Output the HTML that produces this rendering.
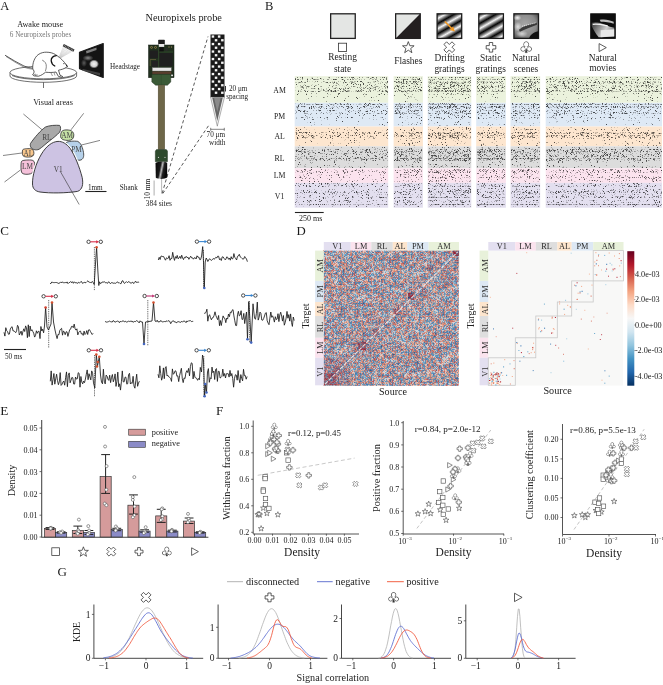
<!DOCTYPE html>
<html><head><meta charset="utf-8"><title>Figure</title>
<style>html,body{margin:0;padding:0;background:#fff;} svg{display:block;} text{font-family:'Liberation Serif', serif;}</style>
</head><body>
<svg width="663" height="685" viewBox="0 0 663 685">
<rect width="663" height="685" fill="#fff"/>
<text x="0.3" y="10" font-size="12.5" text-anchor="start" fill="#1a1a1a">A</text>
<text x="265" y="10" font-size="12.5" text-anchor="start" fill="#1a1a1a">B</text>
<text x="0.2" y="234.8" font-size="13" text-anchor="start" fill="#1a1a1a">C</text>
<text x="296.6" y="234.8" font-size="12.8" text-anchor="start" fill="#1a1a1a">D</text>
<text x="0.3" y="414.9" font-size="13.2" text-anchor="start" fill="#1a1a1a">E</text>
<text x="216" y="414.9" font-size="13.2" text-anchor="start" fill="#1a1a1a">F</text>
<text x="57.6" y="575.9" font-size="13" text-anchor="start" fill="#1a1a1a">G</text>
<text x="40.2" y="26.5" font-size="8.2" text-anchor="middle" fill="#222">Awake mouse</text>
<text x="40.5" y="36.5" font-size="7.2" text-anchor="middle" fill="#777">6 Neuropixels probes</text>
<g stroke="#333" stroke-width="0.7" fill="white"><path d="M10,72.5 L10,76 A33.3,6.3 0 0 0 76.6,76 L76.6,72.5"/><ellipse cx="43.3" cy="72.5" rx="33.3" ry="6.3"/><path d="M12,75.5 A33.3,6.3 0 0 0 74.6,75.5" fill="none"/><line x1="43.5" y1="82.3" x2="43.5" y2="88"/></g>
<path d="M5,55.2 Q15,61.5 24,66 Q29,68 33,68.3" fill="none" stroke="#333" stroke-width="0.8"/>
<path d="M6,56.4 Q15,62.5 24,67.2 Q28,68.8 32.8,69.2" fill="none" stroke="#333" stroke-width="0.5"/>
<path d="M32.7,68.2 C32.5,63 34.5,57.5 38.1,54.7 C41,52.6 44,52.2 46.2,52.2 C50,52.2 53,53 55.5,54.6 C59,56.8 62,59.5 64.5,62.5 C65.8,64 66.8,65.3 67.3,66.5 C66,67.8 64,68.7 62.5,69.2 C61,69.7 59.5,69.9 58.5,70.2 L60,75.2 L62.8,76.6 L61.8,77.3 L58.3,76.3 L56,72 C53,72.6 49,72.6 45.5,72.2 C43.5,73.8 41.5,75.4 38.5,76.2 L33.8,75.9 L32.6,74.6 C33.6,73.6 34.4,72.4 34,71 C33.3,70.1 32.9,69.1 32.7,68.2 Z" fill="white" stroke="#333" stroke-width="0.8" stroke-linejoin="round"/>
<path d="M42.2,60.1 C45,61.5 46.5,63.5 46.3,66.5 C46.2,68.5 45.8,70 45.3,71" fill="none" stroke="#333" stroke-width="0.6"/>
<path d="M33.5,74.5 L36,74.2 M35,75.6 L37.5,74.6 M51,73 L52.5,76 M54,72.6 L55,75.5" stroke="#333" stroke-width="0.5"/>
<path d="M56.3,55.6 C53,55.8 51,58 51.2,60.8 C51.4,63 52.8,65 54.8,66" fill="none" stroke="#111" stroke-width="1.3" stroke-linecap="round"/>
<circle cx="63.9" cy="63.6" r="0.55" fill="#111"/>
<path d="M66,64.5 L67.4,66.6" stroke="#111" stroke-width="1"/>
<line x1="58.8" y1="57.6" x2="63.6" y2="46.6" stroke="#999" stroke-width="0.3"/>
<line x1="59" y1="57.6" x2="64.9" y2="47.2" stroke="#999" stroke-width="0.3"/>
<line x1="59.3" y1="57.7" x2="66.2" y2="47.8" stroke="#999" stroke-width="0.3"/>
<line x1="59.5" y1="57.8" x2="67.5" y2="48.5" stroke="#999" stroke-width="0.3"/>
<line x1="59.8" y1="57.8" x2="68.8" y2="49.1" stroke="#999" stroke-width="0.3"/>
<line x1="60" y1="57.9" x2="70.1" y2="49.7" stroke="#999" stroke-width="0.3"/>
<line x1="60.3" y1="57.9" x2="71.4" y2="50.3" stroke="#999" stroke-width="0.3"/>
<line x1="60.5" y1="58" x2="72.7" y2="50.9" stroke="#999" stroke-width="0.3"/>
<g transform="rotate(27 68.6 47.9)"><rect x="62.6" y="46.6" width="12" height="2.6" fill="#2a2a2a"/><rect x="63.3" y="47.1" width="0.7" height="1.6" fill="#aaa"/><rect x="64.9" y="47.1" width="0.7" height="1.6" fill="#aaa"/><rect x="66.5" y="47.1" width="0.7" height="1.6" fill="#aaa"/><rect x="68.1" y="47.1" width="0.7" height="1.6" fill="#aaa"/><rect x="69.7" y="47.1" width="0.7" height="1.6" fill="#aaa"/><rect x="71.3" y="47.1" width="0.7" height="1.6" fill="#aaa"/><rect x="72.9" y="47.1" width="0.7" height="1.6" fill="#aaa"/></g>
<path d="M79.5,52.3 L103.2,43.5 L103.2,77.4 L79.5,68.6 Z" fill="#141414" stroke="#1a1a1a" stroke-width="1.2" stroke-linejoin="round"/>
<defs><radialGradient id="scrblob" cx="0.5" cy="0.5" r="0.5"><stop offset="0" stop-color="#f4f4f4"/><stop offset="0.6" stop-color="#d0d0d0"/><stop offset="1" stop-color="#d0d0d0" stop-opacity="0"/></radialGradient><radialGradient id="scrg" cx="0.5" cy="0.5" r="0.5"><stop offset="0" stop-color="#8a8a8a"/><stop offset="1" stop-color="#8a8a8a" stop-opacity="0"/></radialGradient></defs>
<path d="M86,51 L96.5,47.5 L96.5,50 L86.5,53.5 Z" fill="#9a9a9a" opacity="0.8"/>
<ellipse cx="88" cy="58" rx="5.5" ry="3" fill="url(#scrg)"/>
<ellipse cx="84" cy="63" rx="3" ry="4" fill="url(#scrg)" opacity="0.6"/>
<ellipse cx="94" cy="64" rx="5" ry="4.5" fill="url(#scrblob)"/>
<path d="M83,69 L100,73 L100,75.5 L82,70.5 Z" fill="#555" opacity="0.7"/>
<text x="110" y="69" font-size="7.2" text-anchor="start" fill="#222">Headstage</text>
<text x="53" y="105.2" font-size="8.2" text-anchor="middle" fill="#222">Visual areas</text>
<g stroke="#333" stroke-width="0.6"><line x1="23.4" y1="114" x2="42.2" y2="129.9"/><line x1="83.7" y1="113.3" x2="70.9" y2="129.9"/><line x1="100" y1="140.4" x2="81.4" y2="145"/><line x1="3" y1="155.5" x2="21.9" y2="153"/><line x1="4.5" y1="182" x2="20.4" y2="170"/></g>
<path d="M66.2,142.6 C68,141.2 74,140.8 77.8,141.4 C81,143 82.8,148 83.5,152.5 C84.2,156.5 83.3,159.6 80,160.2 C78,160.4 76.5,159.8 75.5,158.5 C73.5,155 71.5,150.5 69,147 C68,145.5 66.5,144 66.2,142.6 Z" fill="#b6d1ea" stroke="#2a2a2a" stroke-width="0.8"/>
<path d="M61,133 C61.5,130.5 64,129.8 67,129.9 C71,130 73.6,131.5 73.8,134.8 C74,138.5 72,140.3 68.5,140.4 C64.5,140.5 60.8,139.5 60.6,136.5 Z" fill="#c6e2a6" stroke="#2a2a2a" stroke-width="0.8"/>
<path d="M30.5,143.5 C34,138 41,130 45.5,127 C49,125.4 56,125 59.6,125.4 C61,126.3 60.8,130.5 59.6,132.2 C57,135 53,138.3 50,140.5 C46,143.5 42,147.5 39,149.3 C36,150.6 32,149.5 30.8,147.2 C30.2,146 30.1,144.5 30.5,143.5 Z" fill="#a9a9a9" stroke="#2a2a2a" stroke-width="0.8"/>
<path d="M22.6,150 C23,148.8 27,148.5 30.5,148.7 C33,149 34,151 33.9,153.5 C33.8,156 32,157.1 28.5,157.1 C25,157.1 22.8,156.6 22.5,154.5 C22.3,152.8 22.3,151 22.6,150 Z" fill="#f9c88e" stroke="#2a2a2a" stroke-width="0.8"/>
<path d="M21.6,161.3 C22.5,160.1 27,159.9 31,160 C34,160.2 34.9,162 34.7,165.5 C34.5,169.5 33.6,172.8 30.5,173.8 C27.5,174.6 24,174.5 22.3,173.3 C21,172.3 20.9,168 21,165 C21.1,163.3 21.2,162 21.6,161.3 Z" fill="#f5c1da" stroke="#2a2a2a" stroke-width="0.8"/>
<path d="M58,141.4 C62,141.2 66.5,143.5 70.3,148.6 C75,156 79.5,167 82.2,177.5 C83.5,184 82.5,189.8 77.5,191.4 C66,193.2 50,193.4 40,192 C35,191.2 32.6,188.5 32.5,184 C32.3,176 35.5,164 41.5,154 C46,146.5 52,141.6 58,141.4 Z" fill="none" stroke="white" stroke-width="3"/>
<path d="M58,141.4 C62,141.2 66.5,143.5 70.3,148.6 C75,156 79.5,167 82.2,177.5 C83.5,184 82.5,189.8 77.5,191.4 C66,193.2 50,193.4 40,192 C35,191.2 32.6,188.5 32.5,184 C32.3,176 35.5,164 41.5,154 C46,146.5 52,141.6 58,141.4 Z" fill="#cdc3e3" stroke="#2a2a2a" stroke-width="0.9"/>
<line x1="60.3" y1="171.4" x2="79.2" y2="204.5" stroke="#333" stroke-width="0.6"/>
<text x="46.8" y="139.6" font-size="7.3" text-anchor="middle" fill="#444">RL</text>
<text x="67.2" y="138.4" font-size="7.3" text-anchor="middle" fill="#444">AM</text>
<text x="76.4" y="152" font-size="7.3" text-anchor="middle" fill="#444">PM</text>
<text x="28.4" y="155.5" font-size="7.3" text-anchor="middle" fill="#444">AL</text>
<text x="27.6" y="169.3" font-size="7.3" text-anchor="middle" fill="#444">LM</text>
<text x="58.1" y="171.6" font-size="7.3" text-anchor="middle" fill="#444">V1</text>
<text x="95.3" y="189.5" font-size="7.2" text-anchor="middle" fill="#222">1mm</text>
<line x1="85.3" y1="191.5" x2="106.5" y2="191.5" stroke="#222" stroke-width="1.1"/>
<text x="183.7" y="21.2" font-size="10.3" text-anchor="middle" fill="#1a1a1a">Neuropixels probe</text>
<rect x="158.2" y="39.7" width="6.6" height="5" fill="#1e1e1e" rx="0.6"/>
<rect x="148.5" y="45" width="25.5" height="32.7" fill="#21301e" stroke="#151c14" stroke-width="0.5"/>
<rect x="158.8" y="44" width="5.4" height="2.9" fill="#e8e8e8"/>
<rect x="159.4" y="47.3" width="4.3" height="4.3" fill="#111"/>
<circle cx="151.5" cy="47.4" r="1" fill="none" stroke="#b89c5a" stroke-width="0.6"/><circle cx="155.5" cy="47.4" r="1" fill="none" stroke="#b89c5a" stroke-width="0.6"/><circle cx="169" cy="47" r="0.7" fill="#8a7a50"/><circle cx="171.5" cy="47" r="0.7" fill="#8a7a50"/>
<rect x="149.5" y="50.6" width="8.5" height="7.6" fill="#1f1f1f"/><rect x="159.4" y="53" width="13.3" height="13.3" fill="#1f1f1f"/><rect x="151.8" y="61" width="6.2" height="5.8" fill="#222"/><path d="M150,59.5 L156,59.5 M150.2,60 L150.2,66" stroke="#8a7a4a" stroke-width="0.5"/><path d="M158.6,46 V77 M159.5,52 H173" stroke="#3f5d38" stroke-width="0.5"/><rect x="165.5" y="48" width="2" height="3" fill="#2a2a2a"/>
<rect x="152.3" y="67.7" width="19" height="3.3" fill="#e6e6e6" stroke="#777" stroke-width="0.4"/>
<rect x="152.3" y="71.5" width="19" height="2.8" fill="#5a3e2e"/>
<rect x="171" y="74.6" width="2" height="1.6" fill="#ddd"/>
<path d="M151.8,74.3 L170.8,74.3 L170.8,82 L167.5,85.2 L155.6,85.2 L151.8,82 Z" fill="#3b5a37" stroke="#1e2a1e" stroke-width="0.4"/>
<line x1="161.3" y1="74.5" x2="161.3" y2="85" stroke="#2e4a2b" stroke-width="0.4"/>
<rect x="158.1" y="85" width="6.7" height="64.5" fill="#6e6749" stroke="#4a4532" stroke-width="0.3"/>
<path d="M155.3,151 L156.5,149.5 L166.3,149.5 L167.5,151 L167.5,161.7 L155.3,161.7 Z" fill="#2e4a2d" stroke="#1c2a1c" stroke-width="0.4"/>
<circle cx="158.5" cy="157.4" r="0.6" fill="#ccc"/><circle cx="165" cy="157.4" r="0.6" fill="#ccc"/>
<defs><linearGradient id="cyl" x1="0" y1="0" x2="1" y2="0.3"><stop offset="0" stop-color="#050505"/><stop offset="0.45" stop-color="#1a1a1a"/><stop offset="0.6" stop-color="#bbbbbb"/><stop offset="0.75" stop-color="#222"/><stop offset="1" stop-color="#080808"/></linearGradient></defs>
<path d="M155.5,163 C157,161.5 166,161 167.2,163 L167.2,177.5 C165,179.3 158,179.3 155.8,177.8 Z" fill="url(#cyl)"/>
<line x1="161.6" y1="179" x2="161.6" y2="193.5" stroke="#888" stroke-width="0.6"/>
<line x1="154.1" y1="180.5" x2="154.1" y2="195.5" stroke="#999" stroke-width="0.8"/>
<text x="150.1" y="189" font-size="7.4" text-anchor="middle" fill="#222" transform="rotate(-90 150.1 189)">10 mm</text>
<text x="119.8" y="190.3" font-size="7.2" text-anchor="start" fill="#222">Shank</text>
<text x="158.8" y="205.8" font-size="7.4" text-anchor="middle" fill="#222">384 sites</text>
<g stroke="#222" stroke-width="0.75" stroke-dasharray="3.2,2.4" fill="none"><line x1="162.2" y1="193.2" x2="208" y2="36.5"/><line x1="162.8" y1="193.5" x2="209" y2="125"/></g>
<rect x="210.5" y="34.5" width="14" height="62.5" fill="#1a1a1a"/>
<rect x="211.7" y="35.4" width="2.5" height="2.3" fill="#f4f4f4"/><rect x="217.9" y="35.4" width="2.5" height="2.3" fill="#f4f4f4"/><rect x="214.8" y="39.1" width="2.5" height="2.3" fill="#f4f4f4"/><rect x="221.1" y="39.1" width="2.5" height="2.3" fill="#f4f4f4"/><rect x="211.7" y="42.9" width="2.5" height="2.3" fill="#f4f4f4"/><rect x="217.9" y="42.9" width="2.5" height="2.3" fill="#f4f4f4"/><rect x="214.8" y="46.6" width="2.5" height="2.3" fill="#f4f4f4"/><rect x="221.1" y="46.6" width="2.5" height="2.3" fill="#f4f4f4"/><rect x="211.7" y="50.4" width="2.5" height="2.3" fill="#f4f4f4"/><rect x="217.9" y="50.4" width="2.5" height="2.3" fill="#f4f4f4"/><rect x="214.8" y="54.1" width="2.5" height="2.3" fill="#f4f4f4"/><rect x="221.1" y="54.1" width="2.5" height="2.3" fill="#f4f4f4"/><rect x="211.7" y="57.9" width="2.5" height="2.3" fill="#f4f4f4"/><rect x="217.9" y="57.9" width="2.5" height="2.3" fill="#f4f4f4"/><rect x="214.8" y="61.6" width="2.5" height="2.3" fill="#f4f4f4"/><rect x="221.1" y="61.6" width="2.5" height="2.3" fill="#f4f4f4"/><rect x="211.7" y="65.4" width="2.5" height="2.3" fill="#f4f4f4"/><rect x="217.9" y="65.4" width="2.5" height="2.3" fill="#f4f4f4"/><rect x="214.8" y="69.1" width="2.5" height="2.3" fill="#f4f4f4"/><rect x="221.1" y="69.1" width="2.5" height="2.3" fill="#f4f4f4"/><rect x="211.7" y="72.9" width="2.5" height="2.3" fill="#f4f4f4"/><rect x="217.9" y="72.9" width="2.5" height="2.3" fill="#f4f4f4"/><rect x="214.8" y="76.6" width="2.5" height="2.3" fill="#f4f4f4"/><rect x="221.1" y="76.6" width="2.5" height="2.3" fill="#f4f4f4"/><rect x="211.7" y="80.4" width="2.5" height="2.3" fill="#f4f4f4"/><rect x="217.9" y="80.4" width="2.5" height="2.3" fill="#f4f4f4"/><rect x="214.8" y="84.1" width="2.5" height="2.3" fill="#f4f4f4"/><rect x="221.1" y="84.1" width="2.5" height="2.3" fill="#f4f4f4"/><rect x="211.7" y="87.9" width="2.5" height="2.3" fill="#f4f4f4"/><rect x="217.9" y="87.9" width="2.5" height="2.3" fill="#f4f4f4"/><rect x="214.8" y="91.6" width="2.5" height="2.3" fill="#f4f4f4"/><rect x="221.1" y="91.6" width="2.5" height="2.3" fill="#f4f4f4"/>
<path d="M210.5,97 L224.5,97 L217.3,126.2 Z" fill="#f0f0f0" stroke="#444" stroke-width="0.4"/>
<path d="M212.2,97.5 L222.8,97.5 L217.3,121 Z" fill="#666"/>
<path d="M214,97.5 L220.8,97.5 L217.3,112 Z" fill="#8a8a8a"/>
<path d="M225.5,86 L225.5,91.5" stroke="#333" stroke-width="1"/>
<text x="238.2" y="91.2" font-size="7.2" text-anchor="middle" fill="#222">20 μm</text>
<text x="237.2" y="99" font-size="7.2" text-anchor="middle" fill="#222">spacing</text>
<path d="M210.7,129.3 H224.3 M210.7,127.8 V130.8 M224.3,127.8 V130.8" stroke="#333" stroke-width="0.6"/>
<text x="215.8" y="136.8" font-size="7.2" text-anchor="middle" fill="#222">70 μm</text>
<text x="217.2" y="145" font-size="7.2" text-anchor="middle" fill="#222">width</text>
<rect x="330.65" y="13.8" width="24.6" height="24.6" fill="#e4e6e4" stroke="#222" stroke-width="1.3"/>
<rect x="395.65" y="13.8" width="24.6" height="24.6" fill="#e4e6e4" stroke="#222" stroke-width="1.3"/>
<path d="M420.2,13.8 L420.2,38.4 L395.65,38.4 Z" fill="#231f20"/>
<defs><linearGradient id="gr1" gradientUnits="userSpaceOnUse" x1="437.1" y1="13.8" x2="441.5" y2="21.5" spreadMethod="repeat"><stop offset="0" stop-color="#050505"/><stop offset="0.25" stop-color="#777"/><stop offset="0.5" stop-color="#f4f4f4"/><stop offset="0.75" stop-color="#777"/><stop offset="1" stop-color="#050505"/></linearGradient></defs>
<rect x="437.1" y="13.8" width="24.6" height="24.6" fill="url(#gr1)" stroke="#1a1a1a" stroke-width="1.3"/>
<path d="M444.8,21.5 L452,28.8" stroke="#f59a23" stroke-width="1.5"/><path d="M455,31.6 L449.6,29.9 L453.1,26.4 Z" fill="#f59a23"/>
<defs><linearGradient id="gr2" gradientUnits="userSpaceOnUse" x1="478.8" y1="13.8" x2="483.2" y2="21.5" spreadMethod="repeat"><stop offset="0" stop-color="#050505"/><stop offset="0.25" stop-color="#777"/><stop offset="0.5" stop-color="#f4f4f4"/><stop offset="0.75" stop-color="#777"/><stop offset="1" stop-color="#050505"/></linearGradient></defs>
<rect x="478.8" y="13.8" width="24.6" height="24.6" fill="url(#gr2)" stroke="#1a1a1a" stroke-width="1.3"/>
<defs><radialGradient id="ns" cx="0.45" cy="0.45" r="0.65"><stop offset="0" stop-color="#a8a8a8"/><stop offset="0.7" stop-color="#8a8a8a"/><stop offset="1" stop-color="#555"/></radialGradient><radialGradient id="nsw" cx="0.5" cy="0.5" r="0.5"><stop offset="0" stop-color="#f2f2f2"/><stop offset="1" stop-color="#f2f2f2" stop-opacity="0"/></radialGradient></defs>
<rect x="513.9" y="13.8" width="24.6" height="24.6" fill="url(#ns)" stroke="#1a1a1a" stroke-width="1.3"/>
<ellipse cx="517.4" cy="17.8" rx="4" ry="3" fill="url(#nsw)"/>
<ellipse cx="517.9" cy="26.8" rx="4" ry="5" fill="url(#nsw)" opacity="0.8"/>
<ellipse cx="521.9" cy="33.8" rx="6" ry="3.5" fill="url(#nsw)" opacity="0.7"/>
<path d="M518.9,29.8 C523.9,25.8 529.9,23.8 536.9,22.8 L536.9,24.8 C530.9,26.8 524.9,29.8 519.9,31.8 Z" fill="#2a2a2a" opacity="0.85"/>
<path d="M521.9,26.3 L535.9,22.8" stroke="#eee" stroke-width="0.9" stroke-dasharray="1.2,0.8"/>
<path d="M528.9,38.400000000000006 C530.9,33.8 534.9,31.8 538.5,31.3 L538.5,38.400000000000006 Z" fill="#111"/>
<rect x="590.7" y="13.8" width="24.6" height="24.6" fill="#0e0e0e" stroke="#111" stroke-width="1"/>
<defs><linearGradient id="nm" x1="0" y1="0" x2="1" y2="0.4"><stop offset="0" stop-color="#333"/><stop offset="0.4" stop-color="#8a8a8a"/><stop offset="0.7" stop-color="#cfcfcf"/><stop offset="1" stop-color="#888"/></linearGradient></defs>
<path d="M591.7,22.8 C595.7,21.3 600.7,22.8 604.7,24.8 C608.7,26.3 611.7,27.3 614.2,27.8 L614.2,36.8 L598.7,37.3 C595.7,33.8 592.7,28.8 591.7,25.8 Z" fill="url(#nm)"/>
<path d="M600.7,30.3 L614.2,29.3 L614.2,36.3 L600.7,37.3 Z" fill="#e8e8e8"/>
<path d="M592.7,24.3 C597.7,23.3 602.7,24.8 607.7,25.8" stroke="#f4f4f4" stroke-width="1.3" fill="none"/>
<path d="M599.7,19.8 C604.7,18.8 609.7,19.8 613.7,21.8 L613.7,23.8 C609.7,22.3 604.7,21.8 600.7,21.8 Z" fill="#bdbdbd"/>
<rect x="338.4" y="43.2" width="8.2" height="8.2" fill="white" stroke="#333" stroke-width="0.8"/>
<polygon points="408.3,41.6 409.8,45.7 414.1,45.8 410.7,48.5 411.9,52.7 408.3,50.2 404.7,52.7 405.9,48.5 402.5,45.8 406.8,45.7" fill="white" stroke="#333" stroke-width="0.8" stroke-linejoin="round"/>
<polygon points="452,41.8 454.7,44.5 452,47.2 454.7,49.9 452,52.6 449.3,49.9 446.6,52.6 443.9,49.9 446.6,47.2 443.9,44.5 446.6,41.8 449.3,44.5" fill="white" stroke="#333" stroke-width="0.8" stroke-linejoin="round"/>
<polygon points="489.3,42.5 492.7,42.5 492.7,45.6 495.8,45.6 495.8,49 492.7,49 492.7,52.1 489.3,52.1 489.3,49 486.2,49 486.2,45.6 489.3,45.6" fill="white" stroke="#333" stroke-width="0.8" stroke-linejoin="round"/>
<g><ellipse cx="526.2" cy="44.5" rx="2.4" ry="2.7" fill="white" stroke="#333" stroke-width="0.8"/><ellipse cx="523.1" cy="49" rx="2.2" ry="2.2" fill="white" stroke="#333" stroke-width="0.8"/><ellipse cx="529.3" cy="49" rx="2.2" ry="2.2" fill="white" stroke="#333" stroke-width="0.8"/><ellipse cx="526.2" cy="44.5" rx="2" ry="2.3" fill="white"/><ellipse cx="523.1" cy="49" rx="1.8" ry="1.8" fill="white"/><ellipse cx="529.3" cy="49" rx="1.8" ry="1.8" fill="white"/><rect x="525.1" y="46.8" width="2.3" height="2.8" fill="white"/><path d="M526.2,48.4 L525.2,52.6 L527.2,52.6 Z" fill="#333" stroke="#333" stroke-width="0.5" stroke-linejoin="round"/></g>
<polygon points="599.1,43.6 606.3,47.6 599.1,51.6" fill="white" stroke="#333" stroke-width="0.8" stroke-linejoin="round"/>
<text x="342.5" y="60.4" font-size="9.4" text-anchor="middle" fill="#1e1e1e">Resting</text>
<text x="342.5" y="71.5" font-size="9.4" text-anchor="middle" fill="#1e1e1e">state</text>
<text x="408.3" y="64.3" font-size="9.4" text-anchor="middle" fill="#1e1e1e">Flashes</text>
<text x="449.5" y="60.8" font-size="9.4" text-anchor="middle" fill="#1e1e1e">Drifting</text>
<text x="449.5" y="71.9" font-size="9.4" text-anchor="middle" fill="#1e1e1e">gratings</text>
<text x="490.7" y="60.8" font-size="9.4" text-anchor="middle" fill="#1e1e1e">Static</text>
<text x="490.7" y="71.9" font-size="9.4" text-anchor="middle" fill="#1e1e1e">gratings</text>
<text x="526" y="60.8" font-size="9.4" text-anchor="middle" fill="#1e1e1e">Natural</text>
<text x="526" y="71.9" font-size="9.4" text-anchor="middle" fill="#1e1e1e">scenes</text>
<text x="602.7" y="60.8" font-size="9.4" text-anchor="middle" fill="#1e1e1e">Natural</text>
<text x="602.7" y="71.4" font-size="9.4" text-anchor="middle" fill="#1e1e1e">movies</text>
<rect x="294.7" y="76.2" width="93.5" height="26.6" fill="#ebf2dd"/>
<rect x="393.6" y="76.2" width="29.3" height="26.6" fill="#ebf2dd"/>
<rect x="427.7" y="76.2" width="43.6" height="26.6" fill="#ebf2dd"/>
<rect x="476.2" y="76.2" width="29.7" height="26.6" fill="#ebf2dd"/>
<rect x="510.5" y="76.2" width="29.7" height="26.6" fill="#ebf2dd"/>
<rect x="545.7" y="76.2" width="116.3" height="26.6" fill="#ebf2dd"/>
<rect x="294.7" y="102.8" width="93.5" height="23.7" fill="#dee9f5"/>
<rect x="393.6" y="102.8" width="29.3" height="23.7" fill="#dee9f5"/>
<rect x="427.7" y="102.8" width="43.6" height="23.7" fill="#dee9f5"/>
<rect x="476.2" y="102.8" width="29.7" height="23.7" fill="#dee9f5"/>
<rect x="510.5" y="102.8" width="29.7" height="23.7" fill="#dee9f5"/>
<rect x="545.7" y="102.8" width="116.3" height="23.7" fill="#dee9f5"/>
<rect x="294.7" y="126.5" width="93.5" height="19.8" fill="#fde6cf"/>
<rect x="393.6" y="126.5" width="29.3" height="19.8" fill="#fde6cf"/>
<rect x="427.7" y="126.5" width="43.6" height="19.8" fill="#fde6cf"/>
<rect x="476.2" y="126.5" width="29.7" height="19.8" fill="#fde6cf"/>
<rect x="510.5" y="126.5" width="29.7" height="19.8" fill="#fde6cf"/>
<rect x="545.7" y="126.5" width="116.3" height="19.8" fill="#fde6cf"/>
<rect x="294.7" y="146.3" width="93.5" height="22" fill="#dcdcdc"/>
<rect x="393.6" y="146.3" width="29.3" height="22" fill="#dcdcdc"/>
<rect x="427.7" y="146.3" width="43.6" height="22" fill="#dcdcdc"/>
<rect x="476.2" y="146.3" width="29.7" height="22" fill="#dcdcdc"/>
<rect x="510.5" y="146.3" width="29.7" height="22" fill="#dcdcdc"/>
<rect x="545.7" y="146.3" width="116.3" height="22" fill="#dcdcdc"/>
<rect x="294.7" y="168.3" width="93.5" height="14.6" fill="#fbe3ee"/>
<rect x="393.6" y="168.3" width="29.3" height="14.6" fill="#fbe3ee"/>
<rect x="427.7" y="168.3" width="43.6" height="14.6" fill="#fbe3ee"/>
<rect x="476.2" y="168.3" width="29.7" height="14.6" fill="#fbe3ee"/>
<rect x="510.5" y="168.3" width="29.7" height="14.6" fill="#fbe3ee"/>
<rect x="545.7" y="168.3" width="116.3" height="14.6" fill="#fbe3ee"/>
<rect x="294.7" y="182.9" width="93.5" height="24.8" fill="#e3dfef"/>
<rect x="393.6" y="182.9" width="29.3" height="24.8" fill="#e3dfef"/>
<rect x="427.7" y="182.9" width="43.6" height="24.8" fill="#e3dfef"/>
<rect x="476.2" y="182.9" width="29.7" height="24.8" fill="#e3dfef"/>
<rect x="510.5" y="182.9" width="29.7" height="24.8" fill="#e3dfef"/>
<rect x="545.7" y="182.9" width="116.3" height="24.8" fill="#e3dfef"/>
<path d="M297 77.5h1m31 0h1m21 0h1m0 0h1m6 0h1m8 0h1m4 0h1m2 0h1m5 0h1m16 0h1m13 0h1m21 0h1m13 0h1m9 0h1m0 0h1m2 0h1m38 0h1m69 0h1m16 0h1m10 0h1m9 0h1m39 0h1M295 78.5h1m6 0h1m67 0h1m15 0h1m51 0h1m39 0h1m84 0h1m5 0h1M297 79.5h1m0 0h1m15 0h1m19 0h1m1 0h1m43 0h1m2 0h1m2 0h1m17 0h1m0 0h1m7 0h1m1 0h1m18 0h1m6 0h1m9 0h1m3 0h1m21 0h1m5 0h1m46 0h1m6 0h1m1 0h1m6 0h1m3 0h1m63 0h1m35 0h1m2 0h1M420 80.5h1m9 0h1m1 0h1m37 0h1m84 0h1m20 0h1m14 0h1m45 0h1M307 81.5h1m9 0h1m57 0h1m18 0h1m15 0h1m3 0h1m1 0h1m34 0h1m17 0h1m7 0h1m21 0h1m2 0h1m14 0h1m5 0h1m5 0h1m0 0h1m19 0h1m2 0h1m5 0h1m12 0h1m22 0h1m24 0h1m23 0h1M299 82.5h1m5 0h1m20 0h1m3 0h1m12 0h1m8 0h1m15 0h1m18 0h1m15 0h1m9 0h1m1 0h1m36 0h1m0 0h1m0 0h1m0 0h1m8 0h1m0 0h1m4 0h1m16 0h1m4 0h1m1 0h1m2 0h1m2 0h1m17 0h1m71 0h1m8 0h1m10 0h1m15 0h1m22 0h1m10 0h1M355 83.5h1m47 0h1m7 0h1m0 0h1m31 0h1m17 0h1m0 0h1m29 0h1m41 0h1m26 0h1m5 0h1m30 0h1m22 0h1m8 0h1M356 84.5h1m1 0h1m10 0h1m80 0h1m0 0h1m74 0h1m24 0h1m2 0h1m9 0h1m21 0h1m61 0h1M305 85.5h1m23 0h1m30 0h1m6 0h1m29 0h1m38 0h1m19 0h1m11 0h1m29 0h1m1 0h1m18 0h1m6 0h1m3 0h1m4 0h1m21 0h1m17 0h1m17 0h1m0 0h1m20 0h1m34 0h1M302 86.5h1m4 0h1m0 0h1m23 0h1m20 0h1m30 0h1m10 0h1m32 0h1m8 0h1m1 0h1m4 0h1m7 0h1m28 0h1m5 0h1m4 0h1m11 0h1m7 0h1m1 0h1m1 0h1m86 0h1m11 0h1m25 0h1m4 0h1m2 0h1m1 0h1m0 0h1m4 0h1M302 87.5h1m54 0h1m7 0h1m9 0h1m53 0h1m5 0h1m49 0h1m32 0h1m6 0h1m5 0h1m17 0h1m101 0h1M314 88.5h1m20 0h1m9 0h1m21 0h1m26 0h1m6 0h1m14 0h1m17 0h1m8 0h1m0 0h1m16 0h1m22 0h1m4 0h1m32 0h1m1 0h1m4 0h1m9 0h1m6 0h1m22 0h1m6 0h1m9 0h1m1 0h1m72 0h1M323 89.5h1m19 0h1m17 0h1m13 0h1m43 0h1m0 0h1m23 0h1m39 0h1m49 0h1m12 0h1m23 0h1m0 0h1m3 0h1m42 0h1m2 0h1m5 0h1m1 0h1m7 0h1m18 0h1M304 90.5h1m18 0h1m36 0h1m2 0h1m21 0h1m22 0h1m6 0h1m12 0h1m10 0h1m5 0h1m7 0h1m1 0h1m1 0h1m7 0h1m4 0h1m11 0h1m3 0h1m30 0h1m7 0h1m9 0h1m2 0h1m0 0h1m7 0h1m5 0h1m2 0h1m0 0h1m1 0h1m22 0h1m12 0h1m11 0h1m0 0h1m2 0h1M312 91.5h1m0 0h1m5 0h1m20 0h1m1 0h1m4 0h1m13 0h1m4 0h1m3 0h1m16 0h1m14 0h1m0 0h1m7 0h1m17 0h1m1 0h1m27 0h1m7 0h1m13 0h1m1 0h1m9 0h1m2 0h1m4 0h1m17 0h1m4 0h1m1 0h1m2 0h1m18 0h1m22 0h1m6 0h1m19 0h1m2 0h1m6 0h1m21 0h1m25 0h1M387 92.5h1m209 0h1M327 93.5h1m10 0h1m42 0h1m65 0h1m3 0h1m5 0h1m25 0h1m3 0h1m41 0h1m17 0h1m0 0h1m27 0h1m2 0h1m15 0h1m37 0h1m26 0h1M338 94.5h1m24 0h1m2 0h1m37 0h1m32 0h1m8 0h1m110 0h1m47 0h1M394 95.5h1m10 0h1M311 96.5h1m36 0h1m59 0h1m178 0h1M323 97.5h1m108 0h1m9 0h1m78 0h1m60 0h1m24 0h1m9 0h1M547 98.5h1m96 0h1M552 99.5h1M633 100.5h1m3 0h1m8 0h1M560 101.5h1M300 103.5h1m39 0h1m6 0h1m51 0h1m10 0h1m18 0h1m3 0h1m6 0h1m3 0h1m7 0h1m14 0h1m16 0h1m36 0h1m12 0h1m29 0h1m1 0h1m17 0h1m37 0h1M317 104.5h1m0 0h1m12 0h1m8 0h1m0 0h1m30 0h1m1 0h1m5 0h1m15 0h1m13 0h1m8 0h1m0 0h1m11 0h1m5 0h1m12 0h1m0 0h1m1 0h1m22 0h1m1 0h1m32 0h1m11 0h1m3 0h1m6 0h1m15 0h1m2 0h1m0 0h1m2 0h1m0 0h1m8 0h1m2 0h1m2 0h1m1 0h1m2 0h1m3 0h1m5 0h1m0 0h1m0 0h1m3 0h1m2 0h1m3 0h1m31 0h1m6 0h1m6 0h1m4 0h1m4 0h1m2 0h1M367 105.5h1m0 0h1m41 0h1m27 0h1m15 0h1m15 0h1m106 0h1m46 0h1m13 0h1M301 106.5h1m24 0h1m14 0h1m4 0h1m0 0h1m30 0h1m23 0h1m14 0h1m15 0h1m16 0h1m11 0h1m0 0h1m32 0h1m3 0h1m14 0h1m37 0h1m13 0h1m10 0h1m8 0h1m3 0h1m10 0h1m19 0h1m15 0h1m2 0h1m14 0h1m3 0h1M297 107.5h1m13 0h1m9 0h1m21 0h1m4 0h1m15 0h1m14 0h1m50 0h1m11 0h1m7 0h1m1 0h1m31 0h1m38 0h1m40 0h1m7 0h1m15 0h1m24 0h1m6 0h1m9 0h1m10 0h1m6 0h1m3 0h1M320 108.5h1m30 0h1m49 0h1m55 0h1m1 0h1m9 0h1m9 0h1m5 0h1m36 0h1m1 0h1m3 0h1m115 0h1m12 0h1M397 109.5h1m54 0h1m152 0h1m16 0h1m27 0h1M304 110.5h1m24 0h1m4 0h1m25 0h1m16 0h1m7 0h1m9 0h1m14 0h1m5 0h1m0 0h1m0 0h1m2 0h1m21 0h1m19 0h1m6 0h1m9 0h1m5 0h1m4 0h1m32 0h1m1 0h1m0 0h1m11 0h1m12 0h1m11 0h1m13 0h1m9 0h1m7 0h1m2 0h1m35 0h1m12 0h1M307 111.5h1m64 0h1m13 0h1m12 0h1m8 0h1m2 0h1m25 0h1m1 0h1m4 0h1m19 0h1m64 0h1m35 0h1m1 0h1m69 0h1M396 112.5h1m51 0h1m6 0h1m4 0h1m1 0h1m32 0h1m0 0h1m23 0h1m37 0h1m5 0h1m78 0h1M316 113.5h1m6 0h1m43 0h1m10 0h1m16 0h1m6 0h1m6 0h1m4 0h1m14 0h1m14 0h1m6 0h1m18 0h1m26 0h1m1 0h1m11 0h1m16 0h1m4 0h1m1 0h1m20 0h1m9 0h1m24 0h1m3 0h1m17 0h1m10 0h1m28 0h1m6 0h1M347 114.5h1m208 0h1M305 115.5h1m53 0h1m15 0h1m82 0h1m39 0h1m5 0h1m18 0h1m10 0h1m4 0h1m16 0h1m15 0h1m81 0h1M400 116.5h1m47 0h1m13 0h1M301 117.5h1m0 0h1m35 0h1m13 0h1m29 0h1m16 0h1m16 0h1m22 0h1m9 0h1m8 0h1m37 0h1m15 0h1m11 0h1m6 0h1m21 0h1m7 0h1m11 0h1m6 0h1m23 0h1m7 0h1m39 0h1M336 118.5h1m82 0h1m63 0h1m53 0h1m57 0h1m19 0h1M312 119.5h1m0 0h1m114 0h1m14 0h1M336 120.5h1M358 121.5h1m224 0h1M402 122.5h1m54 0h1m181 0h1M420 123.5h1M416 124.5h1m37 0h1m1 0h1m31 0h1m15 0h1m147 0h1M438 127.5h1M296 128.5h1m341 0h1M344 129.5h1m121 0h1m63 0h1m1 0h1m16 0h1m54 0h1M612 130.5h1m9 0h1m25 0h1M296 132.5h1m3 0h1m0 0h1m1 0h1m11 0h1m27 0h1m18 0h1m17 0h1m37 0h1m15 0h1m3 0h1m11 0h1m47 0h1m37 0h1m14 0h1m2 0h1m14 0h1m35 0h1m1 0h1m1 0h1m19 0h1m13 0h1m3 0h1m4 0h1M296 133.5h1m9 0h1m26 0h1m35 0h1m8 0h1m17 0h1m12 0h1m19 0h1m2 0h1m12 0h1m8 0h1m43 0h1m2 0h1m25 0h1m6 0h1m12 0h1m10 0h1m19 0h1m1 0h1m49 0h1m9 0h1m3 0h1m7 0h1m0 0h1M296 134.5h1m11 0h1m55 0h1m32 0h1m13 0h1m26 0h1m56 0h1m7 0h1m97 0h1m5 0h1m14 0h1M311 135.5h1m4 0h1m17 0h1m27 0h1m47 0h1m24 0h1m3 0h1m0 0h1m11 0h1m13 0h1m32 0h1m12 0h1m40 0h1m2 0h1m0 0h1m3 0h1m2 0h1m4 0h1m8 0h1m2 0h1m0 0h1m8 0h1m9 0h1m28 0h1m3 0h1m3 0h1m0 0h1M311 136.5h1m20 0h1m27 0h1m9 0h1m65 0h1m6 0h1m0 0h1m7 0h1m10 0h1m24 0h1m28 0h1m9 0h1m2 0h1m1 0h1m13 0h1m0 0h1m14 0h1m33 0h1m1 0h1m19 0h1m6 0h1M348 137.5h1m11 0h1m81 0h1m11 0h1m3 0h1m6 0h1m22 0h1m5 0h1m16 0h1m1 0h1m15 0h1m3 0h1m18 0h1m14 0h1m36 0h1m7 0h1m6 0h1m10 0h1m11 0h1m0 0h1M332 138.5h1m21 0h1m145 0h1m73 0h1m8 0h1m7 0h1m1 0h1m37 0h1m12 0h1M364 139.5h1M411 140.5h1m68 0h1m123 0h1M398 141.5h1m226 0h1M305 142.5h1m24 0h1m23 0h1m62 0h1m23 0h1m143 0h1m56 0h1m16 0h1M348 143.5h1m59 0h1m0 0h1m127 0h1m41 0h1m25 0h1m42 0h1m10 0h1M437 144.5h1m43 0h1m1 0h1M496 145.5h1m69 0h1m80 0h1m5 0h1m2 0h1M303 147.5h1m47 0h1m30 0h1m12 0h1m68 0h1m107 0h1m6 0h1m68 0h1M409 148.5h1M298 149.5h1m6 0h1m22 0h1m8 0h1m14 0h1m42 0h1m3 0h1m1 0h1m9 0h1m9 0h1m15 0h1m3 0h1m15 0h1m2 0h1m6 0h1m13 0h1m3 0h1m4 0h1m7 0h1m5 0h1m44 0h1m10 0h1m12 0h1m2 0h1m3 0h1m25 0h1m5 0h1m14 0h1m21 0h1m6 0h1m3 0h1M297 150.5h1m50 0h1m4 0h1m11 0h1m3 0h1m14 0h1m21 0h1m29 0h1m42 0h1m9 0h1m2 0h1m41 0h1m12 0h1m5 0h1m1 0h1m11 0h1m16 0h1m46 0h1M298 151.5h1m5 0h1m19 0h1m22 0h1m8 0h1m9 0h1m3 0h1m11 0h1m13 0h1m0 0h1m3 0h1m6 0h1m2 0h1m0 0h1m3 0h1m1 0h1m10 0h1m1 0h1m13 0h1m11 0h1m26 0h1m4 0h1m5 0h1m4 0h1m22 0h1m15 0h1m10 0h1m3 0h1m17 0h1m10 0h1m0 0h1m2 0h1m1 0h1m3 0h1m1 0h1m21 0h1m4 0h1m0 0h1m16 0h1m5 0h1m0 0h1m8 0h1M304 152.5h1m0 0h1m7 0h1m21 0h1m24 0h1m0 0h1m3 0h1m35 0h1m18 0h1m13 0h1m12 0h1m0 0h1m1 0h1m26 0h1m0 0h1m5 0h1m26 0h1m3 0h1m1 0h1m54 0h1m29 0h1m3 0h1m7 0h1m44 0h1M308 153.5h1m28 0h1m6 0h1m0 0h1m0 0h1m62 0h1m32 0h1m10 0h1m6 0h1m18 0h1m19 0h1m22 0h1m11 0h1m41 0h1m82 0h1M308 154.5h1m35 0h1m14 0h1m7 0h1m11 0h1m6 0h1m8 0h1m6 0h1m10 0h1m15 0h1m34 0h1m0 0h1m26 0h1m33 0h1m12 0h1m34 0h1m31 0h1m2 0h1m30 0h1m4 0h1m5 0h1M304 155.5h1m70 0h1m9 0h1m20 0h1m10 0h1m15 0h1m4 0h1m10 0h1m14 0h1m3 0h1m17 0h1m12 0h1m15 0h1m39 0h1m31 0h1m3 0h1m9 0h1m3 0h1m36 0h1M326 156.5h1m9 0h1m15 0h1m22 0h1m11 0h1m44 0h1m5 0h1m22 0h1m2 0h1m1 0h1m30 0h1m1 0h1m14 0h1m41 0h1m6 0h1m2 0h1m1 0h1m6 0h1m0 0h1m9 0h1m4 0h1m10 0h1m0 0h1m14 0h1m5 0h1M306 157.5h1m51 0h1m1 0h1m50 0h1m7 0h1m11 0h1m81 0h1m53 0h1m15 0h1m1 0h1m14 0h1m8 0h1m32 0h1M306 158.5h1m15 0h1m3 0h1m4 0h1m4 0h1m2 0h1m0 0h1m5 0h1m1 0h1m23 0h1m3 0h1m23 0h1m0 0h1m0 0h1m0 0h1m0 0h1m2 0h1m7 0h1m1 0h1m12 0h1m4 0h1m4 0h1m4 0h1m4 0h1m4 0h1m9 0h1m4 0h1m7 0h1m5 0h1m0 0h1m1 0h1m0 0h1m1 0h1m11 0h1m22 0h1m1 0h1m3 0h1m2 0h1m3 0h1m11 0h1m21 0h1m0 0h1m4 0h1m25 0h1m2 0h1m8 0h1m0 0h1m13 0h1M315 159.5h1m0 0h1m3 0h1m2 0h1m22 0h1m16 0h1m15 0h1m17 0h1m8 0h1m21 0h1m5 0h1m13 0h1m5 0h1m3 0h1m33 0h1m4 0h1m13 0h1m12 0h1m34 0h1m15 0h1m0 0h1m13 0h1m13 0h1m28 0h1m0 0h1m19 0h1M295 160.5h1m20 0h1m32 0h1m23 0h1m22 0h1m22 0h1m16 0h1m13 0h1m1 0h1m5 0h1m1 0h1m1 0h1m96 0h1m8 0h1m71 0h1M334 161.5h1m79 0h1m50 0h1m33 0h1m62 0h1m57 0h1m25 0h1M492 162.5h1m7 0h1m23 0h1m37 0h1m34 0h1m40 0h1M469 163.5h1M412 164.5h1m17 0h1m71 0h1M406 165.5h1m39 0h1m186 0h1M317 166.5h1m84 0h1m14 0h1m2 0h1m20 0h1m35 0h1m5 0h1m44 0h1m30 0h1m67 0h1M382 167.5h1m15 0h1m22 0h1m177 0h1m21 0h1M305 169.5h1m15 0h1m23 0h1m68 0h1m68 0h1m96 0h1m12 0h1m16 0h1m0 0h1m0 0h1M301 170.5h1m8 0h1m14 0h1m17 0h1m51 0h1m67 0h1m15 0h1m2 0h1m4 0h1m32 0h1m2 0h1m7 0h1m28 0h1m22 0h1m13 0h1m13 0h1m9 0h1m30 0h1M297 171.5h1m4 0h1m13 0h1m30 0h1m4 0h1m7 0h1m11 0h1m9 0h1m31 0h1m35 0h1m16 0h1m12 0h1m2 0h1m2 0h1m32 0h1m12 0h1m59 0h1m25 0h1m10 0h1m4 0h1m21 0h1M327 172.5h1m6 0h1m9 0h1m2 0h1m10 0h1m20 0h1m3 0h1m1 0h1m49 0h1m9 0h1m3 0h1m2 0h1m10 0h1m3 0h1m59 0h1m7 0h1m34 0h1m6 0h1m9 0h1m2 0h1m3 0h1m3 0h1m44 0h1m9 0h1M344 173.5h1m39 0h1m55 0h1m36 0h1m0 0h1m6 0h1M338 174.5h1m20 0h1m90 0h1m129 0h1m7 0h1M308 175.5h1m20 0h1m1 0h1m37 0h1m30 0h1m10 0h1m1 0h1m31 0h1m8 0h1m11 0h1m0 0h1m27 0h1m7 0h1m48 0h1m39 0h1M304 176.5h1m38 0h1m77 0h1m20 0h1m26 0h1m34 0h1m6 0h1m15 0h1m91 0h1m22 0h1m2 0h1M339 177.5h1m3 0h1m72 0h1m25 0h1m10 0h1m27 0h1m47 0h1m32 0h1m20 0h1m27 0h1m10 0h1m0 0h1m5 0h1m2 0h1m1 0h1m5 0h1m5 0h1m12 0h1m0 0h1M305 178.5h1m3 0h1m3 0h1m132 0h1m55 0h1m48 0h1m93 0h1m3 0h1m3 0h1m0 0h1M385 179.5h1m66 0h1m199 0h1m3 0h1M430 180.5h1m166 0h1m31 0h1M318 181.5h1m93 0h1m100 0h1m11 0h1m29 0h1m0 0h1m43 0h1m15 0h1M296 183.5h1m12 0h1m2 0h1m6 0h1m17 0h1m46 0h1m44 0h1m6 0h1m1 0h1m45 0h1m26 0h1m7 0h1m51 0h1m0 0h1m18 0h1m29 0h1M300 184.5h1m50 0h1m0 0h1m52 0h1m2 0h1m75 0h1m6 0h1m3 0h1m21 0h1m95 0h1m20 0h1M295 185.5h1m19 0h1m18 0h1m6 0h1m61 0h1m0 0h1m4 0h1m4 0h1m45 0h1m22 0h1m1 0h1m5 0h1m7 0h1m19 0h1m19 0h1m16 0h1m19 0h1m16 0h1m28 0h1m1 0h1M299 186.5h1m9 0h1m36 0h1m62 0h1m2 0h1m31 0h1m2 0h1m4 0h1m7 0h1m2 0h1m4 0h1m52 0h1m4 0h1m42 0h1m24 0h1m34 0h1m1 0h1m20 0h1M403 187.5h1m15 0h1m64 0h1m41 0h1m95 0h1M429 188.5h1m30 0h1m185 0h1M329 189.5h1m83 0h1m20 0h1m19 0h1m22 0h1m38 0h1m5 0h1m23 0h1m28 0h1m37 0h1m28 0h1m10 0h1m5 0h1M307 190.5h1m55 0h1m56 0h1m0 0h1m34 0h1m0 0h1m10 0h1m8 0h1m25 0h1m72 0h1m11 0h1m21 0h1m21 0h1m0 0h1M303 191.5h1m31 0h1m8 0h1m65 0h1m41 0h1m12 0h1m2 0h1m1 0h1m14 0h1m26 0h1m1 0h1m58 0h1m11 0h1m1 0h1m39 0h1M306 192.5h1m27 0h1m9 0h1m41 0h1m13 0h1m0 0h1m4 0h1m8 0h1m12 0h1m12 0h1m28 0h1m16 0h1m1 0h1m0 0h1m43 0h1m15 0h1m2 0h1m5 0h1m21 0h1m1 0h1m25 0h1m26 0h1m7 0h1m16 0h1M295 193.5h1m23 0h1m12 0h1m15 0h1m12 0h1m38 0h1m52 0h1m14 0h1m59 0h1m0 0h1m63 0h1m51 0h1M324 194.5h1m4 0h1m75 0h1m2 0h1m12 0h1m41 0h1m35 0h1m88 0h1m58 0h1M342 195.5h1m219 0h1M447 196.5h1m34 0h1m6 0h1m0 0h1m65 0h1m5 0h1m0 0h1m2 0h1m1 0h1m12 0h1m6 0h1m14 0h1m27 0h1m6 0h1m15 0h1m1 0h1M304 197.5h1m43 0h1m3 0h1m8 0h1m17 0h1m18 0h1m0 0h1m10 0h1m22 0h1m7 0h1m3 0h1m18 0h1m18 0h1m2 0h1m0 0h1m7 0h1m20 0h1m4 0h1m8 0h1m2 0h1m60 0h1m3 0h1m2 0h1m18 0h1m12 0h1m3 0h1m11 0h1m8 0h1M362 198.5h1m8 0h1m148 0h1m39 0h1m12 0h1m45 0h1m12 0h1M607 199.5h1m18 0h1M334 200.5h1m12 0h1m25 0h1m8 0h1m16 0h1m30 0h1m3 0h1m17 0h1m7 0h1m38 0h1m21 0h1m14 0h1m16 0h1m16 0h1m49 0h1m18 0h1M319 201.5h1m0 0h1m46 0h1m43 0h1m8 0h1m11 0h1m32 0h1m51 0h1m8 0h1m26 0h1m22 0h1m35 0h1m1 0h1M295 202.5h1m38 0h1m12 0h1m1 0h1m165 0h1m88 0h1m6 0h1m11 0h1m4 0h1m28 0h1M405 203.5h1m173 0h1M310 204.5h1m9 0h1m1 0h1m9 0h1m2 0h1m8 0h1m23 0h1m15 0h1m1 0h1m23 0h1m1 0h1m2 0h1m15 0h1m4 0h1m13 0h1m1 0h1m2 0h1m7 0h1m13 0h1m2 0h1m3 0h1m5 0h1m0 0h1m4 0h1m4 0h1m20 0h1m12 0h1m17 0h1m4 0h1m4 0h1m5 0h1m6 0h1m3 0h1m10 0h1m2 0h1m9 0h1m0 0h1m3 0h1m22 0h1m0 0h1m10 0h1m0 0h1m2 0h1m0 0h1m4 0h1M358 205.5h1m276 0h1m24 0h1M319 206.5h1m46 0h1" stroke="#000" stroke-opacity="0.5" stroke-width="1" fill="none"/>
<path d="M300 77.5h1m37 0h1m6 0h1m3 0h1m12 0h1m23 0h1m17 0h1m5 0h1m5 0h1m40 0h1m12 0h1m6 0h1m1 0h1m12 0h1m31 0h1m1 0h1m39 0h1m25 0h1m22 0h1m0 0h1m4 0h1M587 78.5h1m34 0h1m25 0h1M313 79.5h1m1 0h1m1 0h1m5 0h1m3 0h1m0 0h1m18 0h1m4 0h1m0 0h1m5 0h1m15 0h1m22 0h1m18 0h1m11 0h1m9 0h1m0 0h1m2 0h1m1 0h1m2 0h1m3 0h1m8 0h1m0 0h1m21 0h1m3 0h1m5 0h1m0 0h1m20 0h1m36 0h1m2 0h1m12 0h1m0 0h1m3 0h1m21 0h1m13 0h1m5 0h1m2 0h1m1 0h1m10 0h1m12 0h1m1 0h1m7 0h1m2 0h1m0 0h1M377 80.5h1m152 0h1M315 81.5h1m7 0h1m20 0h1m50 0h1m3 0h1m9 0h1m5 0h1m2 0h1m18 0h1m0 0h1m8 0h1m35 0h1m7 0h1m9 0h1m23 0h1m34 0h1m3 0h1m6 0h1m15 0h1m14 0h1m4 0h1m5 0h1m17 0h1M300 82.5h1m3 0h1m31 0h1m9 0h1m4 0h1m10 0h1m19 0h1m14 0h1m1 0h1m36 0h1m31 0h1m9 0h1m2 0h1m14 0h1m19 0h1m5 0h1m6 0h1m2 0h1m2 0h1m2 0h1m19 0h1m20 0h1m6 0h1m17 0h1m2 0h1m3 0h1m7 0h1m17 0h1m5 0h1m10 0h1m0 0h1M333 83.5h1m2 0h1m0 0h1m64 0h1m31 0h1m17 0h1m16 0h1m7 0h1m5 0h1m17 0h1m20 0h1m1 0h1m0 0h1m56 0h1m20 0h1m35 0h1m10 0h1M318 84.5h1m19 0h1m36 0h1m25 0h1m37 0h1m0 0h1m3 0h1m88 0h1m127 0h1M315 85.5h1m20 0h1m9 0h1m38 0h1m10 0h1m56 0h1m13 0h1m2 0h1m7 0h1m12 0h1m66 0h1m3 0h1m29 0h1m37 0h1m10 0h1m3 0h1m2 0h1M301 86.5h1m19 0h1m29 0h1m2 0h1m21 0h1m0 0h1m25 0h1m9 0h1m24 0h1m12 0h1m32 0h1m10 0h1m26 0h1m6 0h1m3 0h1m0 0h1m18 0h1m12 0h1m1 0h1m10 0h1m11 0h1m27 0h1m11 0h1M303 87.5h1m65 0h1m4 0h1m10 0h1m12 0h1m59 0h1m7 0h1m10 0h1m8 0h1m3 0h1m7 0h1m4 0h1m20 0h1m80 0h1m5 0h1m2 0h1m19 0h1m2 0h1m10 0h1M303 88.5h1m7 0h1m22 0h1m6 0h1m1 0h1m3 0h1m12 0h1m2 0h1m0 0h1m31 0h1m6 0h1m10 0h1m21 0h1m1 0h1m12 0h1m2 0h1m7 0h1m18 0h1m46 0h1m28 0h1m5 0h1m26 0h1m58 0h1M301 89.5h1m16 0h1m50 0h1m48 0h1m36 0h1m2 0h1m52 0h1m11 0h1m2 0h1m60 0h1m28 0h1m18 0h1M298 90.5h1m25 0h1m5 0h1m7 0h1m9 0h1m7 0h1m13 0h1m2 0h1m8 0h1m3 0h1m13 0h1m6 0h1m1 0h1m19 0h1m11 0h1m7 0h1m0 0h1m9 0h1m31 0h1m44 0h1m30 0h1m2 0h1m8 0h1m12 0h1m0 0h1m6 0h1m7 0h1m29 0h1m5 0h1M311 91.5h1m22 0h1m8 0h1m4 0h1m9 0h1m0 0h1m8 0h1m28 0h1m20 0h1m15 0h1m1 0h1m11 0h1m13 0h1m0 0h1m14 0h1m18 0h1m4 0h1m13 0h1m17 0h1m15 0h1m37 0h1m2 0h1m3 0h1m7 0h1m5 0h1m1 0h1m11 0h1m2 0h1m2 0h1m5 0h1m0 0h1m8 0h1m7 0h1M463 92.5h1m75 0h1M311 93.5h1m4 0h1m126 0h1m4 0h1m48 0h1m28 0h1m96 0h1m0 0h1m11 0h1M412 94.5h1m21 0h1m16 0h1m1 0h1m60 0h1m48 0h1m58 0h1M651 95.5h1M327 96.5h1m108 0h1m4 0h1m75 0h1m120 0h1M452 97.5h1m44 0h1M308 98.5h1m36 0h1m61 0h1m170 0h1M443 99.5h1m15 0h1M297 100.5h1m262 0h1m90 0h1M326 101.5h1M304 103.5h1m74 0h1m66 0h1m4 0h1m95 0h1m1 0h1m0 0h1m30 0h1m24 0h1m7 0h1m30 0h1M301 104.5h1m2 0h1m2 0h1m1 0h1m2 0h1m17 0h1m6 0h1m10 0h1m17 0h1m3 0h1m6 0h1m7 0h1m14 0h1m29 0h1m4 0h1m0 0h1m6 0h1m1 0h1m9 0h1m35 0h1m2 0h1m7 0h1m1 0h1m21 0h1m0 0h1m8 0h1m19 0h1m6 0h1m9 0h1m23 0h1m8 0h1m2 0h1m8 0h1m4 0h1m21 0h1m9 0h1m4 0h1M552 105.5h1m6 0h1m95 0h1M302 106.5h1m0 0h1m35 0h1m2 0h1m23 0h1m3 0h1m8 0h1m17 0h1m1 0h1m19 0h1m10 0h1m9 0h1m4 0h1m8 0h1m40 0h1m20 0h1m14 0h1m2 0h1m21 0h1m2 0h1m2 0h1m11 0h1m6 0h1m2 0h1m5 0h1m7 0h1m2 0h1m3 0h1m5 0h1m14 0h1m2 0h1m0 0h1m3 0h1m7 0h1m0 0h1m2 0h1m3 0h1M313 107.5h1m4 0h1m0 0h1m17 0h1m22 0h1m16 0h1m24 0h1m26 0h1m1 0h1m5 0h1m3 0h1m13 0h1m0 0h1m13 0h1m10 0h1m3 0h1m5 0h1m21 0h1m25 0h1m22 0h1m7 0h1m12 0h1m9 0h1m17 0h1m2 0h1m2 0h1m5 0h1m4 0h1m8 0h1m15 0h1M330 108.5h1m40 0h1m15 0h1m8 0h1m0 0h1m22 0h1m15 0h1m66 0h1m27 0h1m4 0h1m21 0h1m3 0h1m4 0h1m57 0h1m12 0h1M345 109.5h1m86 0h1m62 0h1m117 0h1M316 110.5h1m15 0h1m16 0h1m3 0h1m4 0h1m39 0h1m15 0h1m0 0h1m12 0h1m37 0h1m55 0h1m24 0h1m8 0h1m1 0h1m64 0h1m10 0h1m5 0h1M330 111.5h1m43 0h1m67 0h1m35 0h1m1 0h1m12 0h1m10 0h1m9 0h1m0 0h1m14 0h1m15 0h1m9 0h1m7 0h1m26 0h1m9 0h1m19 0h1m17 0h1M296 112.5h1m24 0h1m27 0h1m52 0h1m41 0h1m13 0h1m60 0h1m4 0h1m32 0h1m64 0h1m10 0h1m11 0h1m1 0h1M304 113.5h1m0 0h1m56 0h1m6 0h1m7 0h1m3 0h1m15 0h1m6 0h1m1 0h1m10 0h1m12 0h1m26 0h1m6 0h1m1 0h1m2 0h1m14 0h1m35 0h1m34 0h1m6 0h1m26 0h1m11 0h1m8 0h1m8 0h1m7 0h1M310 114.5h1m141 0h1m25 0h1m38 0h1m42 0h1M363 115.5h1m66 0h1m23 0h1m26 0h1m55 0h1m15 0h1m30 0h1m25 0h1M455 116.5h1m96 0h1M309 117.5h1m2 0h1m28 0h1m58 0h1m1 0h1m27 0h1m5 0h1m1 0h1m30 0h1m19 0h1m13 0h1m47 0h1m61 0h1m15 0h1M324 118.5h1m116 0h1m44 0h1m42 0h1m101 0h1m3 0h1M383 119.5h1m76 0h1m51 0h1m110 0h1M431 120.5h1m83 0h1m54 0h1m88 0h1M417 122.5h1m37 0h1m118 0h1M398 124.5h1m12 0h1m80 0h1M384 125.5h1m54 0h1m50 0h1m39 0h1M304 127.5h1m321 0h1M339 128.5h1m73 0h1m23 0h1m32 0h1m53 0h1m104 0h1M331 129.5h1m27 0h1m85 0h1m16 0h1m7 0h1m56 0h1m0 0h1m2 0h1M296 130.5h1m36 0h1m17 0h1m34 0h1m82 0h1m113 0h1m53 0h1M321 132.5h1m0 0h1m11 0h1m19 0h1m13 0h1m5 0h1m3 0h1m0 0h1m7 0h1m18 0h1m2 0h1m10 0h1m22 0h1m43 0h1m1 0h1m3 0h1m2 0h1m33 0h1m15 0h1m10 0h1m8 0h1m3 0h1m10 0h1m11 0h1m9 0h1m21 0h1m28 0h1M302 133.5h1m16 0h1m26 0h1m15 0h1m0 0h1m0 0h1m2 0h1m42 0h1m1 0h1m0 0h1m23 0h1m2 0h1m36 0h1m1 0h1m32 0h1m5 0h1m9 0h1m35 0h1m11 0h1m57 0h1m16 0h1m8 0h1M454 134.5h1m6 0h1m4 0h1m11 0h1m49 0h1m3 0h1m47 0h1m22 0h1m45 0h1M302 135.5h1m6 0h1m20 0h1m19 0h1m60 0h1m0 0h1m6 0h1m18 0h1m10 0h1m7 0h1m0 0h1m1 0h1m29 0h1m0 0h1m1 0h1m24 0h1m3 0h1m1 0h1m7 0h1m21 0h1m10 0h1m0 0h1m26 0h1m1 0h1m2 0h1m9 0h1m6 0h1m12 0h1m3 0h1m13 0h1m6 0h1M313 136.5h1m16 0h1m40 0h1m37 0h1m9 0h1m25 0h1m5 0h1m59 0h1m3 0h1m8 0h1m3 0h1m27 0h1m42 0h1m9 0h1m19 0h1m1 0h1m14 0h1M303 137.5h1m0 0h1m0 0h1m7 0h1m27 0h1m31 0h1m12 0h1m52 0h1m9 0h1m2 0h1m2 0h1m0 0h1m13 0h1m19 0h1m1 0h1m11 0h1m7 0h1m1 0h1m17 0h1m31 0h1m7 0h1m45 0h1m35 0h1M327 138.5h1m45 0h1m0 0h1m12 0h1m25 0h1m42 0h1m130 0h1m0 0h1M442 139.5h1m206 0h1M351 142.5h1m60 0h1m126 0h1m6 0h1m0 0h1m84 0h1M330 143.5h1m187 0h1m52 0h1M609 144.5h1m18 0h1M409 145.5h1m4 0h1m82 0h1M325 147.5h1m46 0h1m71 0h1m23 0h1m13 0h1m5 0h1m8 0h1m40 0h1m0 0h1m34 0h1m24 0h1M429 148.5h1m58 0h1m0 0h1m35 0h1m0 0h1m59 0h1m39 0h1M322 149.5h1m1 0h1m2 0h1m7 0h1m0 0h1m25 0h1m89 0h1m27 0h1m8 0h1m11 0h1m9 0h1m0 0h1m39 0h1m37 0h1m0 0h1m4 0h1m3 0h1m4 0h1m15 0h1m4 0h1m3 0h1M301 150.5h1m84 0h1m7 0h1m40 0h1m9 0h1m21 0h1m16 0h1m52 0h1m8 0h1m34 0h1m17 0h1m15 0h1M308 151.5h1m21 0h1m4 0h1m16 0h1m27 0h1m21 0h1m1 0h1m4 0h1m20 0h1m10 0h1m1 0h1m7 0h1m15 0h1m9 0h1m0 0h1m3 0h1m21 0h1m12 0h1m1 0h1m0 0h1m12 0h1m15 0h1m8 0h1m16 0h1m1 0h1m0 0h1m17 0h1m0 0h1m16 0h1m19 0h1m23 0h1M334 152.5h1m33 0h1m7 0h1m18 0h1m7 0h1m1 0h1m23 0h1m1 0h1m1 0h1m19 0h1m3 0h1m4 0h1m33 0h1m23 0h1m2 0h1m1 0h1m1 0h1m0 0h1m6 0h1m22 0h1m14 0h1m2 0h1m2 0h1m10 0h1m24 0h1m14 0h1m9 0h1M320 153.5h1m51 0h1m10 0h1m11 0h1m2 0h1m2 0h1m9 0h1m16 0h1m4 0h1m14 0h1m8 0h1m36 0h1m7 0h1m1 0h1m43 0h1m30 0h1m66 0h1M298 154.5h1m2 0h1m27 0h1m128 0h1m7 0h1m11 0h1m6 0h1m16 0h1m13 0h1m74 0h1m18 0h1m7 0h1M374 155.5h1m78 0h1m11 0h1m1 0h1m10 0h1m0 0h1m17 0h1m51 0h1m8 0h1m92 0h1m8 0h1M295 156.5h1m0 0h1m7 0h1m6 0h1m0 0h1m9 0h1m18 0h1m40 0h1m22 0h1m0 0h1m4 0h1m23 0h1m4 0h1m11 0h1m70 0h1m3 0h1m25 0h1m1 0h1m28 0h1m2 0h1m0 0h1m3 0h1m1 0h1m0 0h1m26 0h1m0 0h1m9 0h1m3 0h1m17 0h1M314 157.5h1m35 0h1m4 0h1m64 0h1m17 0h1m8 0h1m33 0h1m139 0h1M297 158.5h1m13 0h1m1 0h1m24 0h1m17 0h1m4 0h1m9 0h1m1 0h1m11 0h1m19 0h1m0 0h1m12 0h1m1 0h1m15 0h1m5 0h1m18 0h1m1 0h1m16 0h1m1 0h1m2 0h1m7 0h1m1 0h1m4 0h1m17 0h1m10 0h1m6 0h1m1 0h1m9 0h1m1 0h1m5 0h1m6 0h1m3 0h1m5 0h1m0 0h1m12 0h1m0 0h1m8 0h1m9 0h1m0 0h1m1 0h1m41 0h1m0 0h1m4 0h1M298 159.5h1m29 0h1m32 0h1m0 0h1m45 0h1m2 0h1m5 0h1m1 0h1m35 0h1m24 0h1m6 0h1m0 0h1m41 0h1m0 0h1m6 0h1m14 0h1m3 0h1m15 0h1m13 0h1m1 0h1m15 0h1m21 0h1m3 0h1M310 160.5h1m16 0h1m6 0h1m11 0h1m14 0h1m21 0h1m23 0h1m9 0h1m23 0h1m3 0h1m8 0h1m13 0h1m9 0h1m52 0h1m0 0h1m1 0h1m17 0h1m26 0h1m1 0h1m46 0h1m10 0h1m8 0h1m5 0h1M353 161.5h1m63 0h1m112 0h1m16 0h1m86 0h1M310 162.5h1m94 0h1m76 0h1m146 0h1M451 163.5h1M300 164.5h1m76 0h1m67 0h1m44 0h1m4 0h1M329 165.5h1m194 0h1m81 0h1M333 166.5h1m15 0h1m48 0h1m52 0h1m101 0h1m24 0h1M339 167.5h1m4 0h1m94 0h1m19 0h1m23 0h1m41 0h1m5 0h1m31 0h1M356 169.5h1m53 0h1m46 0h1m0 0h1m2 0h1m18 0h1m4 0h1m43 0h1m29 0h1m22 0h1m4 0h1m15 0h1m11 0h1M305 170.5h1m3 0h1m49 0h1m45 0h1m1 0h1m7 0h1m20 0h1m7 0h1m8 0h1m4 0h1m5 0h1m39 0h1m7 0h1m23 0h1m22 0h1m6 0h1m11 0h1m10 0h1m39 0h1m4 0h1M298 171.5h1m5 0h1m2 0h1m11 0h1m31 0h1m22 0h1m33 0h1m7 0h1m4 0h1m6 0h1m1 0h1m1 0h1m3 0h1m3 0h1m5 0h1m0 0h1m14 0h1m22 0h1m16 0h1m20 0h1m27 0h1m11 0h1m15 0h1m23 0h1m13 0h1m18 0h1m3 0h1M302 172.5h1m6 0h1m6 0h1m28 0h1m61 0h1m24 0h1m4 0h1m48 0h1m27 0h1m41 0h1m69 0h1m8 0h1m4 0h1M417 173.5h1m20 0h1m77 0h1m71 0h1M321 174.5h1m28 0h1m29 0h1m24 0h1m2 0h1m38 0h1m84 0h1m33 0h1M365 175.5h1m116 0h1m63 0h1m72 0h1m5 0h1M300 176.5h1m99 0h1m7 0h1m19 0h1m142 0h1m30 0h1m6 0h1m17 0h1M299 177.5h1m31 0h1m17 0h1m47 0h1m35 0h1m7 0h1m2 0h1m13 0h1m21 0h1m2 0h1m19 0h1m16 0h1m6 0h1m47 0h1m5 0h1m20 0h1m13 0h1m1 0h1m2 0h1m6 0h1m7 0h1m1 0h1m16 0h1M302 178.5h1m152 0h1m4 0h1m28 0h1m39 0h1m35 0h1m39 0h1m23 0h1m21 0h1M375 179.5h1m42 0h1m152 0h1m35 0h1m18 0h1M357 180.5h1m45 0h1m34 0h1m16 0h1m112 0h1m2 0h1m17 0h1m62 0h1M347 181.5h1m29 0h1m21 0h1m15 0h1m16 0h1m3 0h1m25 0h1m6 0h1m139 0h1m8 0h1M328 183.5h1m22 0h1m52 0h1m6 0h1m29 0h1m23 0h1m124 0h1m43 0h1m1 0h1m4 0h1M338 184.5h1m106 0h1m32 0h1M298 185.5h1m10 0h1m9 0h1m15 0h1m2 0h1m13 0h1m3 0h1m43 0h1m4 0h1m29 0h1m1 0h1m2 0h1m3 0h1m36 0h1m7 0h1m2 0h1m94 0h1m3 0h1m2 0h1m16 0h1m24 0h1M323 186.5h1m35 0h1m27 0h1m7 0h1m0 0h1m13 0h1m28 0h1m27 0h1m1 0h1m0 0h1m10 0h1m10 0h1m22 0h1m0 0h1m1 0h1m6 0h1m4 0h1m8 0h1m18 0h1m4 0h1m66 0h1m7 0h1m15 0h1M441 188.5h1m26 0h1m19 0h1m0 0h1m2 0h1m23 0h1m118 0h1m9 0h1M332 189.5h1m46 0h1m21 0h1m4 0h1m28 0h1m6 0h1m35 0h1m19 0h1m20 0h1m42 0h1m11 0h1m65 0h1m9 0h1M463 190.5h1m1 0h1m4 0h1m93 0h1m46 0h1m3 0h1m23 0h1M351 191.5h1m53 0h1m3 0h1m30 0h1m1 0h1m12 0h1m36 0h1m3 0h1m6 0h1m14 0h1m49 0h1m1 0h1m17 0h1m4 0h1m20 0h1m41 0h1m0 0h1M300 192.5h1m7 0h1m0 0h1m5 0h1m14 0h1m0 0h1m1 0h1m3 0h1m2 0h1m16 0h1m10 0h1m26 0h1m3 0h1m30 0h1m7 0h1m41 0h1m33 0h1m7 0h1m5 0h1m6 0h1m29 0h1m13 0h1m34 0h1m6 0h1m3 0h1m5 0h1m2 0h1M334 193.5h1m105 0h1m2 0h1m88 0h1m35 0h1m31 0h1m60 0h1M343 194.5h1m24 0h1m10 0h1m7 0h1m18 0h1m33 0h1m20 0h1m29 0h1m4 0h1m3 0h1m13 0h1m2 0h1m17 0h1m39 0h1m14 0h1m54 0h1m6 0h1M297 195.5h1m48 0h1m138 0h1m144 0h1m29 0h1M309 196.5h1m23 0h1m83 0h1m79 0h1m16 0h1m7 0h1m16 0h1m21 0h1m34 0h1m19 0h1m4 0h1m1 0h1m20 0h1m8 0h1m4 0h1M297 197.5h1m18 0h1m49 0h1m1 0h1m2 0h1m10 0h1m12 0h1m15 0h1m8 0h1m8 0h1m2 0h1m11 0h1m2 0h1m1 0h1m5 0h1m9 0h1m0 0h1m1 0h1m19 0h1m9 0h1m3 0h1m9 0h1m14 0h1m3 0h1m17 0h1m14 0h1m18 0h1m18 0h1m2 0h1m25 0h1m12 0h1m7 0h1M518 198.5h1m64 0h1M457 199.5h1M330 200.5h1m8 0h1m4 0h1m0 0h1m2 0h1m9 0h1m48 0h1m1 0h1m11 0h1m9 0h1m23 0h1m0 0h1m0 0h1m4 0h1m6 0h1m26 0h1m0 0h1m21 0h1m48 0h1m13 0h1m25 0h1m9 0h1M296 201.5h1m11 0h1m0 0h1m28 0h1m9 0h1m20 0h1m16 0h1m21 0h1m0 0h1m35 0h1m14 0h1m21 0h1m13 0h1m96 0h1M309 202.5h1m93 0h1m0 0h1m5 0h1m40 0h1m9 0h1m25 0h1m41 0h1m21 0h1m5 0h1m14 0h1m3 0h1m17 0h1m35 0h1M372 203.5h1m21 0h1m26 0h1m59 0h1M299 204.5h1m1 0h1m5 0h1m25 0h1m8 0h1m4 0h1m2 0h1m12 0h1m13 0h1m19 0h1m7 0h1m7 0h1m23 0h1m16 0h1m2 0h1m1 0h1m7 0h1m0 0h1m10 0h1m1 0h1m1 0h1m13 0h1m5 0h1m12 0h1m3 0h1m0 0h1m27 0h1m9 0h1m5 0h1m4 0h1m0 0h1m12 0h1m1 0h1m3 0h1m7 0h1m0 0h1m12 0h1m10 0h1m3 0h1m25 0h1m4 0h1m2 0h1M309 205.5h1m120 0h1m22 0h1m105 0h1M349 206.5h1m105 0h1m8 0h1m19 0h1m37 0h1m15 0h1m70 0h1m47 0h1" stroke="#000" stroke-opacity="0.35" stroke-width="1" fill="none"/>
<path d="M302 77.5h1m38 0h1m0 0h1m10 0h1m18 0h1m11 0h1m12 0h1m33 0h1m10 0h1m8 0h1m3 0h1m6 0h1m40 0h1m21 0h1m8 0h1m1 0h1m15 0h1m73 0h1m0 0h1m2 0h1m6 0h1m9 0h1m13 0h1M312 78.5h1m7 0h1m98 0h1m48 0h1m81 0h1m24 0h1m1 0h1M295 79.5h1m11 0h1m25 0h1m1 0h1m6 0h1m7 0h1m45 0h1m6 0h1m3 0h1m10 0h1m0 0h1m46 0h1m12 0h1m17 0h1m3 0h1m2 0h1m13 0h1m4 0h1m4 0h1m5 0h1m25 0h1m11 0h1m33 0h1m31 0h1M344 80.5h1m58 0h1M301 81.5h1m55 0h1m2 0h1m0 0h1m25 0h1m10 0h1m4 0h1m2 0h1m6 0h1m112 0h1m10 0h1m9 0h1m15 0h1m12 0h1m2 0h1m1 0h1m16 0h1m10 0h1m4 0h1m11 0h1m1 0h1m18 0h1M327 82.5h1m6 0h1m10 0h1m50 0h1m4 0h1m19 0h1m8 0h1m9 0h1m4 0h1m4 0h1m32 0h1m6 0h1m21 0h1m13 0h1m0 0h1m6 0h1m28 0h1m4 0h1m6 0h1m1 0h1m16 0h1m0 0h1m18 0h1m5 0h1m0 0h1m13 0h1m11 0h1m0 0h1M351 83.5h1m11 0h1m42 0h1m9 0h1m19 0h1m10 0h1m73 0h1m9 0h1m31 0h1m0 0h1m11 0h1m35 0h1m30 0h1M296 84.5h1m50 0h1m5 0h1m6 0h1m2 0h1m20 0h1m32 0h1m23 0h1m15 0h1m21 0h1m51 0h1M371 85.5h1m37 0h1m40 0h1m3 0h1m3 0h1m2 0h1m2 0h1m56 0h1m7 0h1m34 0h1m7 0h1m7 0h1m2 0h1m2 0h1m0 0h1m3 0h1m34 0h1m15 0h1m3 0h1M314 86.5h1m72 0h1m9 0h1m0 0h1m3 0h1m3 0h1m8 0h1m27 0h1m9 0h1m6 0h1m16 0h1m4 0h1m8 0h1m6 0h1m19 0h1m5 0h1m1 0h1m28 0h1m9 0h1m10 0h1m60 0h1M387 87.5h1m30 0h1m2 0h1m28 0h1m31 0h1m0 0h1m8 0h1m9 0h1m27 0h1m23 0h1m1 0h1m11 0h1m9 0h1m20 0h1m20 0h1m35 0h1M318 88.5h1m20 0h1m8 0h1m21 0h1m38 0h1m25 0h1m3 0h1m5 0h1m0 0h1m1 0h1m18 0h1m10 0h1m48 0h1m9 0h1m27 0h1m46 0h1m0 0h1m0 0h1M329 89.5h1m10 0h1m57 0h1m30 0h1m31 0h1m7 0h1m51 0h1m15 0h1m53 0h1m16 0h1m47 0h1M328 90.5h1m2 0h1m3 0h1m9 0h1m12 0h1m20 0h1m19 0h1m13 0h1m6 0h1m0 0h1m13 0h1m1 0h1m4 0h1m4 0h1m15 0h1m0 0h1m14 0h1m18 0h1m3 0h1m11 0h1m11 0h1m25 0h1m17 0h1m21 0h1m7 0h1m1 0h1m7 0h1m9 0h1m10 0h1m11 0h1m2 0h1m5 0h1M298 91.5h1m6 0h1m1 0h1m10 0h1m12 0h1m1 0h1m1 0h1m10 0h1m10 0h1m24 0h1m3 0h1m8 0h1m5 0h1m3 0h1m32 0h1m6 0h1m0 0h1m3 0h1m1 0h1m2 0h1m5 0h1m6 0h1m15 0h1m26 0h1m23 0h1m3 0h1m6 0h1m0 0h1m3 0h1m22 0h1m5 0h1m3 0h1m2 0h1m9 0h1m8 0h1m34 0h1m6 0h1m0 0h1m5 0h1m1 0h1M549 92.5h1m98 0h1M339 93.5h1m237 0h1m3 0h1m10 0h1m45 0h1M297 94.5h1m8 0h1m72 0h1m4 0h1m77 0h1m30 0h1m150 0h1M337 96.5h1m143 0h1m33 0h1m19 0h1M334 97.5h1m21 0h1m14 0h1m96 0h1m26 0h1m118 0h1m35 0h1m6 0h1M357 98.5h1m107 0h1m186 0h1M344 100.5h1m33 0h1m273 0h1M405 101.5h1M335 103.5h1m29 0h1m3 0h1m72 0h1m69 0h1m63 0h1m15 0h1m9 0h1m45 0h1M316 104.5h1m4 0h1m22 0h1m5 0h1m13 0h1m3 0h1m4 0h1m7 0h1m22 0h1m6 0h1m5 0h1m31 0h1m3 0h1m9 0h1m1 0h1m2 0h1m12 0h1m8 0h1m1 0h1m4 0h1m18 0h1m3 0h1m10 0h1m1 0h1m3 0h1m0 0h1m7 0h1m18 0h1m0 0h1m14 0h1m3 0h1m19 0h1m5 0h1m15 0h1m12 0h1M298 105.5h1m29 0h1m121 0h1m53 0h1m28 0h1m13 0h1M298 106.5h1m5 0h1m6 0h1m1 0h1m7 0h1m26 0h1m2 0h1m5 0h1m5 0h1m0 0h1m11 0h1m18 0h1m12 0h1m12 0h1m15 0h1m1 0h1m4 0h1m2 0h1m1 0h1m3 0h1m1 0h1m0 0h1m4 0h1m18 0h1m10 0h1m0 0h1m1 0h1m4 0h1m4 0h1m28 0h1m12 0h1m0 0h1m23 0h1m8 0h1m5 0h1m16 0h1m2 0h1m6 0h1m1 0h1m1 0h1M309 107.5h1m42 0h1m51 0h1m6 0h1m20 0h1m2 0h1m13 0h1m14 0h1m1 0h1m10 0h1m18 0h1m1 0h1m0 0h1m33 0h1m4 0h1m9 0h1m8 0h1m3 0h1m6 0h1m16 0h1m10 0h1m18 0h1m6 0h1m1 0h1m22 0h1M309 108.5h1m1 0h1m14 0h1m5 0h1m14 0h1m11 0h1m40 0h1m29 0h1m3 0h1m12 0h1m18 0h1m99 0h1m34 0h1m6 0h1M408 109.5h1m46 0h1m26 0h1m127 0h1M298 110.5h1m0 0h1m19 0h1m0 0h1m9 0h1m2 0h1m36 0h1m12 0h1m110 0h1m0 0h1m6 0h1m12 0h1m13 0h1m7 0h1m23 0h1m7 0h1m7 0h1m77 0h1M300 111.5h1m2 0h1m0 0h1m43 0h1m17 0h1m0 0h1m13 0h1m13 0h1m18 0h1m31 0h1m13 0h1m1 0h1m2 0h1m3 0h1m43 0h1m111 0h1m30 0h1M358 112.5h1m40 0h1m45 0h1m10 0h1m20 0h1m10 0h1m8 0h1m82 0h1m12 0h1m0 0h1m9 0h1m8 0h1m0 0h1m1 0h1m13 0h1M342 113.5h1m12 0h1m30 0h1m9 0h1m38 0h1m12 0h1m19 0h1m13 0h1m5 0h1m9 0h1m16 0h1m0 0h1m37 0h1m9 0h1m11 0h1m0 0h1m0 0h1m43 0h1m2 0h1m0 0h1m12 0h1m6 0h1M364 114.5h1m20 0h1m14 0h1m37 0h1m11 0h1m15 0h1m72 0h1m19 0h1m50 0h1M373 115.5h1m119 0h1m19 0h1m1 0h1m5 0h1m64 0h1m24 0h1M337 116.5h1m126 0h1m3 0h1m32 0h1m79 0h1M320 117.5h1m6 0h1m19 0h1m3 0h1m59 0h1m9 0h1m12 0h1m2 0h1m18 0h1m4 0h1m8 0h1m7 0h1m55 0h1m27 0h1m37 0h1m8 0h1m0 0h1M444 118.5h1m33 0h1m112 0h1m66 0h1M304 119.5h1m268 0h1M421 120.5h1m94 0h1m70 0h1M342 121.5h1m115 0h1M310 122.5h1m76 0h1m49 0h1M382 124.5h1m77 0h1m145 0h1m26 0h1M354 127.5h1m111 0h1m33 0h1m12 0h1M447 128.5h1m18 0h1m1 0h1m20 0h1m92 0h1M300 129.5h1m55 0h1m30 0h1m12 0h1m10 0h1m2 0h1m28 0h1m9 0h1m62 0h1m9 0h1m8 0h1m32 0h1m6 0h1m8 0h1m2 0h1m13 0h1m25 0h1M298 130.5h1m58 0h1m46 0h1m6 0h1m20 0h1m18 0h1m36 0h1m127 0h1m11 0h1M329 131.5h1m45 0h1m120 0h1M299 132.5h1m5 0h1m0 0h1m2 0h1m22 0h1m4 0h1m10 0h1m7 0h1m12 0h1m25 0h1m20 0h1m0 0h1m3 0h1m35 0h1m1 0h1m10 0h1m7 0h1m5 0h1m7 0h1m22 0h1m2 0h1m3 0h1m8 0h1m3 0h1m14 0h1m9 0h1m21 0h1m0 0h1m48 0h1m8 0h1m11 0h1M355 133.5h1m18 0h1m11 0h1m48 0h1m2 0h1m5 0h1m2 0h1m0 0h1m8 0h1m3 0h1m19 0h1m0 0h1m6 0h1m39 0h1m0 0h1m1 0h1m19 0h1m2 0h1m11 0h1m1 0h1m17 0h1m0 0h1m2 0h1m16 0h1m4 0h1m0 0h1m23 0h1m6 0h1m1 0h1m11 0h1M326 134.5h1m13 0h1m18 0h1m54 0h1m17 0h1m7 0h1m53 0h1m86 0h1m39 0h1m24 0h1M298 135.5h1m13 0h1m26 0h1m5 0h1m6 0h1m3 0h1m19 0h1m6 0h1m3 0h1m8 0h1m4 0h1m0 0h1m25 0h1m0 0h1m20 0h1m4 0h1m31 0h1m26 0h1m5 0h1m0 0h1m29 0h1m35 0h1m11 0h1m7 0h1m16 0h1m23 0h1M303 136.5h1m33 0h1m0 0h1m62 0h1m1 0h1m27 0h1m18 0h1m6 0h1m6 0h1m54 0h1m31 0h1m12 0h1m8 0h1m2 0h1m9 0h1m1 0h1m65 0h1M297 137.5h1m4 0h1m9 0h1m8 0h1m3 0h1m4 0h1m85 0h1m19 0h1m16 0h1m28 0h1m4 0h1m46 0h1m72 0h1m3 0h1m23 0h1m0 0h1m2 0h1m10 0h1M297 138.5h1m130 0h1m0 0h1m9 0h1m0 0h1m17 0h1m53 0h1m5 0h1m3 0h1m38 0h1m53 0h1m34 0h1M445 139.5h1m48 0h1m25 0h1m88 0h1M350 140.5h1m3 0h1m51 0h1m72 0h1M311 141.5h1m107 0h1m10 0h1m87 0h1m120 0h1M445 142.5h1m108 0h1M404 143.5h1m7 0h1m44 0h1m69 0h1m99 0h1M409 144.5h1m18 0h1m2 0h1m10 0h1m76 0h1M346 145.5h1m99 0h1m34 0h1m54 0h1m14 0h1m73 0h1M302 147.5h1m81 0h1m57 0h1m5 0h1m18 0h1m50 0h1m42 0h1m66 0h1m3 0h1m24 0h1M411 148.5h1m47 0h1m69 0h1m49 0h1M302 149.5h1m1 0h1m33 0h1m27 0h1m0 0h1m1 0h1m39 0h1m30 0h1m5 0h1m35 0h1m11 0h1m1 0h1m38 0h1m21 0h1m12 0h1m1 0h1m5 0h1m7 0h1m21 0h1m2 0h1m3 0h1m9 0h1m24 0h1m2 0h1m0 0h1m2 0h1M296 150.5h1m25 0h1m1 0h1m41 0h1m45 0h1m8 0h1m32 0h1m3 0h1m4 0h1m5 0h1m17 0h1m2 0h1m3 0h1m4 0h1m11 0h1m1 0h1m0 0h1m7 0h1m0 0h1m25 0h1m1 0h1m2 0h1m8 0h1m8 0h1m16 0h1m2 0h1m9 0h1m20 0h1m2 0h1m14 0h1M296 151.5h1m2 0h1m0 0h1m30 0h1m21 0h1m85 0h1m16 0h1m7 0h1m1 0h1m3 0h1m9 0h1m10 0h1m6 0h1m66 0h1m1 0h1m24 0h1m6 0h1m29 0h1m13 0h1m11 0h1m5 0h1M318 152.5h1m0 0h1m35 0h1m11 0h1m2 0h1m3 0h1m12 0h1m10 0h1m29 0h1m11 0h1m14 0h1m0 0h1m22 0h1m0 0h1m66 0h1m18 0h1m4 0h1m26 0h1m5 0h1m11 0h1M302 153.5h1m12 0h1m37 0h1m43 0h1m21 0h1m29 0h1m43 0h1m36 0h1m35 0h1m3 0h1m34 0h1m4 0h1m3 0h1m5 0h1m36 0h1M326 154.5h1m4 0h1m1 0h1m22 0h1m42 0h1m1 0h1m51 0h1m14 0h1m11 0h1m3 0h1m10 0h1m5 0h1m69 0h1m21 0h1m10 0h1m2 0h1m14 0h1m25 0h1m9 0h1M345 155.5h1m22 0h1m31 0h1m30 0h1m0 0h1m1 0h1m0 0h1m27 0h1m18 0h1m34 0h1m8 0h1m3 0h1m3 0h1m15 0h1m33 0h1m7 0h1m4 0h1m5 0h1m3 0h1m2 0h1m12 0h1m29 0h1M310 156.5h1m36 0h1m28 0h1m23 0h1m35 0h1m31 0h1m11 0h1m15 0h1m19 0h1m7 0h1m10 0h1m15 0h1m48 0h1m8 0h1m7 0h1m8 0h1m11 0h1m1 0h1m17 0h1M357 157.5h1m6 0h1m16 0h1m0 0h1m14 0h1m45 0h1m57 0h1m26 0h1M320 158.5h1m22 0h1m5 0h1m5 0h1m19 0h1m21 0h1m14 0h1m0 0h1m22 0h1m2 0h1m9 0h1m1 0h1m7 0h1m0 0h1m5 0h1m2 0h1m9 0h1m12 0h1m4 0h1m0 0h1m1 0h1m14 0h1m4 0h1m2 0h1m4 0h1m3 0h1m27 0h1m0 0h1m1 0h1m33 0h1m2 0h1m2 0h1m10 0h1m13 0h1m4 0h1m12 0h1m3 0h1M329 159.5h1m34 0h1m1 0h1m28 0h1m7 0h1m53 0h1m6 0h1m4 0h1m19 0h1m12 0h1m1 0h1m7 0h1m3 0h1m19 0h1m9 0h1m4 0h1m10 0h1m54 0h1m22 0h1m12 0h1M324 160.5h1m41 0h1m8 0h1m18 0h1m2 0h1m1 0h1m4 0h1m15 0h1m11 0h1m0 0h1m15 0h1m14 0h1m0 0h1m0 0h1m79 0h1m2 0h1m10 0h1m25 0h1m2 0h1m17 0h1m38 0h1M516 161.5h1m41 0h1m38 0h1M299 162.5h1m34 0h1m83 0h1m139 0h1m83 0h1M298 164.5h1m36 0h1m99 0h1m0 0h1m52 0h1m22 0h1m7 0h1M324 165.5h1m173 0h1m48 0h1m5 0h1m37 0h1M364 166.5h1m47 0h1m21 0h1m17 0h1m1 0h1m2 0h1m30 0h1m49 0h1m10 0h1m44 0h1m39 0h1M311 167.5h1m8 0h1m31 0h1m7 0h1m129 0h1m83 0h1m67 0h1m3 0h1m13 0h1M304 169.5h1m6 0h1m107 0h1m11 0h1m22 0h1m9 0h1m28 0h1m9 0h1m14 0h1m9 0h1m17 0h1m39 0h1m46 0h1m13 0h1M355 170.5h1m6 0h1m49 0h1m4 0h1m31 0h1m5 0h1m4 0h1m33 0h1m27 0h1m4 0h1m0 0h1m34 0h1m9 0h1m19 0h1m11 0h1m12 0h1m19 0h1m1 0h1m20 0h1M343 171.5h1m74 0h1m18 0h1m55 0h1m2 0h1m17 0h1m7 0h1m11 0h1m32 0h1m30 0h1m51 0h1m2 0h1M320 172.5h1m1 0h1m74 0h1m6 0h1m1 0h1m3 0h1m6 0h1m11 0h1m4 0h1m1 0h1m1 0h1m17 0h1m3 0h1m8 0h1m20 0h1m22 0h1m91 0h1m8 0h1m2 0h1m1 0h1M307 173.5h1m3 0h1m138 0h1m45 0h1M400 174.5h1m15 0h1m26 0h1m60 0h1m19 0h1m2 0h1m27 0h1m33 0h1m7 0h1m14 0h1M338 175.5h1m76 0h1m45 0h1m155 0h1m21 0h1M449 176.5h1m1 0h1m39 0h1m5 0h1m31 0h1m30 0h1m4 0h1M295 177.5h1m4 0h1m19 0h1m62 0h1m21 0h1m26 0h1m2 0h1m4 0h1m11 0h1m33 0h1m2 0h1m23 0h1m37 0h1m47 0h1m44 0h1m3 0h1m7 0h1M363 178.5h1m81 0h1m87 0h1M329 179.5h1m32 0h1m125 0h1m8 0h1m41 0h1m39 0h1m4 0h1m24 0h1M301 180.5h1m79 0h1m54 0h1m4 0h1m2 0h1m147 0h1m1 0h1m28 0h1m32 0h1M309 181.5h1m4 0h1m16 0h1m20 0h1m20 0h1m55 0h1m48 0h1m174 0h1M304 183.5h1m8 0h1m7 0h1m3 0h1m1 0h1m18 0h1m7 0h1m73 0h1m16 0h1m36 0h1m46 0h1m103 0h1m3 0h1M321 184.5h1m23 0h1m11 0h1m14 0h1m45 0h1m21 0h1m154 0h1m4 0h1m26 0h1m10 0h1M303 185.5h1m2 0h1m35 0h1m24 0h1m14 0h1m119 0h1m33 0h1m46 0h1m11 0h1m33 0h1m17 0h1m7 0h1M306 186.5h1m3 0h1m7 0h1m3 0h1m30 0h1m7 0h1m13 0h1m58 0h1m7 0h1m11 0h1m7 0h1m32 0h1m3 0h1m23 0h1m3 0h1m1 0h1m2 0h1m1 0h1m13 0h1m12 0h1m6 0h1m18 0h1m17 0h1m22 0h1m5 0h1m1 0h1m10 0h1M414 187.5h1m89 0h1M418 188.5h1m9 0h1m18 0h1m21 0h1m21 0h1m3 0h1m5 0h1m101 0h1M368 189.5h1m12 0h1m28 0h1m4 0h1m42 0h1m11 0h1m113 0h1M303 190.5h1m72 0h1m52 0h1m20 0h1m8 0h1m6 0h1m59 0h1m4 0h1m43 0h1m47 0h1m22 0h1m6 0h1M309 191.5h1m5 0h1m12 0h1m27 0h1m4 0h1m5 0h1m29 0h1m5 0h1m25 0h1m1 0h1m6 0h1m8 0h1m0 0h1m1 0h1m26 0h1m21 0h1m25 0h1m8 0h1m2 0h1m18 0h1m1 0h1m1 0h1m6 0h1m13 0h1m2 0h1m18 0h1m4 0h1m10 0h1m11 0h1m15 0h1M304 192.5h1m9 0h1m1 0h1m37 0h1m1 0h1m106 0h1m3 0h1m10 0h1m12 0h1m31 0h1m2 0h1m2 0h1m7 0h1m17 0h1m2 0h1m54 0h1m25 0h1m3 0h1m12 0h1M297 193.5h1m25 0h1m70 0h1m14 0h1m39 0h1m27 0h1m78 0h1m14 0h1m7 0h1m7 0h1m2 0h1m13 0h1m52 0h1M366 194.5h1m36 0h1m27 0h1m22 0h1m7 0h1m15 0h1m4 0h1m35 0h1m73 0h1m40 0h1M310 195.5h1m51 0h1m5 0h1m96 0h1m16 0h1m13 0h1m29 0h1M319 196.5h1m19 0h1m12 0h1m93 0h1m7 0h1m77 0h1m67 0h1m21 0h1M323 197.5h1m56 0h1m0 0h1m1 0h1m20 0h1m0 0h1m3 0h1m21 0h1m4 0h1m20 0h1m1 0h1m25 0h1m5 0h1m27 0h1m8 0h1m18 0h1m8 0h1m9 0h1m32 0h1m12 0h1m4 0h1m11 0h1m0 0h1m9 0h1M323 198.5h1m21 0h1m1 0h1m20 0h1m25 0h1m104 0h1m24 0h1M319 199.5h1m85 0h1M307 200.5h1m2 0h1m4 0h1m5 0h1m24 0h1m56 0h1m32 0h1m42 0h1m53 0h1m3 0h1m55 0h1m53 0h1m6 0h1m1 0h1M303 201.5h1m35 0h1m10 0h1m46 0h1m52 0h1m18 0h1m91 0h1m97 0h1M397 202.5h1m9 0h1m5 0h1m48 0h1m0 0h1m94 0h1m96 0h1m3 0h1M484 203.5h1M313 204.5h1m2 0h1m1 0h1m5 0h1m15 0h1m37 0h1m27 0h1m28 0h1m2 0h1m3 0h1m3 0h1m2 0h1m3 0h1m4 0h1m3 0h1m24 0h1m5 0h1m5 0h1m2 0h1m14 0h1m8 0h1m2 0h1m2 0h1m1 0h1m13 0h1m7 0h1m5 0h1m19 0h1m9 0h1m10 0h1m4 0h1m2 0h1m3 0h1m12 0h1m1 0h1m3 0h1m1 0h1m5 0h1m13 0h1M478 205.5h1M356 206.5h1m61 0h1m21 0h1m44 0h1m41 0h1m72 0h1m14 0h1m17 0h1m24 0h1" stroke="#000" stroke-opacity="0.68" stroke-width="1" fill="none"/>
<path d="M311 77.5h1m59 0h1m23 0h1m25 0h1m10 0h1m1 0h1m1 0h1m6 0h1m1 0h1m4 0h1m10 0h1m3 0h1m35 0h1m16 0h1m20 0h1m29 0h1m0 0h1m30 0h1m1 0h1m20 0h1m30 0h1m0 0h1M311 78.5h1m17 0h1m110 0h1m28 0h1m20 0h1m22 0h1m110 0h1M321 79.5h1m9 0h1m24 0h1m40 0h1m4 0h1m8 0h1m16 0h1m2 0h1m4 0h1m12 0h1m4 0h1m9 0h1m15 0h1m55 0h1m1 0h1m18 0h1m32 0h1m39 0h1m29 0h1M463 80.5h1m122 0h1m51 0h1M309 81.5h1m2 0h1m19 0h1m7 0h1m36 0h1m3 0h1m14 0h1m22 0h1m8 0h1m2 0h1m2 0h1m1 0h1m17 0h1m8 0h1m6 0h1m9 0h1m5 0h1m0 0h1m7 0h1m0 0h1m61 0h1m3 0h1m21 0h1m32 0h1m15 0h1M301 82.5h1m12 0h1m14 0h1m39 0h1m3 0h1m6 0h1m29 0h1m7 0h1m12 0h1m0 0h1m0 0h1m7 0h1m6 0h1m7 0h1m6 0h1m3 0h1m12 0h1m3 0h1m0 0h1m0 0h1m27 0h1m10 0h1m2 0h1m7 0h1m23 0h1m35 0h1m0 0h1m7 0h1m6 0h1m14 0h1m1 0h1m6 0h1m5 0h1m7 0h1m1 0h1M298 83.5h1m29 0h1m25 0h1m15 0h1m27 0h1m0 0h1m46 0h1m7 0h1m2 0h1m2 0h1m0 0h1m20 0h1m1 0h1m26 0h1m21 0h1m13 0h1m11 0h1m25 0h1m7 0h1m14 0h1m5 0h1m3 0h1m1 0h1m8 0h1m23 0h1M312 84.5h1m100 0h1m14 0h1m1 0h1m0 0h1m32 0h1m53 0h1m10 0h1m90 0h1m15 0h1M339 85.5h1m2 0h1m22 0h1m54 0h1m7 0h1m15 0h1m36 0h1m6 0h1m12 0h1m51 0h1m11 0h1m32 0h1m2 0h1m0 0h1m9 0h1m8 0h1m15 0h1m9 0h1m10 0h1M297 86.5h1m2 0h1m43 0h1m3 0h1m6 0h1m15 0h1m6 0h1m20 0h1m1 0h1m17 0h1m13 0h1m1 0h1m30 0h1m22 0h1m56 0h1m0 0h1m13 0h1m9 0h1m6 0h1m3 0h1m3 0h1m13 0h1m3 0h1m7 0h1m30 0h1m11 0h1M295 87.5h1m4 0h1m31 0h1m37 0h1m82 0h1m8 0h1m64 0h1m5 0h1m30 0h1m0 0h1m3 0h1m10 0h1m13 0h1m18 0h1m12 0h1m0 0h1m3 0h1m4 0h1m1 0h1M315 88.5h1m5 0h1m11 0h1m39 0h1m24 0h1m14 0h1m26 0h1m8 0h1m10 0h1m34 0h1m21 0h1m0 0h1m37 0h1m11 0h1m5 0h1m6 0h1m18 0h1m5 0h1M319 89.5h1m1 0h1m91 0h1m17 0h1m0 0h1m32 0h1m26 0h1m24 0h1m2 0h1m9 0h1m1 0h1m79 0h1M295 90.5h1m4 0h1m7 0h1m11 0h1m0 0h1m33 0h1m19 0h1m19 0h1m5 0h1m3 0h1m5 0h1m0 0h1m17 0h1m5 0h1m9 0h1m1 0h1m10 0h1m9 0h1m29 0h1m0 0h1m11 0h1m6 0h1m3 0h1m4 0h1m37 0h1m5 0h1m2 0h1m28 0h1m19 0h1m13 0h1M310 91.5h1m9 0h1m6 0h1m25 0h1m24 0h1m0 0h1m24 0h1m15 0h1m0 0h1m8 0h1m1 0h1m0 0h1m1 0h1m3 0h1m0 0h1m3 0h1m19 0h1m14 0h1m0 0h1m5 0h1m11 0h1m4 0h1m0 0h1m13 0h1m2 0h1m1 0h1m1 0h1m7 0h1m2 0h1m18 0h1m0 0h1m0 0h1m12 0h1m1 0h1m3 0h1m30 0h1m4 0h1m6 0h1m1 0h1m12 0h1m11 0h1m0 0h1m13 0h1M402 92.5h1m113 0h1m95 0h1M408 93.5h1m87 0h1m40 0h1m59 0h1m61 0h1M328 94.5h1m58 0h1m72 0h1m20 0h1m96 0h1m20 0h1m34 0h1M593 95.5h1M316 96.5h1m208 0h1m71 0h1m29 0h1m18 0h1M359 97.5h1m51 0h1m111 0h1m30 0h1m38 0h1m1 0h1m16 0h1M497 98.5h1M306 99.5h1m109 0h1m73 0h1m4 0h1m25 0h1M441 100.5h1m141 0h1M407 101.5h1m22 0h1m226 0h1M295 103.5h1m43 0h1m8 0h1m10 0h1m0 0h1m47 0h1m9 0h1m11 0h1m0 0h1m5 0h1m28 0h1m112 0h1m2 0h1m68 0h1m5 0h1M302 104.5h1m7 0h1m15 0h1m7 0h1m3 0h1m36 0h1m31 0h1m6 0h1m1 0h1m12 0h1m9 0h1m0 0h1m21 0h1m1 0h1m17 0h1m1 0h1m11 0h1m4 0h1m1 0h1m18 0h1m38 0h1m5 0h1m10 0h1m7 0h1m5 0h1m7 0h1m7 0h1m3 0h1m1 0h1m6 0h1m10 0h1m11 0h1m1 0h1m4 0h1M378 105.5h1m120 0h1m21 0h1m8 0h1m25 0h1M332 106.5h1m17 0h1m20 0h1m1 0h1m13 0h1m17 0h1m3 0h1m25 0h1m12 0h1m2 0h1m16 0h1m1 0h1m7 0h1m10 0h1m0 0h1m11 0h1m10 0h1m11 0h1m10 0h1m13 0h1m1 0h1m4 0h1m31 0h1m4 0h1m1 0h1m7 0h1m5 0h1m33 0h1m4 0h1M298 107.5h1m5 0h1m9 0h1m8 0h1m7 0h1m18 0h1m14 0h1m28 0h1m2 0h1m8 0h1m6 0h1m46 0h1m6 0h1m19 0h1m41 0h1m20 0h1m4 0h1m0 0h1m3 0h1m5 0h1m38 0h1m19 0h1m3 0h1m3 0h1m11 0h1m8 0h1m2 0h1M298 108.5h1m30 0h1m22 0h1m14 0h1m38 0h1m12 0h1m19 0h1m8 0h1m2 0h1m29 0h1m33 0h1m9 0h1m11 0h1m32 0h1m51 0h1m33 0h1m4 0h1M366 109.5h1m48 0h1m25 0h1m37 0h1M300 110.5h1m0 0h1m34 0h1m10 0h1m11 0h1m24 0h1m22 0h1m0 0h1m0 0h1m32 0h1m5 0h1m9 0h1m18 0h1m5 0h1m0 0h1m0 0h1m47 0h1m14 0h1m5 0h1m46 0h1m1 0h1m26 0h1M319 111.5h1m37 0h1m2 0h1m33 0h1m22 0h1m59 0h1m24 0h1m22 0h1m12 0h1m21 0h1m29 0h1m1 0h1m36 0h1m17 0h1M404 112.5h1m7 0h1m23 0h1m9 0h1m6 0h1m0 0h1m11 0h1m2 0h1m22 0h1m11 0h1m29 0h1m15 0h1m2 0h1m33 0h1m3 0h1m9 0h1m24 0h1m10 0h1m8 0h1M335 113.5h1m37 0h1m36 0h1m27 0h1m16 0h1m0 0h1m1 0h1m6 0h1m29 0h1m0 0h1m16 0h1m8 0h1m11 0h1m33 0h1m1 0h1m19 0h1m16 0h1m0 0h1m14 0h1m9 0h1m1 0h1M308 114.5h1m106 0h1m21 0h1m51 0h1M412 115.5h1m23 0h1m1 0h1m9 0h1m3 0h1m82 0h1m101 0h1m4 0h1M307 116.5h1m128 0h1m44 0h1m128 0h1m7 0h1M305 117.5h1m11 0h1m27 0h1m27 0h1m6 0h1m82 0h1m27 0h1m22 0h1m101 0h1m29 0h1m7 0h1M434 118.5h1m59 0h1m29 0h1m29 0h1m29 0h1m34 0h1m37 0h1M496 119.5h1m20 0h1m38 0h1M321 120.5h1m83 0h1m160 0h1m62 0h1m4 0h1M599 121.5h1M307 122.5h1m100 0h1m49 0h1m60 0h1m19 0h1m16 0h1m10 0h1M429 123.5h1M329 124.5h1m27 0h1m56 0h1m40 0h1m47 0h1M533 125.5h1M428 127.5h1m15 0h1m73 0h1m27 0h1m70 0h1M336 128.5h1m103 0h1m107 0h1m10 0h1m14 0h1M314 129.5h1m34 0h1m152 0h1m11 0h1m5 0h1m26 0h1m28 0h1M309 130.5h1m72 0h1m26 0h1m36 0h1m44 0h1m27 0h1m10 0h1m19 0h1m10 0h1m14 0h1m4 0h1m9 0h1M325 132.5h1m13 0h1m2 0h1m12 0h1m25 0h1m46 0h1m13 0h1m11 0h1m7 0h1m16 0h1m19 0h1m3 0h1m15 0h1m19 0h1m18 0h1m29 0h1m0 0h1m16 0h1m1 0h1m2 0h1m1 0h1m1 0h1m24 0h1M376 133.5h1m37 0h1m13 0h1m2 0h1m17 0h1m6 0h1m1 0h1m0 0h1m4 0h1m2 0h1m19 0h1m6 0h1m1 0h1m6 0h1m34 0h1m26 0h1m0 0h1m16 0h1m0 0h1m11 0h1m19 0h1m3 0h1m3 0h1m12 0h1m1 0h1m8 0h1m5 0h1M347 134.5h1m47 0h1m33 0h1m4 0h1m11 0h1m12 0h1m3 0h1m21 0h1m2 0h1m98 0h1m1 0h1m16 0h1m22 0h1m20 0h1M303 135.5h1m6 0h1m12 0h1m2 0h1m24 0h1m6 0h1m25 0h1m45 0h1m3 0h1m11 0h1m6 0h1m2 0h1m2 0h1m2 0h1m4 0h1m15 0h1m0 0h1m12 0h1m2 0h1m1 0h1m31 0h1m53 0h1m8 0h1m4 0h1m3 0h1m26 0h1m6 0h1m8 0h1m4 0h1M296 136.5h1m2 0h1m35 0h1m12 0h1m24 0h1m23 0h1m14 0h1m16 0h1m5 0h1m2 0h1m19 0h1m3 0h1m2 0h1m26 0h1m1 0h1m9 0h1m48 0h1m7 0h1m25 0h1m48 0h1m3 0h1m17 0h1M343 137.5h1m2 0h1m12 0h1m15 0h1m20 0h1m11 0h1m12 0h1m6 0h1m4 0h1m4 0h1m63 0h1m12 0h1m2 0h1m5 0h1m13 0h1m24 0h1m6 0h1m22 0h1m14 0h1m23 0h1m19 0h1m2 0h1M312 138.5h1m1 0h1m33 0h1m19 0h1m49 0h1m1 0h1m49 0h1m8 0h1m9 0h1m87 0h1m25 0h1M478 139.5h1m177 0h1M296 140.5h1m35 0h1m11 0h1m89 0h1m97 0h1m51 0h1m17 0h1m13 0h1M514 141.5h1m4 0h1m18 0h1M465 142.5h1m25 0h1m24 0h1m56 0h1m52 0h1M317 143.5h1m15 0h1m126 0h1m33 0h1m26 0h1m82 0h1m17 0h1m5 0h1M447 144.5h1m193 0h1M454 145.5h1m127 0h1m20 0h1m14 0h1M368 147.5h1m27 0h1m17 0h1m38 0h1m27 0h1m94 0h1m48 0h1m15 0h1M313 148.5h1m218 0h1m52 0h1m3 0h1m9 0h1M307 149.5h1m10 0h1m36 0h1m56 0h1m0 0h1m2 0h1m13 0h1m46 0h1m1 0h1m36 0h1m2 0h1m0 0h1m4 0h1m1 0h1m5 0h1m12 0h1m0 0h1m10 0h1m8 0h1m11 0h1m2 0h1m15 0h1m36 0h1m15 0h1m6 0h1M311 150.5h1m21 0h1m30 0h1m12 0h1m42 0h1m8 0h1m0 0h1m6 0h1m0 0h1m5 0h1m6 0h1m3 0h1m0 0h1m78 0h1m0 0h1m2 0h1m17 0h1m2 0h1m7 0h1m59 0h1m25 0h1m5 0h1M302 151.5h1m0 0h1m24 0h1m0 0h1m30 0h1m14 0h1m1 0h1m29 0h1m12 0h1m0 0h1m13 0h1m22 0h1m3 0h1m2 0h1m13 0h1m3 0h1m1 0h1m1 0h1m15 0h1m7 0h1m36 0h1m3 0h1m4 0h1m28 0h1m13 0h1m3 0h1m15 0h1m9 0h1m7 0h1m21 0h1M348 152.5h1m13 0h1m9 0h1m65 0h1m50 0h1m22 0h1m21 0h1m19 0h1m2 0h1m5 0h1m19 0h1m1 0h1m0 0h1m0 0h1m9 0h1M309 153.5h1m22 0h1m2 0h1m11 0h1m0 0h1m37 0h1m19 0h1m27 0h1m17 0h1m8 0h1m7 0h1m16 0h1m74 0h1m26 0h1m3 0h1m11 0h1m18 0h1m12 0h1M296 154.5h1m97 0h1m10 0h1m12 0h1m15 0h1m22 0h1m35 0h1m52 0h1m11 0h1m6 0h1m14 0h1m21 0h1m25 0h1m17 0h1m9 0h1M315 155.5h1m79 0h1m9 0h1m10 0h1m12 0h1m18 0h1m5 0h1m1 0h1m5 0h1m21 0h1m2 0h1m1 0h1m4 0h1m9 0h1m60 0h1m50 0h1m28 0h1m2 0h1M309 156.5h1m7 0h1m6 0h1m37 0h1m3 0h1m31 0h1m19 0h1m38 0h1m25 0h1m16 0h1m21 0h1m34 0h1m25 0h1m12 0h1m0 0h1m41 0h1m16 0h1M335 157.5h1m36 0h1m41 0h1m38 0h1m1 0h1m13 0h1m8 0h1m36 0h1m85 0h1M300 158.5h1m3 0h1m4 0h1m13 0h1m6 0h1m1 0h1m24 0h1m4 0h1m3 0h1m12 0h1m16 0h1m32 0h1m12 0h1m4 0h1m6 0h1m6 0h1m1 0h1m29 0h1m9 0h1m10 0h1m52 0h1m1 0h1m10 0h1m2 0h1m15 0h1m6 0h1m11 0h1m4 0h1m16 0h1m8 0h1m1 0h1m3 0h1M311 159.5h1m24 0h1m12 0h1m0 0h1m29 0h1m29 0h1m2 0h1m2 0h1m1 0h1m14 0h1m34 0h1m21 0h1m5 0h1m1 0h1m18 0h1m9 0h1m4 0h1m55 0h1m12 0h1m7 0h1m3 0h1m8 0h1m1 0h1M320 160.5h1m9 0h1m13 0h1m3 0h1m35 0h1m16 0h1m13 0h1m0 0h1m11 0h1m1 0h1m8 0h1m0 0h1m2 0h1m7 0h1m1 0h1m2 0h1m24 0h1m5 0h1m33 0h1m4 0h1m8 0h1m49 0h1m10 0h1m1 0h1m57 0h1M400 161.5h1m48 0h1m79 0h1m59 0h1m12 0h1M480 162.5h1m13 0h1m23 0h1m14 0h1m51 0h1m10 0h1M348 163.5h1M457 164.5h1m9 0h1M304 165.5h1m34 0h1m307 0h1M358 166.5h1m1 0h1m76 0h1m17 0h1m4 0h1m2 0h1m17 0h1m21 0h1m27 0h1m5 0h1m16 0h1m2 0h1m62 0h1m16 0h1m2 0h1m11 0h1M350 167.5h1m85 0h1m49 0h1m34 0h1m7 0h1m9 0h1m101 0h1m9 0h1M328 169.5h1m74 0h1m28 0h1m2 0h1m5 0h1m5 0h1m36 0h1m42 0h1m66 0h1m41 0h1m20 0h1M327 170.5h1m7 0h1m10 0h1m57 0h1m6 0h1m19 0h1m6 0h1m0 0h1m17 0h1m32 0h1m0 0h1m24 0h1m7 0h1m50 0h1m23 0h1m0 0h1m32 0h1m23 0h1m0 0h1M324 171.5h1m37 0h1m49 0h1m6 0h1m25 0h1m32 0h1m2 0h1m30 0h1m12 0h1m1 0h1m1 0h1m6 0h1m35 0h1m14 0h1m50 0h1M295 172.5h1m5 0h1m8 0h1m0 0h1m24 0h1m79 0h1m1 0h1m36 0h1m38 0h1m29 0h1m6 0h1m17 0h1m3 0h1m4 0h1m23 0h1m0 0h1m8 0h1m29 0h1m1 0h1m14 0h1m4 0h1m10 0h1m5 0h1M458 173.5h1m34 0h1m36 0h1m54 0h1M318 174.5h1m0 0h1m83 0h1m2 0h1m25 0h1m32 0h1m33 0h1m31 0h1M299 175.5h1m20 0h1m25 0h1m0 0h1m32 0h1m28 0h1m70 0h1m43 0h1m33 0h1m13 0h1m15 0h1M319 176.5h1m112 0h1m81 0h1m7 0h1M344 177.5h1m14 0h1m20 0h1m15 0h1m9 0h1m3 0h1m8 0h1m8 0h1m14 0h1m2 0h1m7 0h1m7 0h1m5 0h1m1 0h1m11 0h1m16 0h1m15 0h1m22 0h1m51 0h1m24 0h1m1 0h1m12 0h1m2 0h1m8 0h1M437 178.5h1m31 0h1m8 0h1m20 0h1m12 0h1m25 0h1m107 0h1M376 179.5h1m84 0h1m64 0h1m33 0h1m44 0h1m39 0h1m0 0h1m6 0h1M307 180.5h1m158 0h1m140 0h1M356 181.5h1m78 0h1m31 0h1m27 0h1m19 0h1m21 0h1m13 0h1m23 0h1m11 0h1m14 0h1m22 0h1m31 0h1M301 183.5h1m96 0h1m11 0h1m69 0h1m6 0h1m30 0h1m28 0h1m32 0h1m12 0h1m18 0h1M325 184.5h1m17 0h1m11 0h1m27 0h1m28 0h1m49 0h1m20 0h1m16 0h1m58 0h1m8 0h1m18 0h1m0 0h1m57 0h1M328 185.5h1m19 0h1m5 0h1m64 0h1m22 0h1m8 0h1m12 0h1m0 0h1m0 0h1m50 0h1m15 0h1m39 0h1m34 0h1m51 0h1M334 186.5h1m1 0h1m4 0h1m22 0h1m34 0h1m57 0h1m21 0h1m5 0h1m7 0h1m0 0h1m9 0h1m23 0h1m54 0h1m5 0h1m13 0h1m35 0h1m0 0h1M516 187.5h1m96 0h1M349 188.5h1m86 0h1m20 0h1m7 0h1m15 0h1M298 189.5h1m10 0h1m41 0h1m5 0h1m80 0h1m7 0h1m2 0h1m143 0h1m2 0h1m42 0h1m20 0h1M296 190.5h1m14 0h1m9 0h1m44 0h1m2 0h1m61 0h1m1 0h1m27 0h1m29 0h1m56 0h1m7 0h1m6 0h1m6 0h1m23 0h1m25 0h1m5 0h1m28 0h1M377 191.5h1m0 0h1m15 0h1m41 0h1m14 0h1m27 0h1m10 0h1m10 0h1m21 0h1m7 0h1m20 0h1m11 0h1m17 0h1m9 0h1m4 0h1m1 0h1m6 0h1m10 0h1m3 0h1m1 0h1m1 0h1m20 0h1M312 192.5h1m9 0h1m4 0h1m36 0h1m1 0h1m7 0h1m54 0h1m3 0h1m14 0h1m6 0h1m0 0h1m12 0h1m24 0h1m7 0h1m14 0h1m2 0h1m31 0h1m32 0h1m7 0h1m6 0h1m22 0h1m0 0h1M324 193.5h1m17 0h1m26 0h1m38 0h1m11 0h1m10 0h1m12 0h1m14 0h1m33 0h1m8 0h1m21 0h1m58 0h1m2 0h1m9 0h1m18 0h1m35 0h1M304 194.5h1m7 0h1m27 0h1m17 0h1m45 0h1m27 0h1m12 0h1m7 0h1m44 0h1m5 0h1m16 0h1m11 0h1m18 0h1m9 0h1m2 0h1m26 0h1m2 0h1m15 0h1m8 0h1m7 0h1M418 195.5h1m36 0h1m5 0h1m2 0h1m34 0h1m17 0h1m7 0h1m78 0h1M310 196.5h1m21 0h1m20 0h1m33 0h1m43 0h1m61 0h1m4 0h1m31 0h1m6 0h1m48 0h1m4 0h1m49 0h1M309 197.5h1m57 0h1m16 0h1m21 0h1m11 0h1m2 0h1m15 0h1m1 0h1m6 0h1m15 0h1m4 0h1m16 0h1m15 0h1m36 0h1m1 0h1m12 0h1m9 0h1m13 0h1m12 0h1m25 0h1m3 0h1m2 0h1m3 0h1m18 0h1m5 0h1m8 0h1M313 198.5h1m66 0h1m5 0h1m247 0h1M571 199.5h1m60 0h1M297 200.5h1m11 0h1m16 0h1m32 0h1m12 0h1m22 0h1m36 0h1m28 0h1m36 0h1m77 0h1m12 0h1m0 0h1m5 0h1m9 0h1m10 0h1m5 0h1m14 0h1M403 201.5h1m26 0h1m10 0h1m1 0h1m7 0h1m16 0h1m34 0h1m11 0h1m50 0h1m72 0h1m0 0h1m2 0h1M327 202.5h1m13 0h1m19 0h1m14 0h1m56 0h1m10 0h1m9 0h1m14 0h1m16 0h1m2 0h1m2 0h1m19 0h1m5 0h1m2 0h1m4 0h1m10 0h1m84 0h1m3 0h1M416 203.5h1m45 0h1m93 0h1m3 0h1M304 204.5h1m18 0h1m14 0h1m9 0h1m0 0h1m9 0h1m1 0h1m18 0h1m0 0h1m5 0h1m7 0h1m4 0h1m3 0h1m9 0h1m5 0h1m8 0h1m2 0h1m11 0h1m0 0h1m24 0h1m21 0h1m2 0h1m16 0h1m5 0h1m28 0h1m3 0h1m15 0h1m19 0h1m13 0h1m0 0h1m3 0h1m0 0h1m5 0h1m0 0h1m2 0h1m21 0h1m1 0h1m1 0h1m7 0h1m5 0h1M333 205.5h1m0 0h1m62 0h1m34 0h1m13 0h1m140 0h1m39 0h1m0 0h1M296 206.5h1m6 0h1m73 0h1m51 0h1m1 0h1m9 0h1m3 0h1m54 0h1m14 0h1m18 0h1m57 0h1" stroke="#000" stroke-opacity="0.1" stroke-width="1" fill="none"/>
<path d="M312 77.5h1m4 0h1m18 0h1m10 0h1m18 0h1m13 0h1m2 0h1m24 0h1m3 0h1m53 0h1m1 0h1m13 0h1m2 0h1m5 0h1m1 0h1m18 0h1m2 0h1m12 0h1m27 0h1m18 0h1m20 0h1m28 0h1m14 0h1m2 0h1m7 0h1m0 0h1m1 0h1M307 78.5h1m13 0h1m49 0h1m2 0h1m37 0h1m8 0h1m43 0h1m16 0h1m15 0h1m65 0h1m80 0h1m7 0h1M300 79.5h1m9 0h1m30 0h1m6 0h1m6 0h1m5 0h1m7 0h1m44 0h1m15 0h1m1 0h1m0 0h1m31 0h1m1 0h1m10 0h1m3 0h1m2 0h1m1 0h1m33 0h1m2 0h1m8 0h1m15 0h1m1 0h1m16 0h1m9 0h1m4 0h1m11 0h1m9 0h1m5 0h1m21 0h1m3 0h1M415 80.5h1m178 0h1m18 0h1M324 81.5h1m30 0h1m17 0h1m0 0h1m32 0h1m21 0h1m10 0h1m2 0h1m12 0h1m7 0h1m14 0h1m2 0h1m1 0h1m4 0h1m42 0h1m21 0h1m13 0h1m4 0h1m29 0h1m14 0h1m16 0h1m12 0h1m1 0h1m3 0h1m0 0h1m2 0h1M295 82.5h1m0 0h1m24 0h1m3 0h1m7 0h1m15 0h1m4 0h1m12 0h1m6 0h1m11 0h1m11 0h1m15 0h1m5 0h1m7 0h1m5 0h1m0 0h1m3 0h1m2 0h1m0 0h1m13 0h1m3 0h1m15 0h1m81 0h1m12 0h1m15 0h1m0 0h1m25 0h1m0 0h1m11 0h1m16 0h1m12 0h1M343 83.5h1m57 0h1m6 0h1m5 0h1m35 0h1m8 0h1m26 0h1m12 0h1m12 0h1m25 0h1m30 0h1m1 0h1m25 0h1m3 0h1m7 0h1m9 0h1m3 0h1m21 0h1M304 84.5h1m102 0h1m6 0h1m1 0h1m37 0h1m3 0h1m6 0h1m36 0h1m8 0h1m66 0h1m21 0h1m44 0h1m7 0h1M316 85.5h1m18 0h1m38 0h1m33 0h1m6 0h1m26 0h1m109 0h1m29 0h1m23 0h1m6 0h1m5 0h1m5 0h1m10 0h1m19 0h1M375 86.5h1m5 0h1m4 0h1m30 0h1m12 0h1m9 0h1m9 0h1m11 0h1m33 0h1m23 0h1m0 0h1m3 0h1m28 0h1m17 0h1m29 0h1m17 0h1m18 0h1m8 0h1M308 87.5h1m26 0h1m65 0h1m45 0h1m16 0h1m70 0h1m14 0h1m4 0h1m36 0h1m52 0h1m0 0h1m6 0h1M326 88.5h1m10 0h1m12 0h1m17 0h1m2 0h1m0 0h1m9 0h1m4 0h1m22 0h1m22 0h1m3 0h1m18 0h1m7 0h1m12 0h1m2 0h1m20 0h1m2 0h1m9 0h1m20 0h1m25 0h1m13 0h1m17 0h1m14 0h1m37 0h1M326 89.5h1m53 0h1m55 0h1m0 0h1m0 0h1m56 0h1m2 0h1m30 0h1m26 0h1m0 0h1m40 0h1M305 90.5h1m31 0h1m5 0h1m17 0h1m0 0h1m33 0h1m1 0h1m18 0h1m16 0h1m3 0h1m13 0h1m24 0h1m9 0h1m25 0h1m13 0h1m6 0h1m1 0h1m12 0h1m5 0h1m17 0h1m47 0h1m1 0h1m34 0h1M301 91.5h1m28 0h1m1 0h1m3 0h1m8 0h1m3 0h1m1 0h1m3 0h1m0 0h1m3 0h1m16 0h1m3 0h1m12 0h1m4 0h1m6 0h1m5 0h1m3 0h1m11 0h1m13 0h1m0 0h1m7 0h1m1 0h1m11 0h1m25 0h1m0 0h1m1 0h1m4 0h1m0 0h1m13 0h1m0 0h1m12 0h1m1 0h1m22 0h1m5 0h1m0 0h1m22 0h1m2 0h1m6 0h1m0 0h1m7 0h1m11 0h1m0 0h1m1 0h1m0 0h1m5 0h1m0 0h1m7 0h1m16 0h1m7 0h1M437 92.5h1m211 0h1M306 93.5h1m57 0h1m239 0h1m42 0h1M330 94.5h1m102 0h1m29 0h1m13 0h1m47 0h1m6 0h1m128 0h1M469 95.5h1M411 96.5h1m58 0h1m43 0h1M373 97.5h1m35 0h1m38 0h1m117 0h1m18 0h1M415 99.5h1m149 0h1M369 100.5h1m1 0h1m45 0h1m31 0h1M485 101.5h1M302 103.5h1m26 0h1m87 0h1m20 0h1m53 0h1m66 0h1m34 0h1m22 0h1M298 104.5h1m14 0h1m1 0h1m4 0h1m6 0h1m4 0h1m20 0h1m2 0h1m1 0h1m1 0h1m0 0h1m16 0h1m5 0h1m17 0h1m0 0h1m5 0h1m5 0h1m15 0h1m1 0h1m7 0h1m2 0h1m12 0h1m0 0h1m0 0h1m6 0h1m0 0h1m1 0h1m8 0h1m1 0h1m18 0h1m25 0h1m23 0h1m14 0h1m31 0h1m7 0h1m10 0h1m10 0h1m6 0h1m1 0h1m13 0h1m0 0h1m1 0h1m1 0h1m1 0h1m0 0h1M409 105.5h1m47 0h1M297 106.5h1m7 0h1m14 0h1m13 0h1m51 0h1m11 0h1m2 0h1m8 0h1m17 0h1m0 0h1m11 0h1m18 0h1m3 0h1m12 0h1m7 0h1m12 0h1m49 0h1m9 0h1m4 0h1m1 0h1m66 0h1m3 0h1m0 0h1m7 0h1m9 0h1M296 107.5h1m19 0h1m15 0h1m16 0h1m11 0h1m39 0h1m7 0h1m0 0h1m10 0h1m26 0h1m4 0h1m9 0h1m5 0h1m10 0h1m7 0h1m3 0h1m4 0h1m2 0h1m1 0h1m1 0h1m7 0h1m36 0h1m1 0h1m28 0h1m8 0h1m5 0h1m2 0h1m1 0h1m25 0h1m0 0h1m3 0h1m12 0h1m5 0h1m9 0h1M324 108.5h1m13 0h1m18 0h1m11 0h1m2 0h1m22 0h1m14 0h1m17 0h1m2 0h1m0 0h1m0 0h1m22 0h1m1 0h1m8 0h1m34 0h1m26 0h1m3 0h1m15 0h1m7 0h1m19 0h1m7 0h1m57 0h1M297 109.5h1m20 0h1m142 0h1m18 0h1m2 0h1m67 0h1m69 0h1M295 110.5h1m9 0h1m39 0h1m21 0h1m28 0h1m0 0h1m2 0h1m37 0h1m25 0h1m0 0h1m22 0h1m0 0h1m14 0h1m11 0h1m2 0h1m48 0h1m6 0h1m35 0h1m9 0h1m27 0h1M306 111.5h1m48 0h1m3 0h1m27 0h1m18 0h1m28 0h1m13 0h1m2 0h1m10 0h1m52 0h1m30 0h1m24 0h1m9 0h1m37 0h1m34 0h1M329 112.5h1m44 0h1m6 0h1m5 0h1m9 0h1m2 0h1m2 0h1m24 0h1m8 0h1m11 0h1m11 0h1m51 0h1m11 0h1m3 0h1m19 0h1m47 0h1m5 0h1m27 0h1m2 0h1m23 0h1M320 113.5h1m6 0h1m3 0h1m7 0h1m5 0h1m13 0h1m6 0h1m12 0h1m14 0h1m3 0h1m0 0h1m0 0h1m0 0h1m13 0h1m12 0h1m3 0h1m16 0h1m12 0h1m54 0h1m1 0h1m12 0h1m27 0h1m10 0h1m12 0h1m2 0h1m49 0h1m0 0h1m9 0h1m2 0h1m0 0h1m1 0h1m0 0h1m1 0h1m1 0h1M330 114.5h1m9 0h1m113 0h1m127 0h1m22 0h1M480 115.5h1m22 0h1m16 0h1m3 0h1m4 0h1m24 0h1m12 0h1m76 0h1M407 116.5h1M296 117.5h1m6 0h1m3 0h1m73 0h1m116 0h1m20 0h1m30 0h1m4 0h1m21 0h1m9 0h1m0 0h1m3 0h1m10 0h1m16 0h1m26 0h1m1 0h1M327 118.5h1m41 0h1m15 0h1m21 0h1m43 0h1M376 119.5h1m214 0h1m9 0h1M628 120.5h1m2 0h1m6 0h1M516 121.5h1m39 0h1M314 122.5h1m154 0h1m12 0h1m5 0h1m27 0h1m32 0h1m34 0h1m30 0h1m21 0h1M434 123.5h1m87 0h1m128 0h1M499 124.5h1m125 0h1M311 125.5h1m90 0h1m37 0h1m5 0h1m40 0h1M347 127.5h1m65 0h1m31 0h1m16 0h1m17 0h1m2 0h1m7 0h1m61 0h1m16 0h1m43 0h1M354 128.5h1m161 0h1M306 129.5h1m48 0h1m72 0h1m92 0h1m2 0h1m0 0h1m25 0h1m59 0h1m47 0h1M443 130.5h1m70 0h1m10 0h1m12 0h1m15 0h1m69 0h1M413 131.5h1m40 0h1m8 0h1m66 0h1M295 132.5h1m8 0h1m18 0h1m2 0h1m6 0h1m25 0h1m26 0h1m25 0h1m20 0h1m5 0h1m0 0h1m3 0h1m4 0h1m6 0h1m1 0h1m22 0h1m15 0h1m15 0h1m20 0h1m49 0h1m10 0h1m0 0h1m49 0h1M297 133.5h1m13 0h1m25 0h1m1 0h1m0 0h1m7 0h1m21 0h1m13 0h1m12 0h1m5 0h1m15 0h1m19 0h1m1 0h1m1 0h1m6 0h1m2 0h1m8 0h1m2 0h1m14 0h1m45 0h1m6 0h1m12 0h1m9 0h1m2 0h1m25 0h1m0 0h1m35 0h1m23 0h1m11 0h1m2 0h1M355 134.5h1m28 0h1m9 0h1m26 0h1m29 0h1m30 0h1m14 0h1m49 0h1m76 0h1m17 0h1M306 135.5h1m6 0h1m3 0h1m14 0h1m2 0h1m31 0h1m2 0h1m23 0h1m3 0h1m16 0h1m27 0h1m7 0h1m44 0h1m7 0h1m8 0h1m5 0h1m11 0h1m1 0h1m2 0h1m11 0h1m0 0h1m2 0h1m6 0h1m17 0h1m16 0h1m21 0h1m8 0h1m5 0h1m15 0h1m11 0h1M308 136.5h1m11 0h1m1 0h1m77 0h1m5 0h1m23 0h1m11 0h1m39 0h1m2 0h1m37 0h1m31 0h1m7 0h1m19 0h1m39 0h1m2 0h1m3 0h1m26 0h1M320 137.5h1m26 0h1m72 0h1m22 0h1m1 0h1m11 0h1m67 0h1m20 0h1m15 0h1m6 0h1m53 0h1m5 0h1m10 0h1M298 138.5h1m14 0h1m105 0h1m18 0h1m27 0h1m2 0h1m66 0h1m91 0h1m11 0h1M345 139.5h1M410 140.5h1m42 0h1M455 141.5h1M359 142.5h1M338 143.5h1m1 0h1m228 0h1m90 0h1M502 144.5h1m93 0h1M359 145.5h1m53 0h1m71 0h1m157 0h1m16 0h1M313 147.5h1m121 0h1m54 0h1m33 0h1m89 0h1m12 0h1m17 0h1m1 0h1M375 148.5h1m68 0h1m107 0h1m8 0h1m13 0h1m46 0h1m6 0h1M360 149.5h1m2 0h1m10 0h1m43 0h1m17 0h1m5 0h1m2 0h1m22 0h1m9 0h1m35 0h1m3 0h1m2 0h1m10 0h1m4 0h1m43 0h1m5 0h1m6 0h1m18 0h1m0 0h1m4 0h1m13 0h1m10 0h1M295 150.5h1m19 0h1m12 0h1m56 0h1m19 0h1m27 0h1m12 0h1m103 0h1m10 0h1m9 0h1m26 0h1m4 0h1m23 0h1m1 0h1m10 0h1m6 0h1m10 0h1M305 151.5h1m6 0h1m20 0h1m8 0h1m11 0h1m6 0h1m3 0h1m3 0h1m17 0h1m6 0h1m4 0h1m0 0h1m13 0h1m32 0h1m4 0h1m6 0h1m28 0h1m5 0h1m6 0h1m13 0h1m14 0h1m4 0h1m10 0h1m0 0h1m15 0h1m17 0h1m23 0h1m5 0h1m19 0h1m0 0h1M310 152.5h1m1 0h1m1 0h1m87 0h1m3 0h1m6 0h1m50 0h1m4 0h1m13 0h1m8 0h1m44 0h1m30 0h1m0 0h1m10 0h1m14 0h1m23 0h1m0 0h1m35 0h1M327 153.5h1m13 0h1m8 0h1m3 0h1m1 0h1m55 0h1m16 0h1m8 0h1m4 0h1m6 0h1m3 0h1m12 0h1m2 0h1m10 0h1m33 0h1m5 0h1m5 0h1m1 0h1m21 0h1m8 0h1m22 0h1m3 0h1m15 0h1m4 0h1m7 0h1m1 0h1m28 0h1M309 154.5h1m36 0h1m14 0h1m47 0h1m4 0h1m25 0h1m4 0h1m21 0h1m11 0h1m17 0h1m2 0h1m3 0h1m16 0h1m25 0h1m6 0h1m30 0h1m8 0h1m1 0h1m29 0h1m4 0h1m12 0h1m4 0h1m4 0h1M314 155.5h1m52 0h1m35 0h1m5 0h1m26 0h1m3 0h1m4 0h1m13 0h1m63 0h1m5 0h1m2 0h1m65 0h1m3 0h1m10 0h1m0 0h1m0 0h1m5 0h1M301 156.5h1m0 0h1m3 0h1m92 0h1m7 0h1m12 0h1m10 0h1m2 0h1m9 0h1m20 0h1m22 0h1m2 0h1m23 0h1m53 0h1m43 0h1m0 0h1m27 0h1m4 0h1m12 0h1M379 157.5h1m24 0h1m16 0h1m71 0h1m43 0h1m49 0h1m37 0h1M299 158.5h1m12 0h1m16 0h1m3 0h1m0 0h1m18 0h1m4 0h1m19 0h1m7 0h1m23 0h1m17 0h1m2 0h1m1 0h1m0 0h1m32 0h1m14 0h1m30 0h1m3 0h1m4 0h1m6 0h1m3 0h1m1 0h1m16 0h1m6 0h1m2 0h1m3 0h1m3 0h1m10 0h1m47 0h1m18 0h1m8 0h1M299 159.5h1m35 0h1m8 0h1m25 0h1m27 0h1m37 0h1m6 0h1m19 0h1m6 0h1m12 0h1m2 0h1m7 0h1m33 0h1m8 0h1m9 0h1m18 0h1m27 0h1m3 0h1m11 0h1m10 0h1M302 160.5h1m6 0h1m2 0h1m74 0h1m33 0h1m33 0h1m7 0h1m6 0h1m13 0h1m1 0h1m13 0h1m10 0h1m18 0h1m19 0h1m0 0h1m72 0h1m24 0h1m9 0h1M501 161.5h1m74 0h1m26 0h1M470 162.5h1M311 163.5h1M429 164.5h1m3 0h1m147 0h1M438 165.5h1M334 166.5h1m10 0h1m5 0h1m32 0h1m26 0h1m1 0h1m17 0h1m8 0h1m1 0h1m2 0h1m1 0h1m115 0h1m68 0h1m16 0h1M295 167.5h1m31 0h1m58 0h1m25 0h1m0 0h1m29 0h1m33 0h1m20 0h1m128 0h1M325 169.5h1m8 0h1m11 0h1m24 0h1m35 0h1m12 0h1m23 0h1m11 0h1m2 0h1m2 0h1m6 0h1m9 0h1m17 0h1m22 0h1m40 0h1m3 0h1m17 0h1m44 0h1m8 0h1m13 0h1m3 0h1m0 0h1M297 170.5h1m38 0h1m5 0h1m9 0h1m1 0h1m3 0h1m18 0h1m21 0h1m13 0h1m27 0h1m10 0h1m1 0h1m4 0h1m24 0h1m1 0h1m5 0h1m6 0h1m17 0h1m7 0h1m30 0h1m14 0h1m23 0h1m8 0h1M331 171.5h1m32 0h1m4 0h1m13 0h1m0 0h1m44 0h1m8 0h1m16 0h1m0 0h1m37 0h1m16 0h1m1 0h1m7 0h1m4 0h1m39 0h1m60 0h1m7 0h1m19 0h1M300 172.5h1m12 0h1m48 0h1m0 0h1m17 0h1m23 0h1m5 0h1m16 0h1m4 0h1m31 0h1m35 0h1m16 0h1m19 0h1m24 0h1m37 0h1m5 0h1m1 0h1m36 0h1m0 0h1m4 0h1M408 173.5h1m162 0h1m3 0h1m81 0h1M303 174.5h1m2 0h1m30 0h1m83 0h1m30 0h1m8 0h1m21 0h1m2 0h1m65 0h1M303 175.5h1m13 0h1m8 0h1m44 0h1m56 0h1m4 0h1m13 0h1m35 0h1m7 0h1m4 0h1m34 0h1m31 0h1m5 0h1m20 0h1m50 0h1M403 176.5h1m0 0h1m220 0h1m27 0h1M301 177.5h1m8 0h1m127 0h1m6 0h1m5 0h1m15 0h1m11 0h1m11 0h1m2 0h1m3 0h1m18 0h1m19 0h1m10 0h1m5 0h1m13 0h1m0 0h1m6 0h1m16 0h1m4 0h1m13 0h1M327 178.5h1m110 0h1m111 0h1m35 0h1M314 179.5h1m57 0h1m59 0h1m58 0h1M340 180.5h1m8 0h1m4 0h1m169 0h1m66 0h1m3 0h1M394 181.5h1m11 0h1m48 0h1m14 0h1m17 0h1m5 0h1m38 0h1m4 0h1m35 0h1m46 0h1m30 0h1M331 183.5h1m2 0h1m0 0h1m3 0h1m27 0h1m3 0h1m1 0h1m3 0h1m31 0h1m46 0h1m3 0h1m1 0h1m4 0h1m34 0h1m51 0h1m9 0h1m18 0h1m38 0h1m4 0h1M371 184.5h1m67 0h1m8 0h1m5 0h1m22 0h1m16 0h1m3 0h1m47 0h1m61 0h1M329 185.5h1m71 0h1m16 0h1m26 0h1m66 0h1m25 0h1m16 0h1m1 0h1m57 0h1m33 0h1M397 186.5h1m19 0h1m15 0h1m7 0h1m1 0h1m4 0h1m1 0h1m8 0h1m36 0h1m16 0h1m45 0h1m7 0h1m12 0h1m18 0h1m20 0h1M353 187.5h1m216 0h1m73 0h1M414 188.5h1m208 0h1m16 0h1M314 189.5h1m130 0h1m9 0h1m13 0h1m10 0h1m20 0h1m37 0h1m26 0h1m24 0h1m19 0h1m13 0h1m32 0h1M316 190.5h1m55 0h1m41 0h1m40 0h1m2 0h1m8 0h1m29 0h1m18 0h1m32 0h1m24 0h1m21 0h1m16 0h1m22 0h1m0 0h1M331 191.5h1m5 0h1m92 0h1m18 0h1m11 0h1m25 0h1m14 0h1m16 0h1m0 0h1m8 0h1m20 0h1m0 0h1m42 0h1m37 0h1m6 0h1M301 192.5h1m23 0h1m2 0h1m29 0h1m0 0h1m7 0h1m10 0h1m28 0h1m1 0h1m11 0h1m14 0h1m29 0h1m1 0h1m44 0h1m2 0h1m7 0h1m23 0h1m24 0h1m0 0h1m5 0h1m10 0h1m5 0h1m13 0h1m15 0h1m26 0h1M296 193.5h1m19 0h1m19 0h1m29 0h1m67 0h1m22 0h1m6 0h1m25 0h1m12 0h1m16 0h1m1 0h1m12 0h1m15 0h1m3 0h1m36 0h1m9 0h1m29 0h1m27 0h1M332 194.5h1m3 0h1m20 0h1m9 0h1m9 0h1m7 0h1m26 0h1m5 0h1m11 0h1m24 0h1m1 0h1m45 0h1m25 0h1m23 0h1m25 0h1m1 0h1m32 0h1m17 0h1m4 0h1m0 0h1m9 0h1M335 195.5h1m8 0h1m42 0h1m46 0h1m21 0h1m1 0h1m55 0h1m50 0h1m18 0h1m0 0h1m72 0h1M300 196.5h1m26 0h1m30 0h1m43 0h1m29 0h1m0 0h1m0 0h1m26 0h1m5 0h1m13 0h1m51 0h1m18 0h1m65 0h1M299 197.5h1m10 0h1m11 0h1m2 0h1m2 0h1m17 0h1m13 0h1m11 0h1m29 0h1m27 0h1m11 0h1m0 0h1m10 0h1m1 0h1m12 0h1m19 0h1m27 0h1m5 0h1m14 0h1m29 0h1m17 0h1m8 0h1m60 0h1m4 0h1M522 198.5h1m107 0h1M352 199.5h1m50 0h1m84 0h1m159 0h1m4 0h1M311 200.5h1m96 0h1m24 0h1m5 0h1m13 0h1m12 0h1m46 0h1m0 0h1m51 0h1m14 0h1m9 0h1m12 0h1m9 0h1m11 0h1M311 201.5h1m31 0h1m5 0h1m112 0h1m14 0h1m13 0h1m21 0h1m16 0h1m18 0h1m13 0h1m82 0h1m7 0h1M298 202.5h1m8 0h1m48 0h1m52 0h1m39 0h1m86 0h1m1 0h1m9 0h1m7 0h1m33 0h1M517 203.5h1M302 204.5h1m8 0h1m16 0h1m24 0h1m0 0h1m2 0h1m0 0h1m1 0h1m6 0h1m1 0h1m9 0h1m2 0h1m13 0h1m19 0h1m16 0h1m5 0h1m7 0h1m0 0h1m11 0h1m0 0h1m26 0h1m0 0h1m24 0h1m0 0h1m7 0h1m1 0h1m10 0h1m0 0h1m8 0h1m8 0h1m4 0h1m5 0h1m1 0h1m5 0h1m2 0h1m15 0h1m24 0h1m0 0h1m0 0h1m14 0h1m10 0h1m5 0h1M374 205.5h1m66 0h1m35 0h1m1 0h1m7 0h1m14 0h1m153 0h1m1 0h1M403 206.5h1m49 0h1m59 0h1m63 0h1m29 0h1m12 0h1" stroke="#000" stroke-opacity="0.17" stroke-width="1" fill="none"/>
<path d="M328 77.5h1m15 0h1m22 0h1m47 0h1m12 0h1m23 0h1m33 0h1m17 0h1m9 0h1m14 0h1M352 78.5h1m1 0h1m2 0h1m18 0h1m40 0h1m24 0h1m12 0h1m14 0h1m41 0h1m6 0h1m2 0h1m26 0h1m24 0h1m40 0h1M302 79.5h1m13 0h1m1 0h1m24 0h1m20 0h1m7 0h1m0 0h1m2 0h1m24 0h1m4 0h1m5 0h1m45 0h1m31 0h1m1 0h1m0 0h1m5 0h1m14 0h1m7 0h1m4 0h1m3 0h1m15 0h1m14 0h1m34 0h1m36 0h1m14 0h1M307 80.5h1m170 0h1m86 0h1m1 0h1M334 81.5h1m3 0h1m11 0h1m0 0h1m0 0h1m1 0h1m23 0h1m22 0h1m28 0h1m21 0h1m12 0h1m2 0h1m12 0h1m30 0h1m9 0h1m1 0h1m6 0h1m3 0h1m31 0h1m37 0h1m39 0h1m7 0h1M298 82.5h1m3 0h1m29 0h1m20 0h1m16 0h1m14 0h1m14 0h1m5 0h1m0 0h1m9 0h1m11 0h1m16 0h1m0 0h1m3 0h1m6 0h1m3 0h1m28 0h1m38 0h1m8 0h1m6 0h1m3 0h1m18 0h1m23 0h1m9 0h1m5 0h1m3 0h1m17 0h1m8 0h1M378 83.5h1m1 0h1m5 0h1m17 0h1m24 0h1m1 0h1m1 0h1m7 0h1m0 0h1m12 0h1m0 0h1m1 0h1m44 0h1m30 0h1m49 0h1m30 0h1m16 0h1m4 0h1m6 0h1m7 0h1M420 84.5h1m70 0h1m29 0h1m27 0h1m5 0h1m38 0h1m27 0h1m0 0h1m28 0h1m7 0h1M300 85.5h1m2 0h1m7 0h1m21 0h1m65 0h1m3 0h1m25 0h1m10 0h1m18 0h1m24 0h1m1 0h1m15 0h1m14 0h1m13 0h1m0 0h1m17 0h1m9 0h1m5 0h1m7 0h1m21 0h1m32 0h1m4 0h1m3 0h1m4 0h1m13 0h1M306 86.5h1m2 0h1m10 0h1m39 0h1m5 0h1m5 0h1m31 0h1m49 0h1m3 0h1m5 0h1m2 0h1m34 0h1m16 0h1m3 0h1m4 0h1m1 0h1m25 0h1m7 0h1m8 0h1m14 0h1m24 0h1m4 0h1m5 0h1m11 0h1M301 87.5h1m4 0h1m21 0h1m7 0h1m8 0h1m3 0h1m9 0h1m1 0h1m1 0h1m9 0h1m5 0h1m14 0h1m5 0h1m10 0h1m19 0h1m2 0h1m13 0h1m39 0h1m4 0h1m7 0h1m49 0h1m21 0h1m22 0h1m64 0h1M306 88.5h1m5 0h1m0 0h1m61 0h1m2 0h1m6 0h1m21 0h1m34 0h1m20 0h1m4 0h1m16 0h1m45 0h1m15 0h1m7 0h1m11 0h1m3 0h1m11 0h1m0 0h1m2 0h1m14 0h1m19 0h1m7 0h1M344 89.5h1m29 0h1m92 0h1m11 0h1m95 0h1m8 0h1m5 0h1m70 0h1M327 90.5h1m6 0h1m9 0h1m2 0h1m1 0h1m19 0h1m34 0h1m26 0h1m0 0h1m18 0h1m15 0h1m0 0h1m49 0h1m55 0h1m12 0h1m24 0h1m22 0h1m5 0h1m9 0h1m2 0h1m1 0h1M300 91.5h1m14 0h1m9 0h1m0 0h1m1 0h1m54 0h1m1 0h1m21 0h1m1 0h1m0 0h1m4 0h1m21 0h1m3 0h1m16 0h1m7 0h1m2 0h1m0 0h1m6 0h1m9 0h1m7 0h1m17 0h1m3 0h1m2 0h1m10 0h1m6 0h1m24 0h1m0 0h1m16 0h1m18 0h1m12 0h1m2 0h1m21 0h1m0 0h1m0 0h1m1 0h1m1 0h1m7 0h1m1 0h1m4 0h1m0 0h1M406 92.5h1M298 93.5h1m108 0h1m50 0h1m2 0h1m18 0h1m146 0h1m24 0h1M365 94.5h1m12 0h1m50 0h1m20 0h1m4 0h1m10 0h1m1 0h1m22 0h1m57 0h1m1 0h1m0 0h1m37 0h1m16 0h1M364 96.5h1m11 0h1m33 0h1m81 0h1m121 0h1m10 0h1M324 97.5h1m89 0h1m13 0h1m16 0h1m35 0h1m67 0h1m98 0h1M455 99.5h1m97 0h1m51 0h1m44 0h1M374 100.5h1m182 0h1m69 0h1M315 103.5h1m20 0h1m33 0h1m61 0h1m15 0h1m32 0h1m106 0h1m1 0h1m2 0h1m26 0h1m18 0h1M299 104.5h1m6 0h1m1 0h1m10 0h1m2 0h1m10 0h1m9 0h1m2 0h1m0 0h1m11 0h1m35 0h1m1 0h1m0 0h1m0 0h1m1 0h1m6 0h1m4 0h1m14 0h1m5 0h1m11 0h1m0 0h1m2 0h1m9 0h1m22 0h1m3 0h1m5 0h1m1 0h1m2 0h1m1 0h1m12 0h1m1 0h1m1 0h1m1 0h1m12 0h1m14 0h1m0 0h1m1 0h1m18 0h1m5 0h1m8 0h1m14 0h1m16 0h1m3 0h1m9 0h1m5 0h1m1 0h1m3 0h1M333 105.5h1m31 0h1m16 0h1m13 0h1m1 0h1m1 0h1m11 0h1m150 0h1m62 0h1M296 106.5h1m18 0h1m3 0h1m2 0h1m6 0h1m6 0h1m63 0h1m5 0h1m6 0h1m1 0h1m50 0h1m12 0h1m2 0h1m18 0h1m1 0h1m15 0h1m1 0h1m0 0h1m5 0h1m10 0h1m20 0h1m15 0h1m18 0h1m1 0h1m9 0h1m11 0h1m28 0h1m2 0h1m1 0h1m4 0h1M333 107.5h1m39 0h1m1 0h1m24 0h1m7 0h1m7 0h1m19 0h1m2 0h1m0 0h1m4 0h1m1 0h1m20 0h1m14 0h1m5 0h1m0 0h1m24 0h1m3 0h1m34 0h1m10 0h1m7 0h1m13 0h1m3 0h1m42 0h1m8 0h1m14 0h1M297 108.5h1m16 0h1m33 0h1m49 0h1m39 0h1m10 0h1m42 0h1m7 0h1m64 0h1m40 0h1m33 0h1M421 109.5h1m91 0h1m12 0h1m7 0h1m106 0h1M313 110.5h1m4 0h1m8 0h1m84 0h1m19 0h1m8 0h1m7 0h1m1 0h1m4 0h1m0 0h1m2 0h1m29 0h1m90 0h1m22 0h1M296 111.5h1m54 0h1m13 0h1m32 0h1m14 0h1m22 0h1m51 0h1m28 0h1m1 0h1m1 0h1m6 0h1m10 0h1m17 0h1m11 0h1m6 0h1m6 0h1m24 0h1m27 0h1m23 0h1M304 112.5h1m21 0h1m12 0h1m1 0h1m66 0h1m9 0h1m20 0h1m38 0h1m22 0h1m19 0h1m9 0h1m78 0h1m7 0h1m5 0h1m10 0h1m12 0h1M295 113.5h1m10 0h1m0 0h1m3 0h1m24 0h1m3 0h1m29 0h1m11 0h1m22 0h1m5 0h1m1 0h1m2 0h1m19 0h1m2 0h1m0 0h1m5 0h1m0 0h1m19 0h1m11 0h1m1 0h1m1 0h1m1 0h1m3 0h1m3 0h1m8 0h1m20 0h1m5 0h1m17 0h1m34 0h1m13 0h1m7 0h1m16 0h1m19 0h1m1 0h1M403 114.5h1m12 0h1m147 0h1m44 0h1m22 0h1m11 0h1M339 115.5h1m77 0h1m0 0h1m0 0h1m11 0h1m25 0h1m4 0h1m23 0h1m14 0h1m12 0h1m7 0h1m36 0h1m13 0h1m55 0h1M306 116.5h1m266 0h1M326 117.5h1m35 0h1m78 0h1m48 0h1m13 0h1m6 0h1m4 0h1m18 0h1m1 0h1m0 0h1m8 0h1m1 0h1m29 0h1m28 0h1m25 0h1m5 0h1M296 118.5h1m10 0h1m54 0h1m76 0h1m22 0h1m16 0h1m21 0h1m12 0h1m4 0h1m35 0h1m31 0h1m22 0h1M327 119.5h1m45 0h1M583 120.5h1M557 121.5h1m10 0h1M468 122.5h1m52 0h1M412 123.5h1m120 0h1m112 0h1M314 124.5h1m6 0h1m57 0h1m28 0h1m19 0h1m40 0h1M447 125.5h1m66 0h1M459 127.5h1m111 0h1m39 0h1m28 0h1M328 128.5h1m295 0h1m11 0h1M336 129.5h1m93 0h1m65 0h1m99 0h1m26 0h1m11 0h1M347 130.5h1m102 0h1m32 0h1m79 0h1m26 0h1m36 0h1m29 0h1M307 132.5h1m55 0h1m1 0h1m36 0h1m0 0h1m4 0h1m46 0h1m13 0h1m12 0h1m34 0h1m2 0h1m6 0h1m45 0h1m6 0h1m5 0h1m10 0h1m12 0h1m9 0h1m1 0h1m0 0h1m4 0h1m16 0h1m5 0h1M357 133.5h1m53 0h1m3 0h1m2 0h1m2 0h1m24 0h1m5 0h1m2 0h1m35 0h1m8 0h1m3 0h1m6 0h1m9 0h1m0 0h1m38 0h1m1 0h1m13 0h1m4 0h1m12 0h1m3 0h1m7 0h1m3 0h1m3 0h1m1 0h1m0 0h1m14 0h1M321 134.5h1m15 0h1m10 0h1m79 0h1m1 0h1m18 0h1m2 0h1m5 0h1m20 0h1m0 0h1m6 0h1m94 0h1m34 0h1m35 0h1M301 135.5h1m27 0h1m8 0h1m9 0h1m5 0h1m45 0h1m4 0h1m3 0h1m7 0h1m14 0h1m9 0h1m4 0h1m6 0h1m8 0h1m16 0h1m11 0h1m8 0h1m21 0h1m3 0h1m9 0h1m9 0h1m35 0h1m16 0h1m19 0h1m1 0h1m14 0h1m4 0h1m9 0h1m3 0h1m0 0h1m0 0h1m1 0h1M314 136.5h1m52 0h1m4 0h1m21 0h1m3 0h1m12 0h1m6 0h1m30 0h1m20 0h1m6 0h1m19 0h1m33 0h1m17 0h1m22 0h1m28 0h1m6 0h1m10 0h1m14 0h1m2 0h1m14 0h1M306 137.5h1m0 0h1m56 0h1m4 0h1m61 0h1m8 0h1m9 0h1m11 0h1m4 0h1m21 0h1m33 0h1m3 0h1m2 0h1m26 0h1m32 0h1m0 0h1m11 0h1m11 0h1m28 0h1m12 0h1M305 138.5h1m100 0h1m2 0h1m2 0h1m1 0h1m20 0h1m7 0h1m7 0h1m2 0h1m39 0h1m84 0h1M400 139.5h1m56 0h1M310 140.5h1m45 0h1m101 0h1m177 0h1m15 0h1M461 141.5h1m34 0h1M415 142.5h1m76 0h1m65 0h1m6 0h1m2 0h1m42 0h1m37 0h1M402 143.5h1m61 0h1m18 0h1m72 0h1m75 0h1M299 145.5h1m28 0h1m4 0h1m71 0h1m27 0h1m1 0h1m101 0h1M298 147.5h1m42 0h1m16 0h1m15 0h1m23 0h1m33 0h1m17 0h1m45 0h1m54 0h1m26 0h1m6 0h1m10 0h1m3 0h1m1 0h1m27 0h1m2 0h1M377 148.5h1m32 0h1m58 0h1m12 0h1m45 0h1m62 0h1M296 149.5h1m33 0h1m44 0h1m3 0h1m1 0h1m4 0h1m10 0h1m4 0h1m4 0h1m36 0h1m10 0h1m13 0h1m21 0h1m5 0h1m33 0h1m16 0h1m4 0h1m20 0h1m8 0h1m40 0h1m6 0h1m9 0h1m0 0h1M309 150.5h1m2 0h1m27 0h1m55 0h1m17 0h1m17 0h1m49 0h1m83 0h1m39 0h1m30 0h1M301 151.5h1m5 0h1m29 0h1m24 0h1m43 0h1m3 0h1m4 0h1m12 0h1m8 0h1m11 0h1m31 0h1m8 0h1m5 0h1m16 0h1m4 0h1m17 0h1m0 0h1m33 0h1m4 0h1m3 0h1m1 0h1m2 0h1m8 0h1m6 0h1m10 0h1m13 0h1m1 0h1m6 0h1m13 0h1m7 0h1M301 152.5h1m7 0h1m84 0h1m37 0h1m9 0h1m11 0h1m5 0h1m21 0h1m3 0h1m4 0h1m24 0h1m61 0h1m68 0h1m3 0h1M321 153.5h1m0 0h1m1 0h1m46 0h1m8 0h1m4 0h1m45 0h1m3 0h1m3 0h1m22 0h1m29 0h1m21 0h1m5 0h1m52 0h1m7 0h1m50 0h1m22 0h1M343 154.5h1m38 0h1m20 0h1m8 0h1m37 0h1m19 0h1m6 0h1m33 0h1m0 0h1m9 0h1m2 0h1m9 0h1m13 0h1m7 0h1m8 0h1m15 0h1m5 0h1m41 0h1M384 155.5h1m9 0h1m6 0h1m39 0h1m2 0h1m10 0h1m34 0h1m61 0h1m23 0h1m29 0h1m11 0h1m13 0h1M369 156.5h1m27 0h1m48 0h1m0 0h1m0 0h1m6 0h1m25 0h1m5 0h1m1 0h1m11 0h1m11 0h1m4 0h1m0 0h1m14 0h1m2 0h1m8 0h1m3 0h1m93 0h1m3 0h1M298 157.5h1m1 0h1m38 0h1m66 0h1m25 0h1m13 0h1m4 0h1m15 0h1m0 0h1m1 0h1m23 0h1m39 0h1m14 0h1m24 0h1m16 0h1m32 0h1M295 158.5h1m5 0h1m5 0h1m0 0h1m5 0h1m6 0h1m32 0h1m5 0h1m4 0h1m2 0h1m1 0h1m11 0h1m31 0h1m3 0h1m1 0h1m11 0h1m5 0h1m2 0h1m2 0h1m1 0h1m9 0h1m0 0h1m10 0h1m8 0h1m2 0h1m14 0h1m16 0h1m3 0h1m4 0h1m36 0h1m25 0h1m8 0h1m1 0h1m0 0h1m15 0h1m19 0h1m1 0h1m0 0h1m1 0h1m5 0h1m0 0h1m0 0h1m12 0h1M307 159.5h1m5 0h1m5 0h1m21 0h1m25 0h1m15 0h1m31 0h1m13 0h1m10 0h1m3 0h1m8 0h1m2 0h1m3 0h1m18 0h1m11 0h1m11 0h1m52 0h1m13 0h1m8 0h1m16 0h1m2 0h1m2 0h1m26 0h1m7 0h1M336 160.5h1m35 0h1m25 0h1m9 0h1m37 0h1m0 0h1m35 0h1m6 0h1m63 0h1m11 0h1m7 0h1m5 0h1m16 0h1m35 0h1m1 0h1m1 0h1m0 0h1M531 161.5h1M312 162.5h1m51 0h1m48 0h1m1 0h1m121 0h1m52 0h1m15 0h1M365 163.5h1m62 0h1m119 0h1M305 164.5h1M327 165.5h1m73 0h1m7 0h1m32 0h1m71 0h1m2 0h1m2 0h1M297 166.5h1m6 0h1m0 0h1m32 0h1m48 0h1m68 0h1m60 0h1m18 0h1m105 0h1m12 0h1M433 167.5h1m35 0h1m92 0h1m3 0h1m85 0h1M362 169.5h1m22 0h1m18 0h1m25 0h1m57 0h1m32 0h1m1 0h1m45 0h1m32 0h1M296 170.5h1m59 0h1m11 0h1m7 0h1m20 0h1m2 0h1m20 0h1m12 0h1m32 0h1m34 0h1m50 0h1m56 0h1m6 0h1m7 0h1m0 0h1m1 0h1M318 171.5h1m18 0h1m38 0h1m66 0h1m15 0h1m9 0h1m0 0h1m67 0h1m16 0h1m30 0h1m32 0h1m12 0h1m18 0h1M337 172.5h1m58 0h1m42 0h1m8 0h1m2 0h1m50 0h1m1 0h1m10 0h1m10 0h1m33 0h1m1 0h1m4 0h1m8 0h1m3 0h1m34 0h1m22 0h1m12 0h1m5 0h1M310 173.5h1m203 0h1m11 0h1m10 0h1m53 0h1M336 174.5h1m64 0h1m2 0h1m15 0h1m32 0h1m60 0h1M383 175.5h1m45 0h1m82 0h1m35 0h1m25 0h1m16 0h1m28 0h1m21 0h1M499 176.5h1m20 0h1m9 0h1m19 0h1m2 0h1m2 0h1m5 0h1m24 0h1m70 0h1M306 177.5h1m60 0h1m36 0h1m3 0h1m55 0h1m1 0h1m20 0h1m8 0h1m4 0h1m0 0h1m13 0h1m4 0h1m14 0h1m10 0h1m9 0h1m1 0h1m31 0h1m5 0h1m3 0h1m51 0h1M381 178.5h1m53 0h1m4 0h1m77 0h1m16 0h1m22 0h1m25 0h1m29 0h1m4 0h1m38 0h1M317 179.5h1m23 0h1m69 0h1m16 0h1m179 0h1M302 180.5h1m105 0h1m38 0h1m22 0h1m41 0h1m47 0h1m8 0h1m56 0h1m32 0h1m0 0h1M397 181.5h1m10 0h1m22 0h1m6 0h1m20 0h1m30 0h1m105 0h1m15 0h1M298 183.5h1m34 0h1m28 0h1m13 0h1m25 0h1m16 0h1m1 0h1m35 0h1m67 0h1m63 0h1m35 0h1m2 0h1m20 0h1M327 184.5h1m1 0h1m77 0h1m8 0h1m13 0h1m104 0h1m28 0h1m19 0h1m54 0h1M346 185.5h1m61 0h1m19 0h1m3 0h1m8 0h1m8 0h1m17 0h1m25 0h1m18 0h1m18 0h1m2 0h1m1 0h1m23 0h1m0 0h1m5 0h1m29 0h1m7 0h1m12 0h1m3 0h1m14 0h1m2 0h1M325 186.5h1m2 0h1m20 0h1m2 0h1m27 0h1m0 0h1m16 0h1m8 0h1m27 0h1m0 0h1m21 0h1m6 0h1m16 0h1m0 0h1m13 0h1m14 0h1m1 0h1m2 0h1m31 0h1m10 0h1m10 0h1m1 0h1m3 0h1m57 0h1m10 0h1m3 0h1M354 188.5h1m24 0h1m52 0h1M334 189.5h1m42 0h1m31 0h1m42 0h1m8 0h1m55 0h1m19 0h1m44 0h1m36 0h1m8 0h1m8 0h1M301 190.5h1m26 0h1m23 0h1m0 0h1m58 0h1m29 0h1m17 0h1m54 0h1m86 0h1m9 0h1m15 0h1m16 0h1M325 191.5h1m69 0h1m8 0h1m49 0h1m9 0h1m28 0h1m23 0h1m45 0h1m12 0h1m9 0h1m4 0h1m15 0h1m29 0h1m16 0h1m6 0h1M311 192.5h1m31 0h1m1 0h1m3 0h1m15 0h1m14 0h1m0 0h1m2 0h1m13 0h1m40 0h1m12 0h1m0 0h1m4 0h1m1 0h1m3 0h1m0 0h1m45 0h1m18 0h1m30 0h1m2 0h1m10 0h1m2 0h1m25 0h1m14 0h1m20 0h1M302 193.5h1m54 0h1m98 0h1m38 0h1m15 0h1m18 0h1m0 0h1m4 0h1m2 0h1M381 194.5h1m19 0h1m33 0h1m87 0h1m15 0h1m23 0h1m14 0h1m12 0h1m31 0h1m1 0h1M309 195.5h1m100 0h1m29 0h1m19 0h1m22 0h1m94 0h1m1 0h1m2 0h1m11 0h1m16 0h1m39 0h1M372 196.5h1m3 0h1m2 0h1m40 0h1m8 0h1m95 0h1m48 0h1m19 0h1m20 0h1m1 0h1m2 0h1m8 0h1m4 0h1m22 0h1M303 197.5h1m28 0h1m12 0h1m7 0h1m16 0h1m14 0h1m0 0h1m10 0h1m18 0h1m11 0h1m5 0h1m0 0h1m2 0h1m1 0h1m9 0h1m0 0h1m51 0h1m0 0h1m20 0h1m0 0h1m2 0h1m44 0h1m7 0h1m28 0h1m16 0h1m3 0h1m8 0h1M325 198.5h1m167 0h1M296 199.5h1m37 0h1m100 0h1m11 0h1m54 0h1m20 0h1M376 200.5h1m51 0h1m0 0h1m18 0h1m0 0h1m45 0h1m38 0h1m57 0h1m1 0h1M327 201.5h1m67 0h1m3 0h1m14 0h1m46 0h1m25 0h1m6 0h1m52 0h1m55 0h1M418 202.5h1m24 0h1m20 0h1m68 0h1m13 0h1m18 0h1m0 0h1m28 0h1m24 0h1m10 0h1m5 0h1M457 203.5h1m197 0h1M295 204.5h1m13 0h1m5 0h1m10 0h1m4 0h1m5 0h1m8 0h1m8 0h1m6 0h1m3 0h1m3 0h1m14 0h1m48 0h1m8 0h1m34 0h1m3 0h1m2 0h1m0 0h1m7 0h1m3 0h1m5 0h1m6 0h1m1 0h1m13 0h1m2 0h1m0 0h1m18 0h1m1 0h1m1 0h1m2 0h1m3 0h1m2 0h1m8 0h1m1 0h1m3 0h1m1 0h1m14 0h1m0 0h1m12 0h1m5 0h1m7 0h1m4 0h1m7 0h1m0 0h1m8 0h1M340 205.5h1m68 0h1m107 0h1m17 0h1m77 0h1m3 0h1m34 0h1M332 206.5h1m46 0h1m14 0h1m22 0h1m31 0h1m20 0h1m104 0h1" stroke="#000" stroke-opacity="0.25" stroke-width="1" fill="none"/>
<text x="279.6" y="92.7" font-size="7.8" text-anchor="middle" fill="#222">AM</text>
<text x="279.6" y="119.1" font-size="7.8" text-anchor="middle" fill="#222">PM</text>
<text x="279.6" y="139.3" font-size="7.8" text-anchor="middle" fill="#222">AL</text>
<text x="279.6" y="161.1" font-size="7.8" text-anchor="middle" fill="#222">RL</text>
<text x="279.6" y="177.8" font-size="7.8" text-anchor="middle" fill="#222">LM</text>
<text x="279.6" y="198.8" font-size="7.8" text-anchor="middle" fill="#222">V1</text>
<line x1="294.9" y1="212.5" x2="323.7" y2="212.5" stroke="#222" stroke-width="1.1"/>
<text x="299" y="220.9" font-size="8" text-anchor="start" fill="#222">250 ms</text>
<line x1="94.4" y1="247" x2="94.4" y2="291" stroke="#333" stroke-width="0.7" stroke-dasharray="1.3,0.9"/>
<path d="M50.0,283.3 L50.9,283.6 L51.8,282.0 L52.7,282.4 L53.6,282.6 L54.5,282.6 L55.4,282.5 L56.3,282.5 L57.2,282.7 L58.1,283.3 L59.0,283.4 L59.9,282.8 L60.8,281.9 L61.7,283.0 L62.6,281.9 L63.5,282.7 L64.4,282.7 L65.3,282.5 L66.2,282.9 L67.1,281.9 L68.0,283.6 L68.9,282.7 L69.8,282.4 L70.7,281.5 L71.6,282.8 L72.5,281.7 L73.4,283.3 L74.3,281.8 L75.2,282.8 L76.1,282.7 L77.0,282.9 L77.9,283.3 L78.8,282.2 L79.7,282.9 L80.6,282.0 L81.5,281.5 L82.4,283.3 L83.3,282.9 L84.2,282.3 L85.1,282.7 L86.0,282.6 L86.9,281.7 L87.8,280.8 L88.7,282.0 L89.6,282.3 L90.5,282.5 L91.4,282.7 L92.3,281.4 L93.2,282.6 L94.2,284.5 L95.6,262.0 L96.6,247.2 L97.8,270.0 L98.8,285.5 L99.5,281.8 L100.4,283.6 L101.3,283.2 L102.2,281.9 L103.1,282.4 L104.0,281.6 L104.9,282.1 L105.8,282.9 L106.7,282.7 L107.6,283.3 L108.5,281.8 L109.4,282.3 L110.3,283.7 L111.2,282.8 L112.1,282.6 L113.0,283.2 L113.9,283.2 L114.8,283.1 L115.7,283.3 L116.6,282.5 L117.5,281.8 L118.4,283.0 L119.3,282.7 L120.2,283.6 L121.1,283.6 L122.0,281.0 L122.9,280.7 L123.8,282.8 L124.7,283.4 L125.6,282.3 L126.5,281.7 L127.4,282.6 L128.3,281.8 L129.2,281.7 L130.1,282.9 L131.0,283.1 L131.9,282.8 L132.8,282.1 L133.7,283.6 L134.6,282.7 L135.5,281.1 L136.4,282.4 L137.3,282.3 L138.2,282.1 L139.1,282.3" fill="none" stroke="#1a1a1a" stroke-width="0.85" stroke-linejoin="round"/>
<circle cx="88.6" cy="241.8" r="1.7" fill="white" stroke="#222" stroke-width="0.8"/>
<circle cx="100.8" cy="241.8" r="1.7" fill="white" stroke="#222" stroke-width="0.8"/>
<line x1="90.4" y1="241.8" x2="97.2" y2="241.8" stroke="#d8304a" stroke-width="1.1"/>
<path d="M99,241.8 L96.2,240.2 L96.2,243.4 Z" fill="#d8304a"/>
<circle cx="96.6" cy="247.2" r="1.3" fill="#d5502e"/>
<line x1="203.5" y1="250" x2="203.5" y2="288" stroke="#333" stroke-width="0.7" stroke-dasharray="1.3,0.9"/>
<path d="M158.3,260.0 L159.2,257.3 L160.1,259.5 L161.0,256.1 L161.9,256.2 L162.8,256.6 L163.7,256.6 L164.6,258.7 L165.5,260.2 L166.4,257.8 L167.3,258.5 L168.2,258.3 L169.1,255.7 L170.0,260.3 L170.9,258.4 L171.8,258.6 L172.7,252.3 L173.6,257.2 L174.5,260.4 L175.4,256.6 L176.3,258.3 L177.2,255.4 L178.1,258.8 L179.0,258.0 L179.9,256.3 L180.8,258.5 L181.7,255.2 L182.6,257.9 L183.5,259.6 L184.4,257.3 L185.3,257.8 L186.2,256.3 L187.1,257.7 L188.0,257.2 L188.9,259.3 L189.8,257.6 L190.7,256.2 L191.6,257.9 L192.5,257.8 L193.4,259.2 L194.3,257.8 L195.2,257.7 L196.1,259.0 L197.0,255.8 L197.9,257.2 L198.8,257.0 L199.7,259.6 L200.6,259.6 L201.6,256.0 L202.7,246.6 L203.5,262.0 L204.3,288.0 L205.2,262.0 L206.2,258.0 L206.9,259.2 L207.8,261.5 L208.7,260.0 L209.6,258.7 L210.5,259.8 L211.4,260.4 L212.3,259.7 L213.2,258.5 L214.1,259.2 L215.0,258.6 L215.9,257.2 L216.8,258.0 L217.7,256.2 L218.6,256.2 L219.5,259.7 L220.4,258.7 L221.3,260.5 L222.2,256.9 L223.1,256.9 L224.0,258.3 L224.9,259.6 L225.8,259.4 L226.7,256.9 L227.6,257.2 L228.5,259.3 L229.4,258.0 L230.3,260.2 L231.2,256.7 L232.1,259.0 L233.0,258.5 L233.9,253.6 L234.8,257.5 L235.7,258.3 L236.6,260.0 L237.5,256.3 L238.4,256.0 L239.3,254.3 L240.2,256.8 L241.1,257.4 L242.0,258.5 L242.9,259.1 L243.8,258.9 L244.7,256.5 L245.6,257.8 L246.5,259.0 L247.4,261.7" fill="none" stroke="#1a1a1a" stroke-width="0.85" stroke-linejoin="round"/>
<circle cx="196.9" cy="241.6" r="1.7" fill="white" stroke="#222" stroke-width="0.8"/>
<circle cx="209.1" cy="241.6" r="1.7" fill="white" stroke="#222" stroke-width="0.8"/>
<line x1="198.7" y1="241.6" x2="205.5" y2="241.6" stroke="#3a86d0" stroke-width="1.1"/>
<path d="M207.3,241.6 L204.5,240 L204.5,243.2 Z" fill="#3a86d0"/>
<circle cx="204.3" cy="288" r="1.3" fill="#4466c0"/>
<line x1="48.7" y1="300" x2="48.7" y2="348" stroke="#333" stroke-width="0.7" stroke-dasharray="1.3,0.9"/>
<path d="M4.0,332.3 L4.9,336.1 L5.8,327.7 L6.7,330.7 L7.6,331.7 L8.5,334.3 L9.4,334.1 L10.3,329.1 L11.2,327.4 L12.1,326.7 L13.0,330.9 L13.9,330.9 L14.8,331.6 L15.7,332.7 L16.6,330.8 L17.5,325.3 L18.4,326.7 L19.3,335.0 L20.2,333.4 L21.1,331.1 L22.0,335.3 L22.9,331.6 L23.8,328.8 L24.7,331.5 L25.6,325.9 L26.5,327.8 L27.4,337.7 L28.3,324.8 L29.2,336.6 L30.1,326.0 L31.0,330.9 L31.9,329.7 L32.8,331.5 L33.7,333.1 L34.6,337.1 L35.5,335.6 L36.4,330.8 L37.3,333.3 L38.2,331.4 L39.1,331.3 L40.0,338.6 L40.9,326.5 L41.8,331.0 L42.7,329.2 L43.6,332.8 L44.5,326.0 L45.6,307.5 L47.0,327.0 L48.5,330.0 L51.0,324.0 L52.0,302.5 L53.5,322.0 L55.0,330.0 L56.2,335.2 L57.1,338.6 L58.0,334.4 L58.9,334.8 L59.8,330.4 L60.7,329.1 L61.6,328.3 L62.5,335.2 L63.4,330.9 L64.3,332.1 L65.2,334.7 L66.1,331.8 L67.0,331.8 L67.9,336.4 L68.8,333.0 L69.7,329.6 L70.6,329.2 L71.5,326.4 L72.4,326.3 L73.3,327.7 L74.2,324.1 L75.1,328.8 L76.0,330.1 L76.9,328.8 L77.8,334.9 L78.7,332.4 L79.6,331.3 L80.5,331.1 L81.4,334.0 L82.3,333.5 L83.2,335.4 L84.1,331.1 L85.0,334.5 L85.9,333.5 L86.8,330.6 L87.7,334.5 L88.6,329.9 L89.5,329.7 L90.4,331.4 L91.3,333.0 L92.2,334.5 L93.1,333.3" fill="none" stroke="#1a1a1a" stroke-width="0.85" stroke-linejoin="round"/>
<circle cx="43.6" cy="296.3" r="1.7" fill="white" stroke="#222" stroke-width="0.8"/>
<circle cx="55.8" cy="296.3" r="1.7" fill="white" stroke="#222" stroke-width="0.8"/>
<line x1="45.4" y1="296.3" x2="52.2" y2="296.3" stroke="#d8304a" stroke-width="1.1"/>
<path d="M54,296.3 L51.2,294.7 L51.2,297.9 Z" fill="#d8304a"/>
<circle cx="45.6" cy="307.5" r="1.3" fill="#d5402e"/>
<circle cx="52" cy="302.5" r="1.3" fill="#d5502e"/>
<line x1="147.8" y1="300" x2="147.8" y2="346" stroke="#333" stroke-width="0.7" stroke-dasharray="1.3,0.9"/>
<path d="M105.0,321.5 L105.9,321.8 L106.8,322.2 L107.7,321.9 L108.6,321.6 L109.5,321.1 L110.4,321.6 L111.3,321.8 L112.2,322.1 L113.1,320.6 L114.0,321.0 L114.9,322.2 L115.8,321.8 L116.7,321.4 L117.6,321.1 L118.5,321.4 L119.4,322.7 L120.3,321.2 L121.2,322.1 L122.1,321.2 L123.0,320.8 L123.9,321.3 L124.8,321.8 L125.7,321.2 L126.6,322.3 L127.5,321.9 L128.4,321.0 L129.3,321.5 L130.2,321.1 L131.1,321.7 L132.0,320.9 L132.9,322.2 L133.8,321.9 L134.7,321.4 L135.6,321.6 L136.5,320.6 L137.4,320.9 L138.3,322.0 L139.2,322.9 L140.1,320.8 L141.0,321.9 L142.5,322.0 L144.0,344.0 L145.5,322.0 L152.0,321.0 L153.5,302.5 L155.0,321.0 L156.3,321.6 L157.2,320.2 L158.1,322.1 L159.0,321.5 L159.9,321.9 L160.8,320.4 L161.7,321.6 L162.6,321.9 L163.5,321.7 L164.4,321.5 L165.3,321.8 L166.2,320.8 L167.1,321.6 L168.0,320.6 L168.9,321.0 L169.8,321.4 L170.7,323.7 L171.6,322.0 L172.5,321.0 L173.4,320.7 L174.3,322.0 L175.2,321.6 L176.1,322.9 L177.0,322.3 L177.9,321.7 L178.8,321.7 L179.7,322.1 L180.6,322.4 L181.5,321.3 L182.4,322.2 L183.3,321.1 L184.2,321.1 L185.1,321.4 L186.0,322.7 L186.9,320.9 L187.8,321.7 L188.7,320.7 L189.6,320.8 L190.5,320.6 L191.4,321.6 L192.3,321.4 L193.2,321.4" fill="none" stroke="#1a1a1a" stroke-width="0.85" stroke-linejoin="round"/>
<circle cx="144.6" cy="296" r="1.7" fill="white" stroke="#222" stroke-width="0.8"/>
<circle cx="156.8" cy="296" r="1.7" fill="white" stroke="#222" stroke-width="0.8"/>
<line x1="146.4" y1="296" x2="153.2" y2="296" stroke="#c03070" stroke-width="1.1"/>
<path d="M155,296 L152.2,294.4 L152.2,297.6 Z" fill="#c03070"/>
<circle cx="144" cy="344" r="1.3" fill="#4466c0"/>
<circle cx="153.5" cy="302.5" r="1.3" fill="#d5502e"/>
<line x1="249.5" y1="301" x2="249.5" y2="343" stroke="#333" stroke-width="0.7" stroke-dasharray="1.3,0.9"/>
<path d="M204.2,313.4 L205.1,313.1 L206.0,312.4 L206.9,309.2 L207.8,321.2 L208.7,316.1 L209.6,314.7 L210.5,317.6 L211.4,319.8 L212.3,317.8 L213.2,317.6 L214.1,315.4 L215.0,311.8 L215.9,315.6 L216.8,317.8 L217.7,319.7 L218.6,315.5 L219.5,325.7 L220.4,320.5 L221.3,325.5 L222.2,320.5 L223.1,315.9 L224.0,318.0 L224.9,318.5 L225.8,322.7 L226.7,318.0 L227.6,319.1 L228.5,314.0 L229.4,316.7 L230.3,312.1 L231.2,312.8 L232.1,310.3 L233.0,309.6 L233.9,315.9 L234.8,320.8 L235.7,325.5 L236.6,325.6 L237.5,314.7 L238.4,311.3 L239.3,315.9 L240.2,315.1 L241.1,310.7 L242.0,319.4 L242.9,319.3 L243.8,313.4 L244.7,323.6 L245.6,317.1 L246.5,312.0 L247.5,339.3 L248.7,301.6 L250.0,320.0 L251.2,342.6 L253.0,303.8 L254.5,318.0 L255.5,319.3 L256.4,313.3 L257.3,302.1 L258.2,320.1 L259.1,317.3 L260.0,312.1 L260.9,313.3 L261.8,320.0 L262.7,320.3 L263.6,318.6 L264.5,316.0 L265.4,313.1 L266.3,312.6 L267.2,320.8 L268.1,323.1 L269.0,324.7 L269.9,318.1 L270.8,312.0 L271.7,317.3 L272.6,315.8 L273.5,318.3 L274.4,322.1 L275.3,316.7 L276.2,319.6 L277.1,319.1 L278.0,313.7 L278.9,321.6 L279.8,314.9 L280.7,312.2 L281.6,316.1 L282.5,321.1 L283.4,315.5 L284.3,325.2 L285.2,322.5 L286.1,318.2 L287.0,311.4 L287.9,318.2 L288.8,314.6 L289.7,321.1 L290.6,313.9 L291.5,322.4 L292.4,326.4 L293.3,317.0 L294.2,320.6" fill="none" stroke="#1a1a1a" stroke-width="0.85" stroke-linejoin="round"/>
<circle cx="243.2" cy="295.5" r="1.7" fill="white" stroke="#222" stroke-width="0.8"/>
<circle cx="255.4" cy="295.5" r="1.7" fill="white" stroke="#222" stroke-width="0.8"/>
<line x1="245" y1="295.5" x2="251.8" y2="295.5" stroke="#3a86d0" stroke-width="1.1"/>
<path d="M253.6,295.5 L250.8,293.9 L250.8,297.1 Z" fill="#3a86d0"/>
<circle cx="247.5" cy="339.3" r="1.3" fill="#4466c0"/>
<circle cx="251.2" cy="342.6" r="1.3" fill="#4466c0"/>
<line x1="94.5" y1="355" x2="94.5" y2="397" stroke="#333" stroke-width="0.7" stroke-dasharray="1.3,0.9"/>
<path d="M50.3,381.3 L51.2,370.9 L52.1,385.1 L53.0,379.6 L53.9,373.5 L54.8,384.2 L55.7,378.9 L56.6,374.2 L57.5,380.6 L58.4,384.7 L59.3,381.9 L60.2,372.6 L61.1,385.4 L62.0,384.3 L62.9,382.1 L63.8,381.0 L64.7,385.2 L65.6,377.7 L66.5,371.9 L67.4,386.7 L68.3,375.3 L69.2,372.9 L70.1,382.8 L71.0,380.2 L71.9,377.4 L72.8,377.8 L73.7,384.0 L74.6,384.1 L75.5,377.0 L76.4,379.1 L77.3,378.8 L78.2,372.7 L79.1,373.3 L80.0,387.2 L80.9,376.5 L81.8,382.0 L82.7,383.9 L83.6,381.1 L84.5,382.7 L85.4,379.0 L86.3,374.3 L87.2,369.9 L88.1,379.7 L89.0,373.7 L89.9,376.8 L90.8,379.9 L91.7,370.9 L92.6,373.2 L93.5,382.9 L94.8,388.0 L96.3,354.5 L97.5,366.0 L99.3,356.7 L100.5,375.0 L101.5,382.0 L102.5,383.8 L103.4,369.2 L104.3,381.2 L105.2,383.9 L106.1,375.1 L107.0,376.0 L107.9,379.1 L108.8,380.4 L109.7,375.2 L110.6,382.6 L111.5,377.3 L112.4,374.5 L113.3,381.8 L114.2,379.1 L115.1,373.9 L116.0,386.4 L116.9,381.3 L117.8,372.1 L118.7,386.7 L119.6,383.8 L120.5,390.1 L121.4,381.8 L122.3,370.9 L123.2,381.8 L124.1,381.9 L125.0,377.2 L125.9,377.2 L126.8,384.1 L127.7,383.7 L128.6,374.5 L129.5,373.3 L130.4,384.0 L131.3,382.8 L132.2,383.4 L133.1,376.3 L134.0,386.0 L134.9,388.2 L135.8,380.8 L136.7,374.2 L137.6,386.3 L138.5,383.0 L139.4,381.2" fill="none" stroke="#1a1a1a" stroke-width="0.85" stroke-linejoin="round"/>
<circle cx="88.8" cy="350.3" r="1.7" fill="white" stroke="#222" stroke-width="0.8"/>
<circle cx="101" cy="350.3" r="1.7" fill="white" stroke="#222" stroke-width="0.8"/>
<line x1="90.6" y1="350.3" x2="97.4" y2="350.3" stroke="#d8304a" stroke-width="1.1"/>
<path d="M99.2,350.3 L96.4,348.7 L96.4,351.9 Z" fill="#d8304a"/>
<circle cx="96.3" cy="354.5" r="1.3" fill="#d5502e"/>
<circle cx="99.3" cy="356.7" r="1.3" fill="#d5502e"/>
<circle cx="97.8" cy="362" r="1.3" fill="#d5502e"/>
<circle cx="97" cy="366.5" r="1.3" fill="#d5502e"/>
<line x1="203.8" y1="356" x2="203.8" y2="397" stroke="#333" stroke-width="0.7" stroke-dasharray="1.3,0.9"/>
<path d="M158.0,374.3 L158.9,377.8 L159.8,365.8 L160.7,373.5 L161.6,380.2 L162.5,377.1 L163.4,367.9 L164.3,378.7 L165.2,367.9 L166.1,366.6 L167.0,376.0 L167.9,375.3 L168.8,376.9 L169.7,377.5 L170.6,378.3 L171.5,381.4 L172.4,368.9 L173.3,374.3 L174.2,373.3 L175.1,370.8 L176.0,371.2 L176.9,376.2 L177.8,375.8 L178.7,381.6 L179.6,375.6 L180.5,371.7 L181.4,368.3 L182.3,378.7 L183.2,382.6 L184.1,377.9 L185.0,378.6 L185.9,372.9 L186.8,370.7 L187.7,372.5 L188.6,368.4 L189.5,375.9 L190.4,366.6 L191.3,362.8 L192.2,363.4 L193.1,378.9 L194.0,371.4 L194.9,377.1 L195.8,378.1 L196.7,378.3 L197.6,380.3 L198.5,378.5 L199.4,379.7 L200.3,367.4 L201.5,372.0 L202.5,355.0 L203.5,360.0 L204.6,396.6 L205.6,384.0 L206.5,392.5 L207.5,372.0 L208.4,368.6 L209.3,382.3 L210.2,377.7 L211.1,378.8 L212.0,367.1 L212.9,372.7 L213.8,371.1 L214.7,379.5 L215.6,369.4 L216.5,368.6 L217.4,381.4 L218.3,371.3 L219.2,371.4 L220.1,378.0 L221.0,377.4 L221.9,376.4 L222.8,369.1 L223.7,376.2 L224.6,373.5 L225.5,378.0 L226.4,373.7 L227.3,373.6 L228.2,373.7 L229.1,377.1 L230.0,370.4 L230.9,376.1 L231.8,373.5 L232.7,378.4 L233.6,387.2 L234.5,378.3 L235.4,374.7 L236.3,375.1 L237.2,380.2 L238.1,370.5 L239.0,379.0 L239.9,382.8 L240.8,374.6 L241.7,378.3 L242.6,380.9 L243.5,369.3 L244.4,375.7 L245.3,375.5 L246.2,379.2 L247.1,376.5" fill="none" stroke="#1a1a1a" stroke-width="0.85" stroke-linejoin="round"/>
<circle cx="196.6" cy="350.3" r="1.7" fill="white" stroke="#222" stroke-width="0.8"/>
<circle cx="208.8" cy="350.3" r="1.7" fill="white" stroke="#222" stroke-width="0.8"/>
<line x1="198.4" y1="350.3" x2="205.2" y2="350.3" stroke="#3a86d0" stroke-width="1.1"/>
<path d="M207,350.3 L204.2,348.7 L204.2,351.9 Z" fill="#3a86d0"/>
<circle cx="205.2" cy="384" r="1.3" fill="#4466c0"/>
<circle cx="206.5" cy="392.5" r="1.3" fill="#4466c0"/>
<circle cx="204.6" cy="396.3" r="1.3" fill="#4466c0"/>
<line x1="4" y1="349.5" x2="26" y2="349.5" stroke="#222" stroke-width="1.1"/>
<text x="5" y="359" font-size="7.2" text-anchor="start" fill="#222">50 ms</text>
<defs><filter id="noiseM" x="0" y="0" width="1" height="1" color-interpolation-filters="sRGB"><feTurbulence type="fractalNoise" baseFrequency="0.63" numOctaves="2" seed="4" result="t"/><feColorMatrix in="t" type="matrix" values="1 0 0 0 0  1 0 0 0 0  1 0 0 0 0  0 0 0 0 1"/><feComponentTransfer result="c"><feFuncR type="table" tableValues="0.020 0.020 0.020 0.020 0.020 0.020 0.020 0.020 0.020 0.020 0.020 0.027 0.039 0.052 0.064 0.076 0.089 0.101 0.113 0.125 0.139 0.154 0.169 0.185 0.200 0.217 0.235 0.257 0.320 0.428 0.594 0.802 0.969 0.989 0.973 0.958 0.927 0.906 0.890 0.877 0.866 0.855 0.844 0.832 0.819 0.807 0.794 0.782 0.769 0.756 0.744 0.731 0.718 0.706 0.688 0.662 0.635 0.609 0.583 0.557 0.530 0.504 0.478 0.451 0.425"/><feFuncG type="table" tableValues="0.188 0.188 0.188 0.188 0.188 0.188 0.188 0.188 0.188 0.188 0.188 0.203 0.226 0.250 0.274 0.297 0.321 0.345 0.368 0.392 0.413 0.433 0.453 0.473 0.494 0.516 0.540 0.569 0.613 0.681 0.784 0.889 0.969 0.874 0.747 0.653 0.579 0.530 0.494 0.464 0.437 0.412 0.387 0.362 0.337 0.312 0.286 0.261 0.236 0.211 0.185 0.160 0.135 0.110 0.091 0.082 0.074 0.066 0.057 0.049 0.040 0.032 0.024 0.015 0.007"/><feFuncB type="table" tableValues="0.380 0.380 0.380 0.380 0.380 0.380 0.380 0.380 0.380 0.380 0.380 0.401 0.434 0.466 0.499 0.532 0.565 0.598 0.631 0.664 0.681 0.691 0.702 0.712 0.722 0.734 0.746 0.761 0.784 0.821 0.877 0.936 0.969 0.807 0.637 0.517 0.458 0.420 0.392 0.369 0.349 0.329 0.310 0.295 0.283 0.271 0.259 0.247 0.236 0.224 0.212 0.200 0.188 0.176 0.167 0.163 0.159 0.154 0.150 0.146 0.142 0.138 0.133 0.129 0.125"/></feComponentTransfer><feGaussianBlur in="c" stdDeviation="1" result="cb"/><feComposite in="c" in2="cb" operator="arithmetic" k1="0" k2="0.5" k3="0.5" k4="0"/></filter></defs>
<rect x="323.8" y="250.6" width="135.2" height="134.7" fill="#aaa" filter="url(#noiseM)"/>
<defs><filter id="blk" x="0" y="0" width="1" height="1" color-interpolation-filters="sRGB"><feTurbulence type="fractalNoise" baseFrequency="0.39" numOctaves="2" seed="9" result="t"/><feColorMatrix in="t" type="matrix" values="1 0 0 0 0  1 0 0 0 0  1 0 0 0 0  0 0 0 0 1"/><feComponentTransfer><feFuncR type="table" tableValues="0.02 0.02 0.1 0.3 0.45 0.55 0.62 0.55 0.4 0.4"/><feFuncG type="table" tableValues="0.19 0.19 0.25 0.3 0.35 0.12 0.04 0.0 0.0 0.0"/><feFuncB type="table" tableValues="0.38 0.38 0.45 0.5 0.4 0.2 0.15 0.12 0.12 0.12"/></feComponentTransfer><feGaussianBlur stdDeviation="0.5"/></filter></defs>
<rect x="323.8" y="357.8" width="27" height="27.5" fill="#888" filter="url(#blk)" opacity="0.18"/>
<rect x="323.8" y="357.8" width="27" height="27.5" fill="none" stroke="#bbb" stroke-width="0.6" opacity="0.7"/>
<rect x="350.8" y="337.8" width="20.5" height="20" fill="#888" filter="url(#blk)" opacity="0.12"/>
<rect x="350.8" y="337.8" width="20.5" height="20" fill="none" stroke="#bbb" stroke-width="0.6" opacity="0.7"/>
<rect x="371.3" y="316" width="21.5" height="21.8" fill="#888" filter="url(#blk)" opacity="0.08"/>
<rect x="371.3" y="316" width="21.5" height="21.8" fill="none" stroke="#bbb" stroke-width="0.6" opacity="0.7"/>
<rect x="392.8" y="302" width="14.4" height="14" fill="#888" filter="url(#blk)" opacity="0.08"/>
<rect x="392.8" y="302" width="14.4" height="14" fill="none" stroke="#bbb" stroke-width="0.6" opacity="0.7"/>
<rect x="407.2" y="280.9" width="21.5" height="21.1" fill="#888" filter="url(#blk)" opacity="0.08"/>
<rect x="407.2" y="280.9" width="21.5" height="21.1" fill="none" stroke="#bbb" stroke-width="0.6" opacity="0.7"/>
<rect x="428.7" y="250.6" width="30.3" height="30.3" fill="#888" filter="url(#blk)" opacity="0.06"/>
<rect x="428.7" y="250.6" width="30.3" height="30.3" fill="none" stroke="#bbb" stroke-width="0.6" opacity="0.7"/>
<circle cx="330" cy="379" r="6" fill="#5a1c3a" filter="url(#blk)" opacity="0.5"/>
<circle cx="337" cy="370" r="4" fill="#5a1c3a" filter="url(#blk)" opacity="0.3"/>
<circle cx="362" cy="346" r="4" fill="#5a1c3a" filter="url(#blk)" opacity="0.6"/>
<circle cx="411" cy="296.5" r="3" fill="#5a1c3a" filter="url(#blk)" opacity="0.75"/>
<circle cx="376" cy="332" r="3" fill="#5a1c3a" filter="url(#blk)" opacity="0.45"/>
<circle cx="396.5" cy="312" r="2.5" fill="#5a1c3a" filter="url(#blk)" opacity="0.4"/>
<circle cx="430" cy="268" r="3" fill="#5a1c3a" filter="url(#blk)" opacity="0.25"/>
<circle cx="456" cy="253" r="2.2" fill="#5a1c3a" filter="url(#blk)" opacity="0.8"/>
<line x1="325" y1="384.1" x2="457.8" y2="251.8" stroke="#f8f8f8" stroke-width="1.05" stroke-dasharray="4,1.3" opacity="0.85"/>
<rect x="323.8" y="242" width="27" height="8.6" fill="#e3dff0"/>
<text x="337.3" y="249.3" font-size="8.3" text-anchor="middle" fill="#2a2a2a">V1</text>
<rect x="350.8" y="242" width="20.5" height="8.6" fill="#fbe3ee"/>
<text x="361.1" y="249.3" font-size="8.3" text-anchor="middle" fill="#2a2a2a">LM</text>
<rect x="371.3" y="242" width="21.5" height="8.6" fill="#dedede"/>
<text x="382.1" y="249.3" font-size="8.3" text-anchor="middle" fill="#2a2a2a">RL</text>
<rect x="392.8" y="242" width="14.4" height="8.6" fill="#fde5cd"/>
<text x="400" y="249.3" font-size="8.3" text-anchor="middle" fill="#2a2a2a">AL</text>
<rect x="407.2" y="242" width="21.5" height="8.6" fill="#dde8f4"/>
<text x="417.9" y="249.3" font-size="8.3" text-anchor="middle" fill="#2a2a2a">PM</text>
<rect x="428.7" y="242" width="30.3" height="8.6" fill="#e8f1da"/>
<text x="443.9" y="249.3" font-size="8.3" text-anchor="middle" fill="#2a2a2a">AM</text>
<rect x="315.1" y="250.6" width="8.7" height="30.3" fill="#e8f1da"/>
<text x="323.1" y="265.8" font-size="8.3" text-anchor="middle" fill="#333" transform="rotate(-90 323.1 265.8)">AM</text>
<rect x="315.1" y="280.9" width="8.7" height="21.1" fill="#dde8f4"/>
<text x="323.1" y="291.4" font-size="8.3" text-anchor="middle" fill="#333" transform="rotate(-90 323.1 291.4)">PM</text>
<rect x="315.1" y="302" width="8.7" height="14" fill="#fde5cd"/>
<text x="323.1" y="309" font-size="8.3" text-anchor="middle" fill="#333" transform="rotate(-90 323.1 309)">AL</text>
<rect x="315.1" y="316" width="8.7" height="21.8" fill="#dedede"/>
<text x="323.1" y="326.9" font-size="8.3" text-anchor="middle" fill="#333" transform="rotate(-90 323.1 326.9)">RL</text>
<rect x="315.1" y="337.8" width="8.7" height="20" fill="#fbe3ee"/>
<text x="323.1" y="347.8" font-size="8.3" text-anchor="middle" fill="#333" transform="rotate(-90 323.1 347.8)">LM</text>
<rect x="315.1" y="357.8" width="8.7" height="27.5" fill="#e3dff0"/>
<text x="323.1" y="371.6" font-size="8.3" text-anchor="middle" fill="#333" transform="rotate(-90 323.1 371.6)">V1</text>
<text x="393" y="395.2" font-size="10.1" text-anchor="middle" fill="#222">Source</text>
<text x="308.8" y="316" font-size="10" text-anchor="middle" fill="#222" transform="rotate(-90 308.8 316)">Target</text>
<rect x="488.3" y="250.6" width="134.6" height="135" fill="#f8f8f7"/>
<rect x="488.3" y="242" width="27" height="8.6" fill="#e3dff0"/>
<text x="501.8" y="249.3" font-size="8.3" text-anchor="middle" fill="#2a2a2a">V1</text>
<rect x="515.3" y="242" width="20.5" height="8.6" fill="#fbe3ee"/>
<text x="525.5" y="249.3" font-size="8.3" text-anchor="middle" fill="#2a2a2a">LM</text>
<rect x="535.8" y="242" width="21.5" height="8.6" fill="#dedede"/>
<text x="546.5" y="249.3" font-size="8.3" text-anchor="middle" fill="#2a2a2a">RL</text>
<rect x="557.3" y="242" width="14.4" height="8.6" fill="#fde5cd"/>
<text x="564.5" y="249.3" font-size="8.3" text-anchor="middle" fill="#2a2a2a">AL</text>
<rect x="571.7" y="242" width="21.5" height="8.6" fill="#dde8f4"/>
<text x="582.5" y="249.3" font-size="8.3" text-anchor="middle" fill="#2a2a2a">PM</text>
<rect x="593.2" y="242" width="30.3" height="8.6" fill="#e8f1da"/>
<text x="608.4" y="249.3" font-size="8.3" text-anchor="middle" fill="#2a2a2a">AM</text>
<rect x="479.6" y="250.6" width="8.7" height="30.3" fill="#e8f1da"/>
<text x="487.6" y="265.8" font-size="8.3" text-anchor="middle" fill="#333" transform="rotate(-90 487.6 265.8)">AM</text>
<rect x="479.6" y="280.9" width="8.7" height="21.1" fill="#dde8f4"/>
<text x="487.6" y="291.4" font-size="8.3" text-anchor="middle" fill="#333" transform="rotate(-90 487.6 291.4)">PM</text>
<rect x="479.6" y="302" width="8.7" height="14" fill="#fde5cd"/>
<text x="487.6" y="309" font-size="8.3" text-anchor="middle" fill="#333" transform="rotate(-90 487.6 309)">AL</text>
<rect x="479.6" y="316" width="8.7" height="21.8" fill="#dedede"/>
<text x="487.6" y="326.9" font-size="8.3" text-anchor="middle" fill="#333" transform="rotate(-90 487.6 326.9)">RL</text>
<rect x="479.6" y="337.8" width="8.7" height="20" fill="#fbe3ee"/>
<text x="487.6" y="347.8" font-size="8.3" text-anchor="middle" fill="#333" transform="rotate(-90 487.6 347.8)">LM</text>
<rect x="479.6" y="357.8" width="8.7" height="27.5" fill="#e3dff0"/>
<text x="487.6" y="371.6" font-size="8.3" text-anchor="middle" fill="#333" transform="rotate(-90 487.6 371.6)">V1</text>
<rect x="488.3" y="357.8" width="27" height="27.5" fill="none" stroke="#c8c8c8" stroke-width="0.8"/>
<rect x="515.3" y="337.8" width="20.5" height="20" fill="none" stroke="#c8c8c8" stroke-width="0.8"/>
<rect x="535.8" y="316" width="21.5" height="21.8" fill="none" stroke="#c8c8c8" stroke-width="0.8"/>
<rect x="557.3" y="302" width="14.4" height="14" fill="none" stroke="#c8c8c8" stroke-width="0.8"/>
<rect x="571.7" y="280.9" width="21.5" height="21.1" fill="none" stroke="#c8c8c8" stroke-width="0.8"/>
<rect x="593.2" y="250.6" width="30.3" height="30.3" fill="none" stroke="#c8c8c8" stroke-width="0.8"/>
<rect x="492.9" y="375.9" width="1" height="1" fill="#f4a582"/><rect x="509.9" y="383.5" width="1" height="1" fill="#e8907a"/><rect x="493.4" y="371.8" width="1" height="1" fill="#4393c3"/><rect x="498.1" y="373.2" width="1" height="1" fill="#b2182b"/><rect x="511.8" y="376.0" width="1" height="1" fill="#f4a582"/><rect x="504.2" y="359.2" width="1" height="1" fill="#f4a582"/><rect x="506.1" y="374.8" width="1" height="1" fill="#4393c3"/><rect x="492.7" y="379.1" width="1" height="1" fill="#d6604d"/><rect x="500.1" y="372.4" width="1" height="1" fill="#f4a582"/><rect x="492.6" y="375.3" width="1" height="1" fill="#b2182b"/><rect x="490.7" y="363.3" width="1" height="1" fill="#e8907a"/><rect x="513.5" y="360.1" width="1" height="1" fill="#e8907a"/><rect x="509.5" y="363.4" width="1" height="1" fill="#6aaed6"/><rect x="496.1" y="382.6" width="1" height="1" fill="#f4a582"/><rect x="513.7" y="368.2" width="1" height="1" fill="#d6604d"/><rect x="492.8" y="376.6" width="1" height="1" fill="#4393c3"/><rect x="501.1" y="372.3" width="1" height="1" fill="#2166ac"/><rect x="503.1" y="366.4" width="1" height="1" fill="#4393c3"/><rect x="493.3" y="362.6" width="1" height="1" fill="#f4a582"/><rect x="497.5" y="373.5" width="1" height="1" fill="#d6604d"/><rect x="493.0" y="381.8" width="1" height="1" fill="#f4a582"/><rect x="498.2" y="375.7" width="1" height="1" fill="#b2182b"/><rect x="523.3" y="356.1" width="1" height="1" fill="#4393c3"/><rect x="532.1" y="347.1" width="1" height="1" fill="#b2182b"/><rect x="533.1" y="342.7" width="1" height="1" fill="#f4a582"/><rect x="530.7" y="352.2" width="1" height="1" fill="#f4a582"/><rect x="516.8" y="342.9" width="1" height="1" fill="#f4a582"/><rect x="520.4" y="345.4" width="1" height="1" fill="#2166ac"/><rect x="534.0" y="351.7" width="1" height="1" fill="#f4a582"/><rect x="518.4" y="350.0" width="1" height="1" fill="#6aaed6"/><rect x="516.3" y="342.1" width="1" height="1" fill="#2166ac"/><rect x="532.1" y="349.1" width="1" height="1" fill="#e8907a"/><rect x="532.5" y="346.9" width="1" height="1" fill="#e8907a"/><rect x="520.9" y="352.1" width="1" height="1" fill="#b2182b"/><rect x="554.9" y="317.0" width="1" height="1" fill="#b2182b"/><rect x="552.9" y="328.1" width="1" height="1" fill="#f4a582"/><rect x="551.0" y="332.6" width="1" height="1" fill="#b2182b"/><rect x="538.1" y="318.4" width="1" height="1" fill="#f4a582"/><rect x="551.6" y="317.9" width="1" height="1" fill="#f4a582"/><rect x="538.8" y="327.2" width="1" height="1" fill="#f4a582"/><rect x="553.6" y="328.8" width="1" height="1" fill="#f4a582"/><rect x="540.2" y="331.2" width="1" height="1" fill="#4393c3"/><rect x="551.7" y="316.7" width="1" height="1" fill="#d6604d"/><rect x="544.1" y="327.7" width="1" height="1" fill="#2166ac"/><rect x="541.2" y="330.3" width="1" height="1" fill="#d6604d"/><rect x="541.1" y="319.6" width="1" height="1" fill="#92c5de"/><rect x="552.2" y="332.4" width="1" height="1" fill="#e8907a"/><rect x="538.2" y="328.4" width="1" height="1" fill="#f4a582"/><rect x="569.8" y="306.2" width="1" height="1" fill="#e8907a"/><rect x="567.2" y="304.8" width="1" height="1" fill="#f4a582"/><rect x="569.9" y="306.8" width="1" height="1" fill="#f4a582"/><rect x="559.1" y="303.4" width="1" height="1" fill="#f4a582"/><rect x="564.1" y="313.9" width="1" height="1" fill="#f4a582"/><rect x="563.6" y="308.7" width="1" height="1" fill="#4393c3"/><rect x="576.6" y="282.3" width="1" height="1" fill="#b2182b"/><rect x="577.6" y="292.7" width="1" height="1" fill="#f4a582"/><rect x="581.1" y="285.9" width="1" height="1" fill="#f4a582"/><rect x="576.6" y="298.9" width="1" height="1" fill="#d6604d"/><rect x="581.6" y="290.8" width="1" height="1" fill="#2166ac"/><rect x="587.4" y="293.4" width="1" height="1" fill="#92c5de"/><rect x="577.0" y="298.9" width="1" height="1" fill="#e8907a"/><rect x="579.6" y="291.4" width="1" height="1" fill="#4393c3"/><rect x="575.4" y="285.3" width="1" height="1" fill="#2166ac"/><rect x="574.0" y="284.7" width="1" height="1" fill="#e8907a"/><rect x="590.6" y="295.6" width="1" height="1" fill="#d6604d"/><rect x="591.5" y="284.6" width="1" height="1" fill="#f4a582"/><rect x="579.5" y="292.5" width="1" height="1" fill="#d6604d"/><rect x="620.6" y="260.2" width="1" height="1" fill="#b2182b"/><rect x="619.2" y="265.4" width="1" height="1" fill="#f4a582"/><rect x="614.0" y="255.5" width="1" height="1" fill="#f4a582"/><rect x="606.1" y="268.6" width="1" height="1" fill="#b2182b"/><rect x="612.6" y="268.7" width="1" height="1" fill="#b2182b"/><rect x="594.7" y="274.0" width="1" height="1" fill="#92c5de"/><rect x="594.2" y="265.3" width="1" height="1" fill="#e8907a"/><rect x="606.2" y="263.8" width="1" height="1" fill="#2166ac"/><rect x="596.4" y="259.8" width="1" height="1" fill="#d6604d"/><rect x="604.2" y="254.9" width="1" height="1" fill="#6aaed6"/><rect x="608.7" y="252.5" width="1" height="1" fill="#f4a582"/><rect x="618.7" y="258.0" width="1" height="1" fill="#e8907a"/><rect x="619.9" y="276.1" width="1" height="1" fill="#e8907a"/><rect x="595.8" y="263.4" width="1" height="1" fill="#2166ac"/><rect x="598.0" y="265.2" width="1" height="1" fill="#e8907a"/><rect x="611.3" y="264.4" width="1" height="1" fill="#92c5de"/><rect x="598.0" y="255.4" width="1" height="1" fill="#d6604d"/><rect x="618.9" y="253.1" width="1" height="1" fill="#e8907a"/><rect x="596.5" y="274.5" width="1" height="1" fill="#f4a582"/><rect x="595.4" y="252.2" width="1" height="1" fill="#f4a582"/><rect x="598.2" y="254.0" width="1" height="1" fill="#92c5de"/><rect x="605.3" y="270.7" width="1" height="1" fill="#6aaed6"/><rect x="595.9" y="274.5" width="1" height="1" fill="#d6604d"/><rect x="614.3" y="268.3" width="1" height="1" fill="#b2182b"/><rect x="594.3" y="261.5" width="1" height="1" fill="#f4a582"/><rect x="616.5" y="276.8" width="1" height="1" fill="#b2182b"/><rect x="613.0" y="269.4" width="1" height="1" fill="#e8907a"/><rect x="499.2" y="384.1" width="1" height="1" fill="#f4a582"/><rect x="499.6" y="381.9" width="1" height="1" fill="#f4a582"/><rect x="490.8" y="375.3" width="1" height="1" fill="#f4a582"/><rect x="496.2" y="374.0" width="1" height="1" fill="#6aaed6"/><rect x="491.2" y="384.5" width="1" height="1" fill="#f4a582"/><rect x="497.3" y="383.0" width="1" height="1" fill="#d6604d"/><rect x="491.6" y="379.5" width="1" height="1" fill="#f4a582"/><rect x="495.4" y="384.4" width="1" height="1" fill="#4393c3"/><rect x="500.1" y="381.3" width="1" height="1" fill="#b2182b"/><rect x="499.5" y="378.5" width="1" height="1" fill="#92c5de"/><rect x="490.2" y="375.0" width="1" height="1" fill="#f4a582"/><rect x="497.7" y="381.4" width="1" height="1" fill="#f4a582"/><rect x="490.9" y="382.3" width="1" height="1" fill="#f4a582"/><rect x="491.9" y="378.7" width="1" height="1" fill="#d6604d"/><rect x="497.9" y="376.2" width="1" height="1" fill="#f4a582"/><rect x="497.3" y="381.1" width="1" height="1" fill="#6aaed6"/><rect x="490.4" y="372.4" width="1" height="1" fill="#e8907a"/><rect x="492.2" y="382.4" width="1" height="1" fill="#f4a582"/><rect x="491.4" y="381.2" width="1" height="1" fill="#6aaed6"/><rect x="496.5" y="372.3" width="1" height="1" fill="#2166ac"/><rect x="494.5" y="377.8" width="1" height="1" fill="#f4a582"/><rect x="495.7" y="380.7" width="1" height="1" fill="#4393c3"/><rect x="493.1" y="375.1" width="1" height="1" fill="#d6604d"/><rect x="499.5" y="374.5" width="1" height="1" fill="#4393c3"/><rect x="497.4" y="375.1" width="1" height="1" fill="#f4a582"/><rect x="490.0" y="379.7" width="1" height="1" fill="#e8907a"/><rect x="491.2" y="378.2" width="1" height="1" fill="#b2182b"/><rect x="489.2" y="383.3" width="1" height="1" fill="#92c5de"/><rect x="488.9" y="382.5" width="1" height="1" fill="#f4a582"/><rect x="496.8" y="377.2" width="1" height="1" fill="#e8907a"/><rect x="496.3" y="372.3" width="1" height="1" fill="#e8907a"/><rect x="496.9" y="378.1" width="1" height="1" fill="#e8907a"/><rect x="493.1" y="380.0" width="1" height="1" fill="#f4a582"/><rect x="490.4" y="377.0" width="1" height="1" fill="#f4a582"/><rect x="497.1" y="379.3" width="1" height="1" fill="#b2182b"/><rect x="489.0" y="380.0" width="1" height="1" fill="#b2182b"/><rect x="497.7" y="383.3" width="1" height="1" fill="#f4a582"/><rect x="494.4" y="374.1" width="1" height="1" fill="#f4a582"/><rect x="496.8" y="375.7" width="1" height="1" fill="#6aaed6"/><rect x="490.9" y="373.9" width="1" height="1" fill="#b2182b"/><rect x="491.3" y="373.4" width="1" height="1" fill="#d6604d"/><rect x="496.0" y="373.5" width="1" height="1" fill="#b2182b"/><rect x="495.0" y="373.1" width="1" height="1" fill="#e8907a"/><rect x="495.3" y="375.1" width="1" height="1" fill="#e8907a"/><rect x="496.8" y="382.2" width="1" height="1" fill="#f4a582"/><rect x="498.1" y="380.6" width="1" height="1" fill="#6aaed6"/><rect x="489.2" y="378.2" width="1" height="1" fill="#6aaed6"/><rect x="490.9" y="383.6" width="1" height="1" fill="#f4a582"/><rect x="497.7" y="381.0" width="1" height="1" fill="#b2182b"/><rect x="492.1" y="376.6" width="1" height="1" fill="#f4a582"/><rect x="493.3" y="382.0" width="1" height="1" fill="#f4a582"/><rect x="495.5" y="378.1" width="1" height="1" fill="#2166ac"/><rect x="497.5" y="373.9" width="1" height="1" fill="#d6604d"/><rect x="491.9" y="380.5" width="1" height="1" fill="#4393c3"/><rect x="493.1" y="382.8" width="1" height="1" fill="#d6604d"/><rect x="496.0" y="377.9" width="1" height="1" fill="#f4a582"/><rect x="497.1" y="372.6" width="1" height="1" fill="#e8907a"/><rect x="492.6" y="374.3" width="1" height="1" fill="#6aaed6"/><rect x="494.6" y="374.0" width="1" height="1" fill="#b2182b"/><rect x="498.8" y="376.2" width="1" height="1" fill="#b2182b"/><rect x="601.5" y="379.7" width="1" height="1" fill="#f4a582" opacity="0.8"/><rect x="559.1" y="301.4" width="1" height="1" fill="#e8907a" opacity="0.8"/><rect x="608.0" y="275.7" width="1" height="1" fill="#b2182b" opacity="0.8"/><rect x="532.7" y="370.1" width="1" height="1" fill="#2166ac" opacity="0.8"/><rect x="527.3" y="351.3" width="1" height="1" fill="#4393c3" opacity="0.8"/><rect x="605.3" y="284.2" width="1" height="1" fill="#92c5de" opacity="0.8"/><rect x="563.2" y="360.7" width="1" height="1" fill="#6aaed6" opacity="0.8"/><rect x="493.0" y="328.4" width="1" height="1" fill="#2166ac" opacity="0.8"/><rect x="594.1" y="333.0" width="1" height="1" fill="#4393c3" opacity="0.8"/><rect x="604.4" y="370.3" width="1" height="1" fill="#2166ac" opacity="0.8"/><rect x="555.2" y="344.8" width="1" height="1" fill="#b2182b" opacity="0.8"/><rect x="575.8" y="308.8" width="1" height="1" fill="#92c5de" opacity="0.8"/><rect x="590.9" y="320.6" width="1" height="1" fill="#d6604d" opacity="0.8"/><rect x="588.9" y="273.6" width="1" height="1" fill="#f4a582" opacity="0.8"/><rect x="495.7" y="336.2" width="1" height="1" fill="#e8907a" opacity="0.8"/><rect x="566.2" y="338.3" width="1" height="1" fill="#92c5de" opacity="0.8"/><rect x="543.9" y="303.6" width="1" height="1" fill="#4393c3" opacity="0.8"/><rect x="526.2" y="252.2" width="1" height="1" fill="#f4a582" opacity="0.8"/><rect x="550.5" y="372.2" width="1" height="1" fill="#92c5de" opacity="0.8"/><rect x="601.0" y="269.5" width="1" height="1" fill="#f4a582" opacity="0.8"/><rect x="516.3" y="272.9" width="1" height="1" fill="#b2182b" opacity="0.8"/><rect x="489.8" y="296.8" width="1" height="1" fill="#f4a582" opacity="0.8"/><rect x="580.8" y="318.6" width="1" height="1" fill="#d6604d" opacity="0.8"/><rect x="512.2" y="327.7" width="1" height="1" fill="#b2182b" opacity="0.8"/><rect x="601.1" y="334.2" width="1" height="1" fill="#b2182b" opacity="0.8"/><rect x="502.2" y="375.0" width="1" height="1" fill="#f4a582" opacity="0.8"/><rect x="532.4" y="348.2" width="1" height="1" fill="#f4a582" opacity="0.8"/><rect x="587.8" y="348.5" width="1" height="1" fill="#f4a582" opacity="0.8"/><rect x="519.4" y="360.7" width="1" height="1" fill="#2166ac" opacity="0.8"/><rect x="620.8" y="262.6" width="1" height="1" fill="#6aaed6" opacity="0.8"/><rect x="550.1" y="343.6" width="1" height="1" fill="#2166ac" opacity="0.8"/><rect x="584.3" y="309.8" width="1" height="1" fill="#f4a582" opacity="0.8"/><rect x="609.6" y="262.8" width="1" height="1" fill="#6aaed6" opacity="0.8"/><rect x="608.7" y="375.6" width="1" height="1" fill="#4393c3" opacity="0.8"/><rect x="570.7" y="252.7" width="1" height="1" fill="#92c5de" opacity="0.8"/><rect x="558.1" y="347.5" width="1" height="1" fill="#d6604d" opacity="0.8"/><rect x="604.3" y="382.7" width="1" height="1" fill="#4393c3" opacity="0.8"/><rect x="565.1" y="299.8" width="1" height="1" fill="#6aaed6" opacity="0.8"/><rect x="593.3" y="316.5" width="1" height="1" fill="#e8907a" opacity="0.8"/><rect x="528.7" y="353.1" width="1" height="1" fill="#d6604d" opacity="0.8"/><rect x="611.7" y="270.4" width="1" height="1" fill="#92c5de" opacity="0.8"/><rect x="563.0" y="353.8" width="1" height="1" fill="#d6604d" opacity="0.8"/><rect x="537.9" y="319.4" width="1" height="1" fill="#2166ac" opacity="0.8"/><rect x="606.6" y="312.7" width="1" height="1" fill="#e8907a" opacity="0.8"/><rect x="599.8" y="339.0" width="1" height="1" fill="#b2182b" opacity="0.8"/>
<text x="557.6" y="394.3" font-size="10.2" text-anchor="middle" fill="#222">Source</text>
<text x="473.5" y="316" font-size="10" text-anchor="middle" fill="#222" transform="rotate(-90 473.5 316)">Target</text>
<defs><linearGradient id="cbar" x1="0" y1="0" x2="0" y2="1"><stop offset="0.0" stop-color="#67001f"/><stop offset="0.1" stop-color="#b2182b"/><stop offset="0.2" stop-color="#d6604d"/><stop offset="0.3" stop-color="#f4a582"/><stop offset="0.4" stop-color="#fddbc7"/><stop offset="0.5" stop-color="#f7f7f7"/><stop offset="0.6" stop-color="#d1e5f0"/><stop offset="0.7" stop-color="#92c5de"/><stop offset="0.8" stop-color="#4393c3"/><stop offset="0.9" stop-color="#2166ac"/><stop offset="1.0" stop-color="#053061"/></linearGradient></defs>
<rect x="627.3" y="251.2" width="7" height="134.5" fill="url(#cbar)"/>
<line x1="634.3" y1="274" x2="635.3" y2="274" stroke="#333" stroke-width="0.5"/>
<text x="634.9" y="276.8" font-size="8.2" text-anchor="start" fill="#222">4.0e-03</text>
<line x1="634.3" y1="299.5" x2="635.3" y2="299.5" stroke="#333" stroke-width="0.5"/>
<text x="634.9" y="302.3" font-size="8.2" text-anchor="start" fill="#222">2.0e-03</text>
<line x1="634.3" y1="325" x2="635.3" y2="325" stroke="#333" stroke-width="0.5"/>
<text x="634.9" y="327.8" font-size="8.2" text-anchor="start" fill="#222">0.0e+00</text>
<line x1="634.3" y1="350.6" x2="635.3" y2="350.6" stroke="#333" stroke-width="0.5"/>
<text x="634.9" y="353.4" font-size="8.2" text-anchor="start" fill="#222">-2.0e-03</text>
<line x1="634.3" y1="376.2" x2="635.3" y2="376.2" stroke="#333" stroke-width="0.5"/>
<text x="634.9" y="379" font-size="8.2" text-anchor="start" fill="#222">-4.0e-03</text>
<path d="M41.7,420 V537.3 H208.4" fill="none" stroke="#444" stroke-width="1.05"/>
<line x1="39.5" y1="537" x2="41.5" y2="537" stroke="#333" stroke-width="0.7"/>
<text x="37.6" y="540.2" font-size="8.1" text-anchor="end" fill="#222">0.00</text>
<line x1="39.5" y1="515.2" x2="41.5" y2="515.2" stroke="#333" stroke-width="0.7"/>
<text x="37.6" y="518.4" font-size="8.1" text-anchor="end" fill="#222">0.01</text>
<line x1="39.5" y1="493.4" x2="41.5" y2="493.4" stroke="#333" stroke-width="0.7"/>
<text x="37.6" y="496.6" font-size="8.1" text-anchor="end" fill="#222">0.02</text>
<line x1="39.5" y1="471.6" x2="41.5" y2="471.6" stroke="#333" stroke-width="0.7"/>
<text x="37.6" y="474.8" font-size="8.1" text-anchor="end" fill="#222">0.03</text>
<line x1="39.5" y1="449.8" x2="41.5" y2="449.8" stroke="#333" stroke-width="0.7"/>
<text x="37.6" y="453" font-size="8.1" text-anchor="end" fill="#222">0.04</text>
<line x1="39.5" y1="428" x2="41.5" y2="428" stroke="#333" stroke-width="0.7"/>
<text x="37.6" y="431.2" font-size="8.1" text-anchor="end" fill="#222">0.05</text>
<text x="15.2" y="480.5" font-size="10.2" text-anchor="middle" fill="#222" transform="rotate(-90 15.2 480.5)">Density</text>
<rect x="44.5" y="528.5" width="11.1" height="8.5" fill="#d59b9b" stroke="#333" stroke-width="0.7"/>
<rect x="55.6" y="532.4" width="11.1" height="4.6" fill="#8b8bc7" stroke="#333" stroke-width="0.7"/>
<path d="M50,529.4 V527.6 M45.6,527.6 H54.4 M45.6,529.4 H54.4" stroke="#222" stroke-width="1"/>
<path d="M61.1,533.1 V531.8 M56.8,531.8 H65.5 M56.8,533.1 H65.5" stroke="#222" stroke-width="1"/>
<circle cx="50.3" cy="528.3" r="1.5" fill="white" stroke="#555" stroke-width="0.6"/>
<circle cx="50.6" cy="528.1" r="1.5" fill="white" stroke="#555" stroke-width="0.6"/>
<circle cx="50.8" cy="528.7" r="1.5" fill="white" stroke="#555" stroke-width="0.6"/>
<circle cx="51.1" cy="527.8" r="1.5" fill="white" stroke="#555" stroke-width="0.6"/>
<circle cx="50.6" cy="528.5" r="1.5" fill="white" stroke="#555" stroke-width="0.6"/>
<circle cx="62.2" cy="531.5" r="1.5" fill="white" stroke="#555" stroke-width="0.6"/>
<circle cx="60" cy="532.2" r="1.5" fill="white" stroke="#555" stroke-width="0.6"/>
<circle cx="61.1" cy="532.9" r="1.5" fill="white" stroke="#555" stroke-width="0.6"/>
<rect x="51.8" y="547.8" width="7.6" height="7.6" fill="white" stroke="#333" stroke-width="0.75"/>
<rect x="72.3" y="530.5" width="11.1" height="6.5" fill="#d59b9b" stroke="#333" stroke-width="0.7"/>
<rect x="83.4" y="532.6" width="11.1" height="4.4" fill="#8b8bc7" stroke="#333" stroke-width="0.7"/>
<path d="M77.8,533.5 V526.1 M73.4,526.1 H82.2 M73.4,533.5 H82.2" stroke="#222" stroke-width="1"/>
<path d="M88.9,534.4 V530.5 M84.5,530.5 H93.3 M84.5,534.4 H93.3" stroke="#222" stroke-width="1"/>
<circle cx="78.9" cy="519.6" r="1.5" fill="white" stroke="#555" stroke-width="0.6"/>
<circle cx="78.2" cy="530.2" r="1.5" fill="white" stroke="#555" stroke-width="0.6"/>
<circle cx="78.8" cy="531.5" r="1.5" fill="white" stroke="#555" stroke-width="0.6"/>
<circle cx="76.9" cy="533.1" r="1.5" fill="white" stroke="#555" stroke-width="0.6"/>
<circle cx="77.8" cy="533.7" r="1.5" fill="white" stroke="#555" stroke-width="0.6"/>
<circle cx="88.3" cy="526.1" r="1.5" fill="white" stroke="#555" stroke-width="0.6"/>
<circle cx="89.1" cy="530.5" r="1.5" fill="white" stroke="#555" stroke-width="0.6"/>
<circle cx="89.1" cy="533.1" r="1.5" fill="white" stroke="#555" stroke-width="0.6"/>
<circle cx="87.8" cy="534.4" r="1.5" fill="white" stroke="#555" stroke-width="0.6"/>
<polygon points="83.4,546.8 84.7,550.3 88.4,550.4 85.5,552.7 86.5,556.3 83.4,554.2 80.3,556.3 81.3,552.7 78.4,550.4 82.1,550.3" fill="white" stroke="#333" stroke-width="0.75" stroke-linejoin="round"/>
<rect x="100.1" y="476.6" width="11.1" height="60.4" fill="#d59b9b" stroke="#333" stroke-width="0.7"/>
<rect x="111.2" y="529.6" width="11.1" height="7.4" fill="#8b8bc7" stroke="#333" stroke-width="0.7"/>
<path d="M105.6,493.4 V454.6 M101.2,454.6 H110 M101.2,493.4 H110" stroke="#222" stroke-width="1"/>
<path d="M116.8,530.7 V528.3 M112.3,528.3 H121.2 M112.3,530.7 H121.2" stroke="#222" stroke-width="1"/>
<circle cx="105" cy="426.9" r="1.5" fill="white" stroke="#555" stroke-width="0.6"/>
<circle cx="105.1" cy="446.5" r="1.5" fill="white" stroke="#555" stroke-width="0.6"/>
<circle cx="106.6" cy="466.1" r="1.5" fill="white" stroke="#555" stroke-width="0.6"/>
<circle cx="106.3" cy="489.7" r="1.5" fill="white" stroke="#555" stroke-width="0.6"/>
<circle cx="104.8" cy="503.6" r="1.5" fill="white" stroke="#555" stroke-width="0.6"/>
<circle cx="106.4" cy="505.2" r="1.5" fill="white" stroke="#555" stroke-width="0.6"/>
<circle cx="115.9" cy="526.5" r="1.5" fill="white" stroke="#555" stroke-width="0.6"/>
<circle cx="117" cy="528.3" r="1.5" fill="white" stroke="#555" stroke-width="0.6"/>
<circle cx="115.9" cy="529.8" r="1.5" fill="white" stroke="#555" stroke-width="0.6"/>
<circle cx="115.6" cy="530.5" r="1.5" fill="white" stroke="#555" stroke-width="0.6"/>
<polygon points="113.4,547.1 115.7,549.4 113.5,551.6 115.7,553.8 113.4,556.1 111.2,553.9 109,556.1 106.7,553.8 108.9,551.6 106.7,549.4 109,547.1 111.2,549.3" fill="white" stroke="#333" stroke-width="0.75" stroke-linejoin="round"/>
<rect x="127.9" y="505.2" width="11.1" height="31.8" fill="#d59b9b" stroke="#333" stroke-width="0.7"/>
<rect x="139" y="531.1" width="11.1" height="5.9" fill="#8b8bc7" stroke="#333" stroke-width="0.7"/>
<path d="M133.5,514.1 V494.9 M129.1,494.9 H137.9 M129.1,514.1 H137.9" stroke="#222" stroke-width="1"/>
<path d="M144.6,532.2 V529.8 M140.2,529.8 H149 M140.2,532.2 H149" stroke="#222" stroke-width="1"/>
<circle cx="134.3" cy="477.1" r="1.5" fill="white" stroke="#555" stroke-width="0.6"/>
<circle cx="132.8" cy="497.1" r="1.5" fill="white" stroke="#555" stroke-width="0.6"/>
<circle cx="132.8" cy="499.9" r="1.5" fill="white" stroke="#555" stroke-width="0.6"/>
<circle cx="134.6" cy="506.5" r="1.5" fill="white" stroke="#555" stroke-width="0.6"/>
<circle cx="134.3" cy="515.2" r="1.5" fill="white" stroke="#555" stroke-width="0.6"/>
<circle cx="132.9" cy="517.2" r="1.5" fill="white" stroke="#555" stroke-width="0.6"/>
<circle cx="145.7" cy="527.2" r="1.5" fill="white" stroke="#555" stroke-width="0.6"/>
<circle cx="144.6" cy="530.9" r="1.5" fill="white" stroke="#555" stroke-width="0.6"/>
<circle cx="145" cy="532.2" r="1.5" fill="white" stroke="#555" stroke-width="0.6"/>
<circle cx="143.8" cy="533.1" r="1.5" fill="white" stroke="#555" stroke-width="0.6"/>
<polygon points="137.6,547.6 140.4,547.6 140.4,550.2 143,550.2 143,553 140.4,553 140.4,555.6 137.6,555.6 137.6,553 135,553 135,550.2 137.6,550.2" fill="white" stroke="#333" stroke-width="0.75" stroke-linejoin="round"/>
<rect x="155.7" y="515.9" width="11.1" height="21.1" fill="#d59b9b" stroke="#333" stroke-width="0.7"/>
<rect x="166.8" y="531.1" width="11.1" height="5.9" fill="#8b8bc7" stroke="#333" stroke-width="0.7"/>
<path d="M161.2,522.4 V509.3 M156.8,509.3 H165.7 M156.8,522.4 H165.7" stroke="#222" stroke-width="1"/>
<path d="M172.3,532 V530.2 M167.9,530.2 H176.8 M167.9,532 H176.8" stroke="#222" stroke-width="1"/>
<circle cx="162.3" cy="508.4" r="1.5" fill="white" stroke="#555" stroke-width="0.6"/>
<circle cx="161.7" cy="509.3" r="1.5" fill="white" stroke="#555" stroke-width="0.6"/>
<circle cx="162.4" cy="516.3" r="1.5" fill="white" stroke="#555" stroke-width="0.6"/>
<circle cx="162.2" cy="519.3" r="1.5" fill="white" stroke="#555" stroke-width="0.6"/>
<circle cx="160.8" cy="520" r="1.5" fill="white" stroke="#555" stroke-width="0.6"/>
<circle cx="172" cy="529.8" r="1.5" fill="white" stroke="#555" stroke-width="0.6"/>
<circle cx="171.5" cy="530.7" r="1.5" fill="white" stroke="#555" stroke-width="0.6"/>
<circle cx="171.5" cy="531.3" r="1.5" fill="white" stroke="#555" stroke-width="0.6"/>
<g><ellipse cx="166.8" cy="549.3" rx="2" ry="2.2" fill="white" stroke="#333" stroke-width="0.75"/><ellipse cx="164.2" cy="553" rx="1.8" ry="1.8" fill="white" stroke="#333" stroke-width="0.75"/><ellipse cx="169.4" cy="553" rx="1.8" ry="1.8" fill="white" stroke="#333" stroke-width="0.75"/><ellipse cx="166.8" cy="549.3" rx="1.6" ry="1.8" fill="white"/><ellipse cx="164.2" cy="553" rx="1.4" ry="1.4" fill="white"/><ellipse cx="169.4" cy="553" rx="1.4" ry="1.4" fill="white"/><rect x="165.8" y="551.2" width="1.9" height="2.3" fill="white"/><path d="M166.8,552.6 L166,556 L167.6,556 Z" fill="#333" stroke="#333" stroke-width="0.4" stroke-linejoin="round"/></g>
<rect x="183.5" y="521.1" width="11.1" height="15.9" fill="#d59b9b" stroke="#333" stroke-width="0.7"/>
<rect x="194.6" y="532.4" width="11.1" height="4.6" fill="#8b8bc7" stroke="#333" stroke-width="0.7"/>
<path d="M189.1,523.5 V518 M184.7,518 H193.5 M184.7,523.5 H193.5" stroke="#222" stroke-width="1"/>
<path d="M200.2,533.1 V531.8 M195.8,531.8 H204.6 M195.8,533.1 H204.6" stroke="#222" stroke-width="1"/>
<circle cx="188" cy="513.9" r="1.5" fill="white" stroke="#555" stroke-width="0.6"/>
<circle cx="188.6" cy="518.9" r="1.5" fill="white" stroke="#555" stroke-width="0.6"/>
<circle cx="189.3" cy="520.9" r="1.5" fill="white" stroke="#555" stroke-width="0.6"/>
<circle cx="187.9" cy="522.2" r="1.5" fill="white" stroke="#555" stroke-width="0.6"/>
<circle cx="200.6" cy="531.8" r="1.5" fill="white" stroke="#555" stroke-width="0.6"/>
<circle cx="199.8" cy="532.4" r="1.5" fill="white" stroke="#555" stroke-width="0.6"/>
<circle cx="199.7" cy="532.9" r="1.5" fill="white" stroke="#555" stroke-width="0.6"/>
<polygon points="191.6,547.8 198.4,551.6 191.6,555.4" fill="white" stroke="#333" stroke-width="0.75" stroke-linejoin="round"/>
<rect x="128.7" y="429.2" width="16.6" height="6" fill="#d59b9b" stroke="#333" stroke-width="0.6"/>
<rect x="128.7" y="441.3" width="16.6" height="6" fill="#8b8bc7" stroke="#333" stroke-width="0.6"/>
<text x="151.8" y="434.6" font-size="8.3" text-anchor="start" fill="#222">positive</text>
<text x="151.8" y="446.2" font-size="8.3" text-anchor="start" fill="#222">negative</text>
<path d="M253.2,420.5 V534 H359" fill="none" stroke="#555" stroke-width="1"/>
<line x1="251.2" y1="532.3" x2="253.2" y2="532.3" stroke="#333" stroke-width="0.7"/>
<text x="249.2" y="535.1" font-size="8" text-anchor="end" fill="#222">0.2</text>
<line x1="251.2" y1="505.8" x2="253.2" y2="505.8" stroke="#333" stroke-width="0.7"/>
<text x="249.2" y="508.6" font-size="8" text-anchor="end" fill="#222">0.4</text>
<line x1="251.2" y1="479.3" x2="253.2" y2="479.3" stroke="#333" stroke-width="0.7"/>
<text x="249.2" y="482.1" font-size="8" text-anchor="end" fill="#222">0.6</text>
<line x1="251.2" y1="452.8" x2="253.2" y2="452.8" stroke="#333" stroke-width="0.7"/>
<text x="249.2" y="455.6" font-size="8" text-anchor="end" fill="#222">0.8</text>
<line x1="251.2" y1="426.3" x2="253.2" y2="426.3" stroke="#333" stroke-width="0.7"/>
<text x="249.2" y="429.1" font-size="8" text-anchor="end" fill="#222">1.0</text>
<line x1="254.5" y1="533.8" x2="254.5" y2="535.8" stroke="#333" stroke-width="0.7"/>
<text x="254.5" y="543.3" font-size="8" text-anchor="middle" fill="#222">0.00</text>
<line x1="272.5" y1="533.8" x2="272.5" y2="535.8" stroke="#333" stroke-width="0.7"/>
<text x="272.5" y="543.3" font-size="8" text-anchor="middle" fill="#222">0.01</text>
<line x1="290.4" y1="533.8" x2="290.4" y2="535.8" stroke="#333" stroke-width="0.7"/>
<text x="290.4" y="543.3" font-size="8" text-anchor="middle" fill="#222">0.02</text>
<line x1="308.4" y1="533.8" x2="308.4" y2="535.8" stroke="#333" stroke-width="0.7"/>
<text x="308.4" y="543.3" font-size="8" text-anchor="middle" fill="#222">0.03</text>
<line x1="326.4" y1="533.8" x2="326.4" y2="535.8" stroke="#333" stroke-width="0.7"/>
<text x="326.4" y="543.3" font-size="8" text-anchor="middle" fill="#222">0.04</text>
<line x1="344.4" y1="533.8" x2="344.4" y2="535.8" stroke="#333" stroke-width="0.7"/>
<text x="344.4" y="543.3" font-size="8" text-anchor="middle" fill="#222">0.05</text>
<text x="302" y="556" font-size="11.5" text-anchor="middle" fill="#222">Density</text>
<text x="230.2" y="478" font-size="10.3" text-anchor="middle" fill="#222" transform="rotate(-90 230.2 478)">Within-area fraction</text>
<text x="288" y="436.3" font-size="8.9" text-anchor="start" fill="#222">r=0.12, p=0.45</text>
<line x1="257.7" y1="475.3" x2="354.6" y2="458.1" stroke="#bbb" stroke-width="0.8" stroke-dasharray="4,2.5"/>
<polygon points="257.7,511.7 258.5,513.7 260.6,513.7 258.9,515.1 259.5,517.1 257.7,515.9 256,517.1 256.6,515.1 254.9,513.7 257,513.7" fill="white" stroke="#555" stroke-width="0.65" stroke-linejoin="round"/>
<polygon points="259.7,511.9 260.4,513.9 262.6,514 260.9,515.3 261.5,517.4 259.7,516.2 258,517.4 258.5,515.3 256.9,514 259,513.9" fill="white" stroke="#555" stroke-width="0.65" stroke-linejoin="round"/>
<polygon points="259,511 259.7,513 261.8,513.1 260.2,514.4 260.7,516.4 259,515.2 257.2,516.4 257.8,514.4 256.1,513.1 258.3,513" fill="white" stroke="#555" stroke-width="0.65" stroke-linejoin="round"/>
<polygon points="266.9,510.4 267.6,512.4 269.7,512.4 268.1,513.7 268.7,515.8 266.9,514.6 265.1,515.8 265.7,513.7 264.1,512.4 266.2,512.4" fill="white" stroke="#555" stroke-width="0.65" stroke-linejoin="round"/>
<polygon points="277.9,511.7 278.6,513.7 280.7,513.7 279,515.1 279.6,517.1 277.9,515.9 276.1,517.1 276.7,515.1 275,513.7 277.1,513.7" fill="white" stroke="#555" stroke-width="0.65" stroke-linejoin="round"/>
<polygon points="261.1,525.6 261.9,527.6 264,527.7 262.3,529 262.9,531 261.1,529.8 259.4,531 260,529 258.3,527.7 260.4,527.6" fill="white" stroke="#555" stroke-width="0.65" stroke-linejoin="round"/>
<polygon points="263.3,505.1 264,507.1 266.1,507.1 264.5,508.4 265.1,510.5 263.3,509.3 261.5,510.5 262.1,508.4 260.5,507.1 262.6,507.1" fill="white" stroke="#555" stroke-width="0.65" stroke-linejoin="round"/>
<rect x="262.9" y="474.4" width="4.4" height="4.4" fill="white" stroke="#555" stroke-width="0.65"/>
<rect x="262.9" y="476.4" width="4.4" height="4.4" fill="white" stroke="#555" stroke-width="0.65"/>
<rect x="261.1" y="487.7" width="4.4" height="4.4" fill="white" stroke="#555" stroke-width="0.65"/>
<rect x="261.1" y="489" width="4.4" height="4.4" fill="white" stroke="#555" stroke-width="0.65"/>
<rect x="263.3" y="496.3" width="4.4" height="4.4" fill="white" stroke="#555" stroke-width="0.65"/>
<rect x="263.3" y="502.3" width="4.4" height="4.4" fill="white" stroke="#555" stroke-width="0.65"/>
<rect x="266.7" y="506.2" width="4.4" height="4.4" fill="white" stroke="#555" stroke-width="0.65"/>
<rect x="285.9" y="457.9" width="4.4" height="4.4" fill="white" stroke="#555" stroke-width="0.65"/>
<rect x="284.6" y="450.6" width="4.4" height="4.4" fill="white" stroke="#555" stroke-width="0.65"/>
<polygon points="299.5,472.7 300.8,474 299.5,475.3 300.8,476.6 299.5,477.9 298.2,476.6 296.9,477.9 295.6,476.6 296.9,475.3 295.6,474 296.9,472.7 298.2,474" fill="white" stroke="#555" stroke-width="0.65" stroke-linejoin="round"/>
<polygon points="300.7,482.7 302,484 300.7,485.3 302,486.6 300.7,487.9 299.4,486.6 298.1,487.9 296.8,486.6 298.1,485.3 296.8,484 298.1,482.7 299.4,483.9" fill="white" stroke="#555" stroke-width="0.65" stroke-linejoin="round"/>
<polygon points="322.3,484.9 323.6,486.2 322.3,487.5 323.6,488.8 322.3,490.1 321,488.8 319.7,490.1 318.4,488.8 319.7,487.5 318.4,486.2 319.7,484.9 321,486.2" fill="white" stroke="#555" stroke-width="0.65" stroke-linejoin="round"/>
<polygon points="326.4,482.7 327.7,484 326.4,485.3 327.7,486.6 326.4,487.9 325.1,486.6 323.8,487.9 322.5,486.6 323.8,485.3 322.5,484 323.8,482.7 325.1,483.9" fill="white" stroke="#555" stroke-width="0.65" stroke-linejoin="round"/>
<polygon points="356.8,481.3 358.1,482.6 356.8,483.9 358.1,485.2 356.8,486.5 355.5,485.3 354.2,486.5 352.9,485.2 354.2,483.9 352.9,482.6 354.2,481.3 355.5,482.6" fill="white" stroke="#555" stroke-width="0.65" stroke-linejoin="round"/>
<polygon points="288.9,446.9 290.2,448.2 288.9,449.5 290.2,450.8 288.9,452.1 287.6,450.8 286.3,452.1 285,450.8 286.3,449.5 285,448.2 286.3,446.9 287.6,448.2" fill="white" stroke="#555" stroke-width="0.65" stroke-linejoin="round"/>
<polygon points="307.8,472.6 309.7,472.6 309.7,474.4 311.5,474.4 311.5,476.3 309.7,476.3 309.7,478.1 307.8,478.1 307.8,476.3 306,476.3 306,474.4 307.8,474.4" fill="white" stroke="#555" stroke-width="0.65" stroke-linejoin="round"/>
<polygon points="288.4,464.6 290.3,464.6 290.3,466.4 292.1,466.4 292.1,468.3 290.3,468.3 290.3,470.1 288.4,470.1 288.4,468.3 286.6,468.3 286.6,466.4 288.4,466.4" fill="white" stroke="#555" stroke-width="0.65" stroke-linejoin="round"/>
<polygon points="292,447.4 293.9,447.4 293.9,449.2 295.7,449.2 295.7,451.1 293.9,451.1 293.9,452.9 292,452.9 292,451.1 290.2,451.1 290.2,449.2 292,449.2" fill="white" stroke="#555" stroke-width="0.65" stroke-linejoin="round"/>
<polygon points="276.9,441.5 278.8,441.5 278.8,443.2 280.6,443.2 280.6,445.1 278.8,445.1 278.8,446.9 276.9,446.9 276.9,445.1 275.1,445.1 275.1,443.2 276.9,443.2" fill="white" stroke="#555" stroke-width="0.65" stroke-linejoin="round"/>
<polygon points="276.9,448.1 278.8,448.1 278.8,449.9 280.6,449.9 280.6,451.8 278.8,451.8 278.8,453.5 276.9,453.5 276.9,451.8 275.1,451.8 275.1,449.9 276.9,449.9" fill="white" stroke="#555" stroke-width="0.65" stroke-linejoin="round"/>
<polygon points="275.1,447.4 277,447.4 277,449.2 278.8,449.2 278.8,451.1 277,451.1 277,452.9 275.1,452.9 275.1,451.1 273.3,451.1 273.3,449.2 275.1,449.2" fill="white" stroke="#555" stroke-width="0.65" stroke-linejoin="round"/>
<polygon points="277.8,432.8 279.7,432.8 279.7,434.6 281.5,434.6 281.5,436.5 279.7,436.5 279.7,438.3 277.8,438.3 277.8,436.5 276,436.5 276,434.6 277.8,434.6" fill="white" stroke="#555" stroke-width="0.65" stroke-linejoin="round"/>
<polygon points="265.7,443.6 270.4,446.2 265.7,448.8" fill="white" stroke="#555" stroke-width="0.65" stroke-linejoin="round"/>
<polygon points="265.7,451.5 270.4,454.1 265.7,456.7" fill="white" stroke="#555" stroke-width="0.65" stroke-linejoin="round"/>
<polygon points="271.3,456.2 276,458.8 271.3,461.4" fill="white" stroke="#555" stroke-width="0.65" stroke-linejoin="round"/>
<polygon points="267.7,450.2 272.4,452.8 267.7,455.4" fill="white" stroke="#555" stroke-width="0.65" stroke-linejoin="round"/>
<g><ellipse cx="274.3" cy="424.7" rx="1.4" ry="1.5" fill="white" stroke="#555" stroke-width="0.65"/><ellipse cx="272.5" cy="427.3" rx="1.2" ry="1.2" fill="white" stroke="#555" stroke-width="0.65"/><ellipse cx="276" cy="427.3" rx="1.2" ry="1.2" fill="white" stroke="#555" stroke-width="0.65"/><ellipse cx="274.3" cy="424.7" rx="1" ry="1.2" fill="white"/><ellipse cx="272.5" cy="427.3" rx="0.9" ry="0.9" fill="white"/><ellipse cx="276" cy="427.3" rx="0.9" ry="0.9" fill="white"/><rect x="273.6" y="426" width="1.3" height="1.6" fill="white"/><path d="M274.3,426.9 L273.7,429.3 L274.8,429.3 Z" fill="#555" stroke="#555" stroke-width="0.4" stroke-linejoin="round"/></g>
<g><ellipse cx="273.4" cy="431.6" rx="1.4" ry="1.5" fill="white" stroke="#555" stroke-width="0.65"/><ellipse cx="271.6" cy="434.2" rx="1.2" ry="1.2" fill="white" stroke="#555" stroke-width="0.65"/><ellipse cx="275.1" cy="434.2" rx="1.2" ry="1.2" fill="white" stroke="#555" stroke-width="0.65"/><ellipse cx="273.4" cy="431.6" rx="1" ry="1.2" fill="white"/><ellipse cx="271.6" cy="434.2" rx="0.9" ry="0.9" fill="white"/><ellipse cx="275.1" cy="434.2" rx="0.9" ry="0.9" fill="white"/><rect x="272.7" y="432.9" width="1.3" height="1.6" fill="white"/><path d="M273.4,433.8 L272.8,436.2 L273.9,436.2 Z" fill="#555" stroke="#555" stroke-width="0.4" stroke-linejoin="round"/></g>
<g><ellipse cx="288.1" cy="441" rx="1.4" ry="1.5" fill="white" stroke="#555" stroke-width="0.65"/><ellipse cx="286.3" cy="443.6" rx="1.2" ry="1.2" fill="white" stroke="#555" stroke-width="0.65"/><ellipse cx="289.9" cy="443.6" rx="1.2" ry="1.2" fill="white" stroke="#555" stroke-width="0.65"/><ellipse cx="288.1" cy="441" rx="1" ry="1.2" fill="white"/><ellipse cx="286.3" cy="443.6" rx="0.9" ry="0.9" fill="white"/><ellipse cx="289.9" cy="443.6" rx="0.9" ry="0.9" fill="white"/><rect x="287.5" y="442.3" width="1.3" height="1.6" fill="white"/><path d="M288.1,443.2 L287.5,445.6 L288.7,445.6 Z" fill="#555" stroke="#555" stroke-width="0.4" stroke-linejoin="round"/></g>
<g><ellipse cx="271.6" cy="436.7" rx="1.4" ry="1.5" fill="white" stroke="#555" stroke-width="0.65"/><ellipse cx="269.8" cy="439.2" rx="1.2" ry="1.2" fill="white" stroke="#555" stroke-width="0.65"/><ellipse cx="273.3" cy="439.2" rx="1.2" ry="1.2" fill="white" stroke="#555" stroke-width="0.65"/><ellipse cx="271.6" cy="436.7" rx="1" ry="1.2" fill="white"/><ellipse cx="269.8" cy="439.2" rx="0.9" ry="0.9" fill="white"/><ellipse cx="273.3" cy="439.2" rx="0.9" ry="0.9" fill="white"/><rect x="270.9" y="438" width="1.3" height="1.6" fill="white"/><path d="M271.6,438.9 L271,441.2 L272.1,441.2 Z" fill="#555" stroke="#555" stroke-width="0.4" stroke-linejoin="round"/></g>
<g><ellipse cx="275.2" cy="435.3" rx="1.4" ry="1.5" fill="white" stroke="#555" stroke-width="0.65"/><ellipse cx="273.4" cy="437.9" rx="1.2" ry="1.2" fill="white" stroke="#555" stroke-width="0.65"/><ellipse cx="276.9" cy="437.9" rx="1.2" ry="1.2" fill="white" stroke="#555" stroke-width="0.65"/><ellipse cx="275.2" cy="435.3" rx="1" ry="1.2" fill="white"/><ellipse cx="273.4" cy="437.9" rx="0.9" ry="0.9" fill="white"/><ellipse cx="276.9" cy="437.9" rx="0.9" ry="0.9" fill="white"/><rect x="274.5" y="436.6" width="1.3" height="1.6" fill="white"/><path d="M275.2,437.5 L274.6,439.9 L275.7,439.9 Z" fill="#555" stroke="#555" stroke-width="0.4" stroke-linejoin="round"/></g>
<polygon points="270.6,438.1 272.5,438.1 272.5,439.9 274.3,439.9 274.3,441.8 272.5,441.8 272.5,443.6 270.6,443.6 270.6,441.8 268.8,441.8 268.8,439.9 270.6,439.9" fill="white" stroke="#555" stroke-width="0.65" stroke-linejoin="round"/>
<polygon points="273.3,436.8 275.2,436.8 275.2,438.6 277,438.6 277,440.5 275.2,440.5 275.2,442.3 273.3,442.3 273.3,440.5 271.5,440.5 271.5,438.6 273.3,438.6" fill="white" stroke="#555" stroke-width="0.65" stroke-linejoin="round"/>
<polygon points="276,439.5 277.9,439.5 277.9,441.2 279.7,441.2 279.7,443.2 277.9,443.2 277.9,444.9 276,444.9 276,443.2 274.2,443.2 274.2,441.2 276,441.2" fill="white" stroke="#555" stroke-width="0.65" stroke-linejoin="round"/>
<polygon points="269.4,440.1 271.3,440.1 271.3,441.9 273,441.9 273,443.8 271.3,443.8 271.3,445.6 269.4,445.6 269.4,443.8 267.6,443.8 267.6,441.9 269.4,441.9" fill="white" stroke="#555" stroke-width="0.65" stroke-linejoin="round"/>
<polygon points="274.2,446.1 276.1,446.1 276.1,447.9 277.9,447.9 277.9,449.8 276.1,449.8 276.1,451.6 274.2,451.6 274.2,449.8 272.4,449.8 272.4,447.9 274.2,447.9" fill="white" stroke="#555" stroke-width="0.65" stroke-linejoin="round"/>
<g><ellipse cx="276.4" cy="447.9" rx="1.4" ry="1.5" fill="white" stroke="#555" stroke-width="0.65"/><ellipse cx="274.7" cy="450.4" rx="1.2" ry="1.2" fill="white" stroke="#555" stroke-width="0.65"/><ellipse cx="278.2" cy="450.4" rx="1.2" ry="1.2" fill="white" stroke="#555" stroke-width="0.65"/><ellipse cx="276.4" cy="447.9" rx="1" ry="1.2" fill="white"/><ellipse cx="274.7" cy="450.4" rx="0.9" ry="0.9" fill="white"/><ellipse cx="278.2" cy="450.4" rx="0.9" ry="0.9" fill="white"/><rect x="275.8" y="449.2" width="1.3" height="1.6" fill="white"/><path d="M276.4,450.1 L275.9,452.5 L277,452.5 Z" fill="#555" stroke="#555" stroke-width="0.4" stroke-linejoin="round"/></g>
<g><ellipse cx="273.4" cy="431.4" rx="1.4" ry="1.5" fill="white" stroke="#555" stroke-width="0.65"/><ellipse cx="271.6" cy="433.9" rx="1.2" ry="1.2" fill="white" stroke="#555" stroke-width="0.65"/><ellipse cx="275.1" cy="433.9" rx="1.2" ry="1.2" fill="white" stroke="#555" stroke-width="0.65"/><ellipse cx="273.4" cy="431.4" rx="1" ry="1.2" fill="white"/><ellipse cx="271.6" cy="433.9" rx="0.9" ry="0.9" fill="white"/><ellipse cx="275.1" cy="433.9" rx="0.9" ry="0.9" fill="white"/><rect x="272.7" y="432.7" width="1.3" height="1.6" fill="white"/><path d="M273.4,433.6 L272.8,435.9 L273.9,435.9 Z" fill="#555" stroke="#555" stroke-width="0.4" stroke-linejoin="round"/></g>
<g><ellipse cx="287.7" cy="449.9" rx="1.4" ry="1.5" fill="white" stroke="#555" stroke-width="0.65"/><ellipse cx="286" cy="452.4" rx="1.2" ry="1.2" fill="white" stroke="#555" stroke-width="0.65"/><ellipse cx="289.5" cy="452.4" rx="1.2" ry="1.2" fill="white" stroke="#555" stroke-width="0.65"/><ellipse cx="287.7" cy="449.9" rx="1" ry="1.2" fill="white"/><ellipse cx="286" cy="452.4" rx="0.9" ry="0.9" fill="white"/><ellipse cx="289.5" cy="452.4" rx="0.9" ry="0.9" fill="white"/><rect x="287.1" y="451.2" width="1.3" height="1.6" fill="white"/><path d="M287.7,452.1 L287.2,454.5 L288.3,454.5 Z" fill="#555" stroke="#555" stroke-width="0.4" stroke-linejoin="round"/></g>
<path d="M403.2,421 V534 H504" fill="none" stroke="#555" stroke-width="1"/>
<line x1="401.2" y1="533.5" x2="403.2" y2="533.5" stroke="#333" stroke-width="0.7"/>
<text x="399.3" y="536.3" font-size="8" text-anchor="end" fill="#222">0.5</text>
<line x1="401.2" y1="511.3" x2="403.2" y2="511.3" stroke="#333" stroke-width="0.7"/>
<text x="399.3" y="514.1" font-size="8" text-anchor="end" fill="#222">0.6</text>
<line x1="401.2" y1="489.2" x2="403.2" y2="489.2" stroke="#333" stroke-width="0.7"/>
<text x="399.3" y="492" font-size="8" text-anchor="end" fill="#222">0.7</text>
<line x1="401.2" y1="467" x2="403.2" y2="467" stroke="#333" stroke-width="0.7"/>
<text x="399.3" y="469.8" font-size="8" text-anchor="end" fill="#222">0.8</text>
<line x1="401.2" y1="444.9" x2="403.2" y2="444.9" stroke="#333" stroke-width="0.7"/>
<text x="399.3" y="447.7" font-size="8" text-anchor="end" fill="#222">0.9</text>
<line x1="401.2" y1="422.7" x2="403.2" y2="422.7" stroke="#333" stroke-width="0.7"/>
<text x="399.3" y="425.5" font-size="8" text-anchor="end" fill="#222">1.0</text>
<line x1="403.2" y1="533.8" x2="403.2" y2="535.8" stroke="#333" stroke-width="0.7"/>
<text x="402.2" y="543.5" font-size="8" text-anchor="middle" fill="#222">10</text>
<text x="406.4" y="539.5" font-size="5" text-anchor="start" fill="#222">&#8722;3</text>
<line x1="453.5" y1="533.8" x2="453.5" y2="535.8" stroke="#333" stroke-width="0.7"/>
<text x="452.5" y="543.5" font-size="8" text-anchor="middle" fill="#222">10</text>
<text x="456.7" y="539.5" font-size="5" text-anchor="start" fill="#222">&#8722;2</text>
<line x1="503.8" y1="533.8" x2="503.8" y2="535.8" stroke="#333" stroke-width="0.7"/>
<text x="502.8" y="543.5" font-size="8" text-anchor="middle" fill="#222">10</text>
<text x="507" y="539.5" font-size="5" text-anchor="start" fill="#222">&#8722;1</text>
<text x="453.5" y="556" font-size="11.5" text-anchor="middle" fill="#222">Density</text>
<text x="379.5" y="478" font-size="10.3" text-anchor="middle" fill="#222" transform="rotate(-90 379.5 478)">Positive fraction</text>
<text x="414.7" y="431.8" font-size="9.1" text-anchor="start" fill="#222">r=0.84, p=2.0e-12</text>
<line x1="416.9" y1="528.4" x2="490.8" y2="430" stroke="#aaa" stroke-width="0.7" stroke-dasharray="3.5,2.5"/>
<polygon points="417.9,510.8 418.6,512.8 420.7,512.8 419.1,514.1 419.7,516.2 417.9,515 416.1,516.2 416.7,514.1 415.1,512.8 417.2,512.8" fill="white" stroke="#555" stroke-width="0.65" stroke-linejoin="round"/>
<polygon points="425.1,508.6 425.8,510.6 427.9,510.6 426.3,511.9 426.9,514 425.1,512.8 423.3,514 423.9,511.9 422.3,510.6 424.4,510.6" fill="white" stroke="#555" stroke-width="0.65" stroke-linejoin="round"/>
<polygon points="430.6,510.5 431.3,512.5 433.4,512.5 431.8,513.8 432.4,515.9 430.6,514.7 428.8,515.9 429.4,513.8 427.8,512.5 429.9,512.5" fill="white" stroke="#555" stroke-width="0.65" stroke-linejoin="round"/>
<polygon points="428.7,501.1 429.4,503.1 431.5,503.1 429.9,504.4 430.5,506.5 428.7,505.3 426.9,506.5 427.5,504.4 425.9,503.1 428,503.1" fill="white" stroke="#555" stroke-width="0.65" stroke-linejoin="round"/>
<polygon points="440.2,506.8 440.9,508.8 443,508.8 441.4,510.1 442,512.2 440.2,511 438.4,512.2 439,510.1 437.4,508.8 439.5,508.8" fill="white" stroke="#555" stroke-width="0.65" stroke-linejoin="round"/>
<polygon points="446.1,517.2 446.8,519.2 448.9,519.2 447.3,520.5 447.9,522.6 446.1,521.4 444.3,522.6 444.9,520.5 443.3,519.2 445.4,519.2" fill="white" stroke="#555" stroke-width="0.65" stroke-linejoin="round"/>
<polygon points="459.2,505.3 459.9,507.3 462,507.3 460.4,508.6 461,510.7 459.2,509.5 457.4,510.7 458,508.6 456.4,507.3 458.5,507.3" fill="white" stroke="#555" stroke-width="0.65" stroke-linejoin="round"/>
<rect x="437.5" y="489.4" width="4.4" height="4.4" fill="white" stroke="#555" stroke-width="0.65"/>
<rect x="440.6" y="495.3" width="4.4" height="4.4" fill="white" stroke="#555" stroke-width="0.65"/>
<rect x="436.6" y="500.3" width="4.4" height="4.4" fill="white" stroke="#555" stroke-width="0.65"/>
<rect x="440.6" y="503.1" width="4.4" height="4.4" fill="white" stroke="#555" stroke-width="0.65"/>
<rect x="441.1" y="512.2" width="4.4" height="4.4" fill="white" stroke="#555" stroke-width="0.65"/>
<rect x="446.1" y="506.8" width="4.4" height="4.4" fill="white" stroke="#555" stroke-width="0.65"/>
<rect x="441.1" y="478.8" width="4.4" height="4.4" fill="white" stroke="#555" stroke-width="0.65"/>
<polygon points="447.6,462.6 452.3,465.2 447.6,467.8" fill="white" stroke="#555" stroke-width="0.65" stroke-linejoin="round"/>
<polygon points="445.8,486.9 450.5,489.5 445.8,492.1" fill="white" stroke="#555" stroke-width="0.65" stroke-linejoin="round"/>
<polygon points="451.3,476.9 456,479.5 451.3,482.1" fill="white" stroke="#555" stroke-width="0.65" stroke-linejoin="round"/>
<g><ellipse cx="455.2" cy="495.4" rx="1.4" ry="1.5" fill="white" stroke="#555" stroke-width="0.65"/><ellipse cx="453.4" cy="498" rx="1.2" ry="1.2" fill="white" stroke="#555" stroke-width="0.65"/><ellipse cx="457" cy="498" rx="1.2" ry="1.2" fill="white" stroke="#555" stroke-width="0.65"/><ellipse cx="455.2" cy="495.4" rx="1" ry="1.2" fill="white"/><ellipse cx="453.4" cy="498" rx="0.9" ry="0.9" fill="white"/><ellipse cx="457" cy="498" rx="0.9" ry="0.9" fill="white"/><rect x="454.6" y="496.7" width="1.3" height="1.6" fill="white"/><path d="M455.2,497.6 L454.6,500 L455.8,500 Z" fill="#555" stroke="#555" stroke-width="0.4" stroke-linejoin="round"/></g>
<polygon points="457.8,499.5 459.8,499.5 459.8,501.2 461.5,501.2 461.5,503.2 459.8,503.2 459.8,504.9 457.8,504.9 457.8,503.2 456.1,503.2 456.1,501.2 457.8,501.2" fill="white" stroke="#555" stroke-width="0.65" stroke-linejoin="round"/>
<polygon points="449.6,483.3 451.6,483.3 451.6,485 453.3,485 453.3,487 451.6,487 451.6,488.7 449.6,488.7 449.6,487 447.9,487 447.9,485 449.6,485" fill="white" stroke="#555" stroke-width="0.65" stroke-linejoin="round"/>
<g><ellipse cx="453.4" cy="473.7" rx="1.4" ry="1.5" fill="white" stroke="#555" stroke-width="0.65"/><ellipse cx="451.6" cy="476.3" rx="1.2" ry="1.2" fill="white" stroke="#555" stroke-width="0.65"/><ellipse cx="455.2" cy="476.3" rx="1.2" ry="1.2" fill="white" stroke="#555" stroke-width="0.65"/><ellipse cx="453.4" cy="473.7" rx="1" ry="1.2" fill="white"/><ellipse cx="451.6" cy="476.3" rx="0.9" ry="0.9" fill="white"/><ellipse cx="455.2" cy="476.3" rx="0.9" ry="0.9" fill="white"/><rect x="452.8" y="475" width="1.3" height="1.6" fill="white"/><path d="M453.4,475.9 L452.8,478.3 L454,478.3 Z" fill="#555" stroke="#555" stroke-width="0.4" stroke-linejoin="round"/></g>
<g><ellipse cx="457.9" cy="468.4" rx="1.4" ry="1.5" fill="white" stroke="#555" stroke-width="0.65"/><ellipse cx="456.1" cy="471" rx="1.2" ry="1.2" fill="white" stroke="#555" stroke-width="0.65"/><ellipse cx="459.7" cy="471" rx="1.2" ry="1.2" fill="white" stroke="#555" stroke-width="0.65"/><ellipse cx="457.9" cy="468.4" rx="1" ry="1.2" fill="white"/><ellipse cx="456.1" cy="471" rx="0.9" ry="0.9" fill="white"/><ellipse cx="459.7" cy="471" rx="0.9" ry="0.9" fill="white"/><rect x="457.2" y="469.7" width="1.3" height="1.6" fill="white"/><path d="M457.9,470.6 L457.3,473 L458.5,473 Z" fill="#555" stroke="#555" stroke-width="0.4" stroke-linejoin="round"/></g>
<polygon points="458.7,446 460.7,446 460.7,447.7 462.4,447.7 462.4,449.7 460.7,449.7 460.7,451.4 458.7,451.4 458.7,449.7 457,449.7 457,447.7 458.7,447.7" fill="white" stroke="#555" stroke-width="0.65" stroke-linejoin="round"/>
<polygon points="466.9,445.1 468.9,445.1 468.9,446.8 470.6,446.8 470.6,448.8 468.9,448.8 468.9,450.5 466.9,450.5 466.9,448.8 465.2,448.8 465.2,446.8 466.9,446.8" fill="white" stroke="#555" stroke-width="0.65" stroke-linejoin="round"/>
<polygon points="466.9,460.1 468.9,460.1 468.9,461.8 470.6,461.8 470.6,463.8 468.9,463.8 468.9,465.5 466.9,465.5 466.9,463.8 465.2,463.8 465.2,461.8 466.9,461.8" fill="white" stroke="#555" stroke-width="0.65" stroke-linejoin="round"/>
<polygon points="465.1,454.3 467.1,454.3 467.1,456 468.8,456 468.8,458 467.1,458 467.1,459.7 465.1,459.7 465.1,458 463.4,458 463.4,456 465.1,456" fill="white" stroke="#555" stroke-width="0.65" stroke-linejoin="round"/>
<polygon points="474.7,448 476,449.3 474.7,450.6 476,451.9 474.7,453.2 473.4,451.9 472.1,453.2 470.8,451.9 472.1,450.6 470.8,449.3 472.1,448 473.4,449.3" fill="white" stroke="#555" stroke-width="0.65" stroke-linejoin="round"/>
<polygon points="473.8,440.7 475.1,442 473.8,443.3 475.1,444.6 473.8,445.9 472.5,444.6 471.2,445.9 469.9,444.6 471.2,443.3 469.9,442 471.2,440.7 472.5,442" fill="white" stroke="#555" stroke-width="0.65" stroke-linejoin="round"/>
<polygon points="479.2,439.8 480.5,441.1 479.2,442.4 480.5,443.7 479.2,445 477.9,443.7 476.6,445 475.3,443.7 476.6,442.4 475.3,441.1 476.6,439.8 477.9,441.1" fill="white" stroke="#555" stroke-width="0.65" stroke-linejoin="round"/>
<polygon points="483.5,435.7 484.8,437 483.5,438.3 484.8,439.6 483.5,440.9 482.2,439.6 480.9,440.9 479.6,439.6 480.9,438.3 479.6,437 480.9,435.7 482.2,437" fill="white" stroke="#555" stroke-width="0.65" stroke-linejoin="round"/>
<polygon points="484.8,443.8 486.1,445.1 484.8,446.4 486.1,447.7 484.8,449 483.5,447.7 482.2,449 480.9,447.7 482.2,446.4 480.9,445.1 482.2,443.8 483.5,445.1" fill="white" stroke="#555" stroke-width="0.65" stroke-linejoin="round"/>
<polygon points="492.1,438.8 493.4,440.1 492.1,441.4 493.4,442.7 492.1,444 490.8,442.7 489.5,444 488.2,442.7 489.5,441.4 488.2,440.1 489.5,438.8 490.8,440.1" fill="white" stroke="#555" stroke-width="0.65" stroke-linejoin="round"/>
<polygon points="457,455.3 459,455.3 459,457 460.7,457 460.7,459 459,459 459,460.7 457,460.7 457,459 455.3,459 455.3,457 457,457" fill="white" stroke="#555" stroke-width="0.65" stroke-linejoin="round"/>
<polygon points="466,456.3 468,456.3 468,458 469.7,458 469.7,460 468,460 468,461.7 466,461.7 466,460 464.3,460 464.3,458 466,458" fill="white" stroke="#555" stroke-width="0.65" stroke-linejoin="round"/>
<g><ellipse cx="470" cy="453.4" rx="1.4" ry="1.5" fill="white" stroke="#555" stroke-width="0.65"/><ellipse cx="468.2" cy="456" rx="1.2" ry="1.2" fill="white" stroke="#555" stroke-width="0.65"/><ellipse cx="471.8" cy="456" rx="1.2" ry="1.2" fill="white" stroke="#555" stroke-width="0.65"/><ellipse cx="470" cy="453.4" rx="1" ry="1.2" fill="white"/><ellipse cx="468.2" cy="456" rx="0.9" ry="0.9" fill="white"/><ellipse cx="471.8" cy="456" rx="0.9" ry="0.9" fill="white"/><rect x="469.4" y="454.7" width="1.3" height="1.6" fill="white"/><path d="M470,455.6 L469.4,458 L470.6,458 Z" fill="#555" stroke="#555" stroke-width="0.4" stroke-linejoin="round"/></g>
<g><ellipse cx="468" cy="460.4" rx="1.4" ry="1.5" fill="white" stroke="#555" stroke-width="0.65"/><ellipse cx="466.2" cy="463" rx="1.2" ry="1.2" fill="white" stroke="#555" stroke-width="0.65"/><ellipse cx="469.8" cy="463" rx="1.2" ry="1.2" fill="white" stroke="#555" stroke-width="0.65"/><ellipse cx="468" cy="460.4" rx="1" ry="1.2" fill="white"/><ellipse cx="466.2" cy="463" rx="0.9" ry="0.9" fill="white"/><ellipse cx="469.8" cy="463" rx="0.9" ry="0.9" fill="white"/><rect x="467.4" y="461.7" width="1.3" height="1.6" fill="white"/><path d="M468,462.6 L467.4,465 L468.6,465 Z" fill="#555" stroke="#555" stroke-width="0.4" stroke-linejoin="round"/></g>
<polygon points="454,466.3 456,466.3 456,468 457.7,468 457.7,470 456,470 456,471.7 454,471.7 454,470 452.3,470 452.3,468 454,468" fill="white" stroke="#555" stroke-width="0.65" stroke-linejoin="round"/>
<polygon points="452,469.3 454,469.3 454,471 455.7,471 455.7,473 454,473 454,474.7 452,474.7 452,473 450.3,473 450.3,471 452,471" fill="white" stroke="#555" stroke-width="0.65" stroke-linejoin="round"/>
<path d="M562.5,424 V534.5 H656" fill="none" stroke="#555" stroke-width="1"/>
<line x1="560.5" y1="517.5" x2="562.5" y2="517.5" stroke="#333" stroke-width="0.7"/>
<text x="558.6" y="520.3" font-size="8" text-anchor="end" fill="#222">0.00</text>
<line x1="560.5" y1="497.9" x2="562.5" y2="497.9" stroke="#333" stroke-width="0.7"/>
<text x="558.6" y="500.8" font-size="8" text-anchor="end" fill="#222">0.05</text>
<line x1="560.5" y1="478.4" x2="562.5" y2="478.4" stroke="#333" stroke-width="0.7"/>
<text x="558.6" y="481.2" font-size="8" text-anchor="end" fill="#222">0.10</text>
<line x1="560.5" y1="458.9" x2="562.5" y2="458.9" stroke="#333" stroke-width="0.7"/>
<text x="558.6" y="461.7" font-size="8" text-anchor="end" fill="#222">0.15</text>
<line x1="560.5" y1="439.3" x2="562.5" y2="439.3" stroke="#333" stroke-width="0.7"/>
<text x="558.6" y="442.1" font-size="8" text-anchor="end" fill="#222">0.20</text>
<line x1="562.5" y1="534.5" x2="562.5" y2="536.5" stroke="#333" stroke-width="0.7"/>
<text x="561.5" y="544" font-size="8" text-anchor="middle" fill="#222">10</text>
<text x="565.7" y="540" font-size="5" text-anchor="start" fill="#222">&#8722;3</text>
<line x1="609" y1="534.5" x2="609" y2="536.5" stroke="#333" stroke-width="0.7"/>
<text x="608" y="544" font-size="8" text-anchor="middle" fill="#222">10</text>
<text x="612.2" y="540" font-size="5" text-anchor="start" fill="#222">&#8722;2</text>
<line x1="655.5" y1="534.5" x2="655.5" y2="536.5" stroke="#333" stroke-width="0.7"/>
<text x="654.5" y="544" font-size="8" text-anchor="middle" fill="#222">10</text>
<text x="658.7" y="540" font-size="5" text-anchor="start" fill="#222">&#8722;1</text>
<text x="604" y="556.5" font-size="11.5" text-anchor="middle" fill="#222">Density</text>
<text x="533.5" y="474.7" font-size="10.3" text-anchor="middle" fill="#222" transform="rotate(-90 533.5 474.7)">Clustering coefficient</text>
<text x="570" y="433.3" font-size="9.1" text-anchor="start" fill="#222">r=0.86, p=5.5e-13</text>
<line x1="574" y1="529.5" x2="644.2" y2="429.2" stroke="#aaa" stroke-width="0.7" stroke-dasharray="3.5,2.5"/>
<polygon points="574.4,512.6 575.1,514.6 577.2,514.6 575.5,515.9 576.1,518 574.4,516.8 572.6,518 573.2,515.9 571.5,514.6 573.7,514.6" fill="white" stroke="#555" stroke-width="0.65" stroke-linejoin="round"/>
<polygon points="582.2,511.7 582.9,513.7 585.1,513.7 583.4,515 584,517.1 582.2,515.9 580.5,517.1 581,515 579.4,513.7 581.5,513.7" fill="white" stroke="#555" stroke-width="0.65" stroke-linejoin="round"/>
<polygon points="585.3,514.4 586,516.4 588.2,516.5 586.5,517.8 587.1,519.8 585.3,518.6 583.6,519.8 584.2,517.8 582.5,516.5 584.6,516.4" fill="white" stroke="#555" stroke-width="0.65" stroke-linejoin="round"/>
<polygon points="587.7,511.7 588.4,513.7 590.5,513.7 588.8,515 589.4,517.1 587.7,515.9 585.9,517.1 586.5,515 584.8,513.7 587,513.7" fill="white" stroke="#555" stroke-width="0.65" stroke-linejoin="round"/>
<polygon points="595.9,507.5 596.6,509.5 598.7,509.5 597.1,510.8 597.6,512.9 595.9,511.7 594.1,512.9 594.7,510.8 593,509.5 595.2,509.5" fill="white" stroke="#555" stroke-width="0.65" stroke-linejoin="round"/>
<polygon points="601.4,508.9 602.1,510.9 604.2,511 602.5,512.3 603.1,514.3 601.4,513.1 599.6,514.3 600.2,512.3 598.5,511 600.6,510.9" fill="white" stroke="#555" stroke-width="0.65" stroke-linejoin="round"/>
<polygon points="614.1,498.4 614.8,500.4 617,500.4 615.3,501.7 615.9,503.8 614.1,502.6 612.4,503.8 613,501.7 611.3,500.4 613.4,500.4" fill="white" stroke="#555" stroke-width="0.65" stroke-linejoin="round"/>
<rect x="597.3" y="495.8" width="4.4" height="4.4" fill="white" stroke="#555" stroke-width="0.65"/>
<rect x="592.8" y="500" width="4.4" height="4.4" fill="white" stroke="#555" stroke-width="0.65"/>
<rect x="596.4" y="501.2" width="4.4" height="4.4" fill="white" stroke="#555" stroke-width="0.65"/>
<rect x="601.3" y="504" width="4.4" height="4.4" fill="white" stroke="#555" stroke-width="0.65"/>
<rect x="595.5" y="507.6" width="4.4" height="4.4" fill="white" stroke="#555" stroke-width="0.65"/>
<rect x="596.4" y="511.3" width="4.4" height="4.4" fill="white" stroke="#555" stroke-width="0.65"/>
<rect x="601" y="473" width="4.4" height="4.4" fill="white" stroke="#555" stroke-width="0.65"/>
<rect x="601" y="477" width="4.4" height="4.4" fill="white" stroke="#555" stroke-width="0.65"/>
<polygon points="605.9,475.2 607.8,475.2 607.8,477 609.6,477 609.6,478.9 607.8,478.9 607.8,480.7 605.9,480.7 605.9,478.9 604.1,478.9 604.1,477 605.9,477" fill="white" stroke="#555" stroke-width="0.65" stroke-linejoin="round"/>
<g><ellipse cx="609" cy="478.2" rx="1.4" ry="1.5" fill="white" stroke="#555" stroke-width="0.65"/><ellipse cx="607.3" cy="480.7" rx="1.2" ry="1.2" fill="white" stroke="#555" stroke-width="0.65"/><ellipse cx="610.8" cy="480.7" rx="1.2" ry="1.2" fill="white" stroke="#555" stroke-width="0.65"/><ellipse cx="609" cy="478.2" rx="1" ry="1.2" fill="white"/><ellipse cx="607.3" cy="480.7" rx="0.9" ry="0.9" fill="white"/><ellipse cx="610.8" cy="480.7" rx="0.9" ry="0.9" fill="white"/><rect x="608.4" y="479.5" width="1.3" height="1.6" fill="white"/><path d="M609,480.4 L608.5,482.7 L609.6,482.7 Z" fill="#555" stroke="#555" stroke-width="0.4" stroke-linejoin="round"/></g>
<polygon points="610.4,478.3 612.4,478.3 612.4,480.1 614.1,480.1 614.1,482 612.4,482 612.4,483.8 610.4,483.8 610.4,482 608.7,482 608.7,480.1 610.4,480.1" fill="white" stroke="#555" stroke-width="0.65" stroke-linejoin="round"/>
<polygon points="613.2,477.9 615.1,477.9 615.1,479.7 616.9,479.7 616.9,481.6 615.1,481.6 615.1,483.4 613.2,483.4 613.2,481.6 611.4,481.6 611.4,479.7 613.2,479.7" fill="white" stroke="#555" stroke-width="0.65" stroke-linejoin="round"/>
<polygon points="605.7,470.8 610.3,473.4 605.7,476" fill="white" stroke="#555" stroke-width="0.65" stroke-linejoin="round"/>
<polygon points="608.6,468.8 610.5,468.8 610.5,470.6 612.3,470.6 612.3,472.5 610.5,472.5 610.5,474.3 608.6,474.3 608.6,472.5 606.8,472.5 606.8,470.6 608.6,470.6" fill="white" stroke="#555" stroke-width="0.65" stroke-linejoin="round"/>
<g><ellipse cx="611.4" cy="467.2" rx="1.4" ry="1.5" fill="white" stroke="#555" stroke-width="0.65"/><ellipse cx="609.6" cy="469.8" rx="1.2" ry="1.2" fill="white" stroke="#555" stroke-width="0.65"/><ellipse cx="613.2" cy="469.8" rx="1.2" ry="1.2" fill="white" stroke="#555" stroke-width="0.65"/><ellipse cx="611.4" cy="467.2" rx="1" ry="1.2" fill="white"/><ellipse cx="609.6" cy="469.8" rx="0.9" ry="0.9" fill="white"/><ellipse cx="613.2" cy="469.8" rx="0.9" ry="0.9" fill="white"/><rect x="610.7" y="468.5" width="1.3" height="1.6" fill="white"/><path d="M611.4,469.5 L610.8,471.8 L612,471.8 Z" fill="#555" stroke="#555" stroke-width="0.4" stroke-linejoin="round"/></g>
<polygon points="612.3,465.2 614.2,465.2 614.2,466.9 615.9,466.9 615.9,468.9 614.2,468.9 614.2,470.6 612.3,470.6 612.3,468.9 610.5,468.9 610.5,466.9 612.3,466.9" fill="white" stroke="#555" stroke-width="0.65" stroke-linejoin="round"/>
<polygon points="614.1,460.1 616,460.1 616,461.8 617.8,461.8 617.8,463.7 616,463.7 616,465.5 614.1,465.5 614.1,463.7 612.3,463.7 612.3,461.8 614.1,461.8" fill="white" stroke="#555" stroke-width="0.65" stroke-linejoin="round"/>
<polygon points="616.6,458 621.3,460.6 616.6,463.2" fill="white" stroke="#555" stroke-width="0.65" stroke-linejoin="round"/>
<rect x="619.2" y="461.1" width="4.4" height="4.4" fill="white" stroke="#555" stroke-width="0.65"/>
<rect x="619.2" y="456.9" width="4.4" height="4.4" fill="white" stroke="#555" stroke-width="0.65"/>
<g><ellipse cx="621.4" cy="451.7" rx="1.4" ry="1.5" fill="white" stroke="#555" stroke-width="0.65"/><ellipse cx="619.7" cy="454.3" rx="1.2" ry="1.2" fill="white" stroke="#555" stroke-width="0.65"/><ellipse cx="623.2" cy="454.3" rx="1.2" ry="1.2" fill="white" stroke="#555" stroke-width="0.65"/><ellipse cx="621.4" cy="451.7" rx="1" ry="1.2" fill="white"/><ellipse cx="619.7" cy="454.3" rx="0.9" ry="0.9" fill="white"/><ellipse cx="623.2" cy="454.3" rx="0.9" ry="0.9" fill="white"/><rect x="620.8" y="453" width="1.3" height="1.6" fill="white"/><path d="M621.4,454 L620.9,456.3 L622,456.3 Z" fill="#555" stroke="#555" stroke-width="0.4" stroke-linejoin="round"/></g>
<g><ellipse cx="612.3" cy="444.1" rx="1.4" ry="1.5" fill="white" stroke="#555" stroke-width="0.65"/><ellipse cx="610.5" cy="446.6" rx="1.2" ry="1.2" fill="white" stroke="#555" stroke-width="0.65"/><ellipse cx="614.1" cy="446.6" rx="1.2" ry="1.2" fill="white" stroke="#555" stroke-width="0.65"/><ellipse cx="612.3" cy="444.1" rx="1" ry="1.2" fill="white"/><ellipse cx="610.5" cy="446.6" rx="0.9" ry="0.9" fill="white"/><ellipse cx="614.1" cy="446.6" rx="0.9" ry="0.9" fill="white"/><rect x="611.7" y="445.4" width="1.3" height="1.6" fill="white"/><path d="M612.3,446.3 L611.7,448.6 L612.9,448.6 Z" fill="#555" stroke="#555" stroke-width="0.4" stroke-linejoin="round"/></g>
<g><ellipse cx="609.6" cy="451.7" rx="1.4" ry="1.5" fill="white" stroke="#555" stroke-width="0.65"/><ellipse cx="607.8" cy="454.3" rx="1.2" ry="1.2" fill="white" stroke="#555" stroke-width="0.65"/><ellipse cx="611.3" cy="454.3" rx="1.2" ry="1.2" fill="white" stroke="#555" stroke-width="0.65"/><ellipse cx="609.6" cy="451.7" rx="1" ry="1.2" fill="white"/><ellipse cx="607.8" cy="454.3" rx="0.9" ry="0.9" fill="white"/><ellipse cx="611.3" cy="454.3" rx="0.9" ry="0.9" fill="white"/><rect x="608.9" y="453" width="1.3" height="1.6" fill="white"/><path d="M609.6,454 L609,456.3 L610.1,456.3 Z" fill="#555" stroke="#555" stroke-width="0.4" stroke-linejoin="round"/></g>
<polygon points="612.3,450.6 614.2,450.6 614.2,452.3 615.9,452.3 615.9,454.3 614.2,454.3 614.2,456 612.3,456 612.3,454.3 610.5,454.3 610.5,452.3 612.3,452.3" fill="white" stroke="#555" stroke-width="0.65" stroke-linejoin="round"/>
<g><ellipse cx="621.4" cy="442.6" rx="1.4" ry="1.5" fill="white" stroke="#555" stroke-width="0.65"/><ellipse cx="619.7" cy="445.1" rx="1.2" ry="1.2" fill="white" stroke="#555" stroke-width="0.65"/><ellipse cx="623.2" cy="445.1" rx="1.2" ry="1.2" fill="white" stroke="#555" stroke-width="0.65"/><ellipse cx="621.4" cy="442.6" rx="1" ry="1.2" fill="white"/><ellipse cx="619.7" cy="445.1" rx="0.9" ry="0.9" fill="white"/><ellipse cx="623.2" cy="445.1" rx="0.9" ry="0.9" fill="white"/><rect x="620.8" y="443.9" width="1.3" height="1.6" fill="white"/><path d="M621.4,444.8 L620.9,447.2 L622,447.2 Z" fill="#555" stroke="#555" stroke-width="0.4" stroke-linejoin="round"/></g>
<g><ellipse cx="622.3" cy="445.4" rx="1.4" ry="1.5" fill="white" stroke="#555" stroke-width="0.65"/><ellipse cx="620.6" cy="447.9" rx="1.2" ry="1.2" fill="white" stroke="#555" stroke-width="0.65"/><ellipse cx="624.1" cy="447.9" rx="1.2" ry="1.2" fill="white" stroke="#555" stroke-width="0.65"/><ellipse cx="622.3" cy="445.4" rx="1" ry="1.2" fill="white"/><ellipse cx="620.6" cy="447.9" rx="0.9" ry="0.9" fill="white"/><ellipse cx="624.1" cy="447.9" rx="0.9" ry="0.9" fill="white"/><rect x="621.7" y="446.7" width="1.3" height="1.6" fill="white"/><path d="M622.3,447.6 L621.8,449.9 L622.9,449.9 Z" fill="#555" stroke="#555" stroke-width="0.4" stroke-linejoin="round"/></g>
<polygon points="623.2,445.1 625.1,445.1 625.1,446.9 626.9,446.9 626.9,448.8 625.1,448.8 625.1,450.6 623.2,450.6 623.2,448.8 621.4,448.8 621.4,446.9 623.2,446.9" fill="white" stroke="#555" stroke-width="0.65" stroke-linejoin="round"/>
<polygon points="630.5,445.1 632.4,445.1 632.4,446.9 634.2,446.9 634.2,448.8 632.4,448.8 632.4,450.6 630.5,450.6 630.5,448.8 628.7,448.8 628.7,446.9 630.5,446.9" fill="white" stroke="#555" stroke-width="0.65" stroke-linejoin="round"/>
<polygon points="637.3,445.2 638.6,446.5 637.3,447.8 638.6,449.1 637.3,450.4 636,449.1 634.7,450.4 633.4,449.1 634.7,447.8 633.4,446.5 634.7,445.2 636,446.5" fill="white" stroke="#555" stroke-width="0.65" stroke-linejoin="round"/>
<polygon points="636.9,438.8 638.3,440.1 637,441.4 638.3,442.7 636.9,444.1 635.7,442.8 634.4,444.1 633,442.7 634.3,441.4 633,440.1 634.4,438.8 635.7,440.1" fill="white" stroke="#555" stroke-width="0.65" stroke-linejoin="round"/>
<polygon points="644.6,434.6 645.9,436 644.6,437.3 645.9,438.5 644.6,439.9 643.3,438.6 642,439.9 640.7,438.5 642,437.3 640.7,436 642,434.6 643.3,435.9" fill="white" stroke="#555" stroke-width="0.65" stroke-linejoin="round"/>
<polygon points="628.2,466.2 629.5,467.5 628.2,468.8 629.5,470.1 628.2,471.4 626.9,470.1 625.6,471.4 624.3,470.1 625.6,468.8 624.3,467.5 625.6,466.2 626.9,467.5" fill="white" stroke="#555" stroke-width="0.65" stroke-linejoin="round"/>
<polygon points="628.2,471.7 629.5,473 628.2,474.3 629.5,475.6 628.2,476.9 626.9,475.6 625.6,476.9 624.3,475.6 625.6,474.3 624.3,473 625.6,471.7 626.9,473" fill="white" stroke="#555" stroke-width="0.65" stroke-linejoin="round"/>
<polygon points="605,472.5 606.9,472.5 606.9,474.2 608.7,474.2 608.7,476.1 606.9,476.1 606.9,477.9 605,477.9 605,476.1 603.2,476.1 603.2,474.2 605,474.2" fill="white" stroke="#555" stroke-width="0.65" stroke-linejoin="round"/>
<g><ellipse cx="610.8" cy="474.5" rx="1.4" ry="1.5" fill="white" stroke="#555" stroke-width="0.65"/><ellipse cx="609.1" cy="477.1" rx="1.2" ry="1.2" fill="white" stroke="#555" stroke-width="0.65"/><ellipse cx="612.6" cy="477.1" rx="1.2" ry="1.2" fill="white" stroke="#555" stroke-width="0.65"/><ellipse cx="610.8" cy="474.5" rx="1" ry="1.2" fill="white"/><ellipse cx="609.1" cy="477.1" rx="0.9" ry="0.9" fill="white"/><ellipse cx="612.6" cy="477.1" rx="0.9" ry="0.9" fill="white"/><rect x="610.2" y="475.8" width="1.3" height="1.6" fill="white"/><path d="M610.8,476.7 L610.3,479.1 L611.4,479.1 Z" fill="#555" stroke="#555" stroke-width="0.4" stroke-linejoin="round"/></g>
<polygon points="607.3,467 609.3,467 609.3,468.8 611,468.8 611,470.7 609.3,470.7 609.3,472.4 607.3,472.4 607.3,470.7 605.6,470.7 605.6,468.8 607.3,468.8" fill="white" stroke="#555" stroke-width="0.65" stroke-linejoin="round"/>
<line x1="227" y1="581.7" x2="243" y2="581.7" stroke="#aaa" stroke-width="0.9"/>
<text x="246" y="584.8" font-size="10.2" text-anchor="start" fill="#222">disconnected</text>
<line x1="317" y1="581.7" x2="332.7" y2="581.7" stroke="#5566cc" stroke-width="0.9"/>
<text x="335.6" y="584.8" font-size="10.2" text-anchor="start" fill="#222">negative</text>
<line x1="387" y1="581.7" x2="403.8" y2="581.7" stroke="#f05030" stroke-width="0.9"/>
<text x="406.4" y="584.8" font-size="10.2" text-anchor="start" fill="#222">positive</text>
<text x="296.5" y="681.2" font-size="10.2" text-anchor="start" fill="#222">Signal correlation</text>
<text x="79.5" y="632" font-size="9.8" text-anchor="middle" fill="#222" transform="rotate(-90 79.5 632)">KDE</text>
<path d="M93.9,604.5 V658.3 H203.2" fill="none" stroke="#333" stroke-width="0.9"/>
<line x1="91.9" y1="658.3" x2="93.9" y2="658.3" stroke="#333" stroke-width="0.7"/>
<text x="90.4" y="661.3" font-size="9.5" text-anchor="end" fill="#222">0</text>
<line x1="91.9" y1="614.4" x2="93.9" y2="614.4" stroke="#333" stroke-width="0.7"/>
<text x="90.4" y="617.7" font-size="9.5" text-anchor="end" fill="#222">1</text>
<line x1="105.4" y1="658.3" x2="105.4" y2="660.3" stroke="#333" stroke-width="0.7"/>
<text x="103.9" y="669" font-size="9.5" text-anchor="middle" fill="#222">&#8722;1</text>
<line x1="146" y1="658.3" x2="146" y2="660.3" stroke="#333" stroke-width="0.7"/>
<text x="146" y="669" font-size="9.5" text-anchor="middle" fill="#222">0</text>
<line x1="186.6" y1="658.3" x2="186.6" y2="660.3" stroke="#333" stroke-width="0.7"/>
<text x="186.6" y="669" font-size="9.5" text-anchor="middle" fill="#222">1</text>
<polygon points="148.5,592.4 151,594.9 148.5,597.4 151,599.9 148.5,602.4 146,599.9 143.5,602.4 141,599.9 143.5,597.4 141,594.9 143.5,592.4 146,594.9" fill="white" stroke="#333" stroke-width="0.8" stroke-linejoin="round"/>
<polyline points="104.2,658.0 105.0,657.9 105.8,657.9 106.6,657.8 107.4,657.7 108.2,657.6 109.1,657.4 109.9,657.3 110.7,657.1 111.5,656.9 112.3,656.6 113.1,656.3 113.9,656.0 114.7,655.6 115.6,655.2 116.4,654.7 117.2,654.2 118.0,653.6 118.8,653.0 119.6,652.3 120.4,651.5 121.2,650.6 122.0,649.7 122.9,648.6 123.7,647.5 124.5,646.3 125.3,645.1 126.1,643.7 126.9,642.3 127.7,640.8 128.5,639.2 129.4,637.5 130.2,635.8 131.0,634.1 131.8,632.3 132.6,630.5 133.4,628.6 134.2,626.8 135.0,624.9 135.9,623.1 136.7,621.3 137.5,619.5 138.3,617.9 139.1,616.3 139.9,614.8 140.7,613.4 141.5,612.2 142.3,611.0 143.2,610.1 144.0,609.3 144.8,608.6 145.6,608.2 146.4,607.9 147.2,607.8 148.0,607.9 148.8,608.2 149.7,608.6 150.5,609.3 151.3,610.1 152.1,611.0 152.9,612.2 153.7,613.4 154.5,614.8 155.3,616.3 156.2,617.9 157.0,619.5 157.8,621.3 158.6,623.1 159.4,624.9 160.2,626.8 161.0,628.6 161.8,630.5 162.6,632.3 163.5,634.1 164.3,635.8 165.1,637.5 165.9,639.2 166.7,640.8 167.5,642.3 168.3,643.7 169.1,645.1 170.0,646.3 170.8,647.5 171.6,648.6 172.4,649.7 173.2,650.6 174.0,651.5 174.8,652.3 175.6,653.0 176.5,653.6 177.3,654.2 178.1,654.7 178.9,655.2 179.7,655.6 180.5,656.0 181.3,656.3 182.1,656.6 182.9,656.9 183.8,657.1 184.6,657.3 185.4,657.4 186.2,657.6 187.0,657.7 187.8,657.8 188.6,657.9 189.4,657.9 190.3,658.0" fill="none" stroke="#b5b5b5" stroke-width="0.85"/>
<polyline points="103.4,657.8 104.2,657.7 105.0,657.6 105.8,657.4 106.6,657.3 107.4,657.2 108.2,657.0 109.1,656.8 109.9,656.5 110.7,656.3 111.5,656.0 112.3,655.7 113.1,655.3 113.9,654.9 114.7,654.5 115.6,654.0 116.4,653.5 117.2,653.0 118.0,652.4 118.8,651.7 119.6,651.0 120.4,650.2 121.2,649.4 122.0,648.6 122.9,647.6 123.7,646.7 124.5,645.7 125.3,644.6 126.1,643.5 126.9,642.4 127.7,641.2 128.5,640.0 129.4,638.8 130.2,637.5 131.0,636.2 131.8,634.9 132.6,633.6 133.4,632.3 134.2,631.0 135.0,629.7 135.9,628.4 136.7,627.1 137.5,625.8 138.3,624.5 139.1,623.2 139.9,621.9 140.7,620.6 141.5,619.4 142.3,618.2 143.2,617.0 144.0,616.0 144.8,615.0 145.6,614.2 146.4,613.5 147.2,613.1 148.0,612.8 148.8,612.8 149.7,613.0 150.5,613.5 151.3,614.2 152.1,615.1 152.9,616.2 153.7,617.5 154.5,618.9 155.3,620.4 156.2,621.9 157.0,623.5 157.8,625.1 158.6,626.7 159.4,628.2 160.2,629.7 161.0,631.0 161.8,632.4 162.6,633.6 163.5,634.8 164.3,636.0 165.1,637.1 165.9,638.2 166.7,639.2 167.5,640.3 168.3,641.3 169.1,642.3 170.0,643.4 170.8,644.4 171.6,645.4 172.4,646.3 173.2,647.3 174.0,648.2 174.8,649.1 175.6,650.0 176.5,650.8 177.3,651.6 178.1,652.4 178.9,653.1 179.7,653.7 180.5,654.3 181.3,654.8 182.1,655.3 182.9,655.7 183.8,656.1 184.6,656.4 185.4,656.7 186.2,657.0 187.0,657.2 187.8,657.4 188.6,657.5 189.4,657.7 190.3,657.8 191.1,657.9 191.9,658.0 192.7,658.0" fill="none" stroke="#5a6ad0" stroke-width="0.85"/>
<polyline points="109.1,658.0 109.9,657.9 110.7,657.9 111.5,657.8 112.3,657.6 113.1,657.5 113.9,657.3 114.7,657.1 115.6,656.9 116.4,656.6 117.2,656.3 118.0,656.0 118.8,655.6 119.6,655.1 120.4,654.6 121.2,654.0 122.0,653.4 122.9,652.7 123.7,651.9 124.5,651.0 125.3,650.1 126.1,649.1 126.9,648.0 127.7,646.9 128.5,645.7 129.4,644.5 130.2,643.2 131.0,641.8 131.8,640.5 132.6,639.1 133.4,637.7 134.2,636.4 135.0,635.0 135.9,633.7 136.7,632.4 137.5,631.2 138.3,630.1 139.1,629.0 139.9,628.0 140.7,627.1 141.5,626.2 142.3,625.4 143.2,624.7 144.0,624.1 144.8,623.4 145.6,622.8 146.4,622.3 147.2,621.7 148.0,621.2 148.8,620.6 149.7,620.1 150.5,619.6 151.3,619.1 152.1,618.7 152.9,618.3 153.7,618.1 154.5,618.0 155.3,618.1 156.2,618.3 157.0,618.7 157.8,619.2 158.6,620.0 159.4,620.9 160.2,622.0 161.0,623.2 161.8,624.5 162.6,625.8 163.5,627.2 164.3,628.5 165.1,629.9 165.9,631.2 166.7,632.5 167.5,633.8 168.3,635.1 169.1,636.4 170.0,637.7 170.8,639.0 171.6,640.4 172.4,641.7 173.2,643.1 174.0,644.5 174.8,645.9 175.6,647.3 176.5,648.6 177.3,649.9 178.1,651.1 178.9,652.2 179.7,653.2 180.5,654.1 181.3,654.9 182.1,655.6 182.9,656.2 183.8,656.6 184.6,657.0 185.4,657.3 186.2,657.6 187.0,657.8 187.8,657.9 188.6,658.0" fill="none" stroke="#f0553a" stroke-width="0.85"/>
<path d="M218.1,604.5 V658.3 H327.4" fill="none" stroke="#333" stroke-width="0.9"/>
<line x1="216.1" y1="658.3" x2="218.1" y2="658.3" stroke="#333" stroke-width="0.7"/>
<text x="214.6" y="661.3" font-size="9.5" text-anchor="end" fill="#222">0</text>
<line x1="216.1" y1="627.3" x2="218.1" y2="627.3" stroke="#333" stroke-width="0.7"/>
<text x="214.6" y="630.6" font-size="9.5" text-anchor="end" fill="#222">1</text>
<line x1="228.5" y1="658.3" x2="228.5" y2="660.3" stroke="#333" stroke-width="0.7"/>
<text x="227" y="669" font-size="9.5" text-anchor="middle" fill="#222">&#8722;1</text>
<line x1="269.5" y1="658.3" x2="269.5" y2="660.3" stroke="#333" stroke-width="0.7"/>
<text x="269.5" y="669" font-size="9.5" text-anchor="middle" fill="#222">0</text>
<line x1="310.5" y1="658.3" x2="310.5" y2="660.3" stroke="#333" stroke-width="0.7"/>
<text x="310.5" y="669" font-size="9.5" text-anchor="middle" fill="#222">1</text>
<polygon points="267.9,593 271.1,593 271.1,595.8 273.9,595.8 273.9,599 271.1,599 271.1,601.8 267.9,601.8 267.9,599 265.1,599 265.1,595.8 267.9,595.8" fill="white" stroke="#333" stroke-width="0.8" stroke-linejoin="round"/>
<polyline points="238.8,658.0 239.6,657.9 240.4,657.8 241.2,657.7 242.0,657.5 242.9,657.3 243.7,657.1 244.5,656.8 245.3,656.4 246.1,656.0 247.0,655.5 247.8,654.9 248.6,654.3 249.4,653.5 250.2,652.6 251.1,651.6 251.9,650.4 252.7,649.2 253.5,647.8 254.3,646.2 255.2,644.5 256.0,642.7 256.8,640.7 257.6,638.6 258.4,636.4 259.2,634.2 260.1,631.8 260.9,629.4 261.7,627.0 262.5,624.6 263.4,622.3 264.2,620.0 265.0,617.9 265.8,615.9 266.6,614.1 267.5,612.5 268.3,611.2 269.1,610.1 269.9,609.3 270.7,608.9 271.6,608.7 272.4,608.9 273.2,609.3 274.0,610.1 274.8,611.2 275.7,612.5 276.5,614.1 277.3,615.9 278.1,617.9 278.9,620.0 279.8,622.3 280.6,624.6 281.4,627.0 282.2,629.4 283.0,631.8 283.9,634.2 284.7,636.4 285.5,638.6 286.3,640.7 287.1,642.7 288.0,644.5 288.8,646.2 289.6,647.8 290.4,649.2 291.2,650.4 292.1,651.6 292.9,652.6 293.7,653.5 294.5,654.3 295.3,654.9 296.2,655.5 297.0,656.0 297.8,656.4 298.6,656.8 299.4,657.1 300.3,657.3 301.1,657.5 301.9,657.7 302.7,657.8 303.5,657.9 304.4,658.0" fill="none" stroke="#b5b5b5" stroke-width="0.85"/>
<polyline points="230.6,658.0 231.4,658.0 232.2,657.9 233.0,657.8 233.8,657.7 234.7,657.5 235.5,657.4 236.3,657.2 237.1,657.1 237.9,656.8 238.8,656.6 239.6,656.4 240.4,656.1 241.2,655.8 242.0,655.5 242.9,655.2 243.7,654.8 244.5,654.5 245.3,654.1 246.1,653.7 247.0,653.3 247.8,652.9 248.6,652.5 249.4,652.0 250.2,651.5 251.1,651.0 251.9,650.5 252.7,649.9 253.5,649.3 254.3,648.6 255.2,647.9 256.0,647.2 256.8,646.4 257.6,645.5 258.4,644.7 259.2,643.7 260.1,642.7 260.9,641.7 261.7,640.6 262.5,639.5 263.4,638.3 264.2,637.2 265.0,636.0 265.8,634.8 266.6,633.7 267.5,632.5 268.3,631.4 269.1,630.3 269.9,629.3 270.7,628.4 271.6,627.5 272.4,626.7 273.2,626.0 274.0,625.4 274.8,624.9 275.7,624.6 276.5,624.3 277.3,624.2 278.1,624.2 278.9,624.3 279.8,624.6 280.6,625.0 281.4,625.4 282.2,626.0 283.0,626.7 283.9,627.5 284.7,628.4 285.5,629.4 286.3,630.4 287.1,631.4 288.0,632.5 288.8,633.7 289.6,634.8 290.4,635.9 291.2,636.9 292.1,637.9 292.9,638.9 293.7,639.8 294.5,640.7 295.3,641.5 296.2,642.2 297.0,643.0 297.8,643.7 298.6,644.5 299.4,645.2 300.3,646.1 301.1,647.0 301.9,647.9 302.7,648.8 303.5,649.8 304.4,650.8 305.2,651.7 306.0,652.6 306.8,653.4 307.6,654.1 308.5,654.8 309.3,655.4 310.1,655.9 310.9,656.3 311.7,656.6 312.6,656.9 313.4,657.1 314.2,657.3 315.0,657.5 315.8,657.6 316.7,657.7 317.5,657.8 318.3,657.9 319.1,658.0 319.9,658.0" fill="none" stroke="#5a6ad0" stroke-width="0.85"/>
<polyline points="247.0,658.0 247.8,657.9 248.6,657.8 249.4,657.6 250.2,657.4 251.1,657.2 251.9,657.0 252.7,656.7 253.5,656.3 254.3,656.0 255.2,655.5 256.0,655.0 256.8,654.5 257.6,653.9 258.4,653.3 259.2,652.7 260.1,652.0 260.9,651.4 261.7,650.7 262.5,650.0 263.4,649.4 264.2,648.7 265.0,648.1 265.8,647.3 266.6,646.5 267.5,645.5 268.3,644.2 269.1,642.6 269.9,640.6 270.7,638.2 271.6,635.3 272.4,632.2 273.2,629.0 274.0,625.9 274.8,623.3 275.7,621.2 276.5,620.0 277.3,619.6 278.1,620.0 278.9,621.1 279.8,622.4 280.6,623.8 281.4,625.1 282.2,625.9 283.0,626.4 283.9,626.5 284.7,626.5 285.5,626.6 286.3,627.0 287.1,627.9 288.0,629.2 288.8,631.1 289.6,633.4 290.4,635.9 291.2,638.4 292.1,640.8 292.9,642.9 293.7,644.6 294.5,645.8 295.3,646.7 296.2,647.3 297.0,647.6 297.8,647.9 298.6,648.2 299.4,648.5 300.3,649.0 301.1,649.6 301.9,650.4 302.7,651.2 303.5,652.2 304.4,653.1 305.2,654.0 306.0,654.9 306.8,655.6 307.6,656.3 308.5,656.8 309.3,657.2 310.1,657.6 310.9,657.8 311.7,658.0" fill="none" stroke="#f0553a" stroke-width="0.85"/>
<path d="M341.5,604.5 V658.3 H451" fill="none" stroke="#333" stroke-width="0.9"/>
<line x1="339.5" y1="658.3" x2="341.5" y2="658.3" stroke="#333" stroke-width="0.7"/>
<text x="338" y="661.3" font-size="9.5" text-anchor="end" fill="#222">0</text>
<line x1="339.5" y1="618.5" x2="341.5" y2="618.5" stroke="#333" stroke-width="0.7"/>
<text x="338" y="621.8" font-size="9.5" text-anchor="end" fill="#222">2</text>
<line x1="352.8" y1="658.3" x2="352.8" y2="660.3" stroke="#333" stroke-width="0.7"/>
<text x="351.3" y="669" font-size="9.5" text-anchor="middle" fill="#222">&#8722;1</text>
<line x1="393.6" y1="658.3" x2="393.6" y2="660.3" stroke="#333" stroke-width="0.7"/>
<text x="393.6" y="669" font-size="9.5" text-anchor="middle" fill="#222">0</text>
<line x1="434.4" y1="658.3" x2="434.4" y2="660.3" stroke="#333" stroke-width="0.7"/>
<text x="434.4" y="669" font-size="9.5" text-anchor="middle" fill="#222">1</text>
<g><ellipse cx="393.6" cy="594.9" rx="2.2" ry="2.4" fill="white" stroke="#333" stroke-width="0.8"/><ellipse cx="390.7" cy="599" rx="2" ry="2" fill="white" stroke="#333" stroke-width="0.8"/><ellipse cx="396.5" cy="599" rx="2" ry="2" fill="white" stroke="#333" stroke-width="0.8"/><ellipse cx="393.6" cy="594.9" rx="1.8" ry="2" fill="white"/><ellipse cx="390.7" cy="599" rx="1.6" ry="1.6" fill="white"/><ellipse cx="396.5" cy="599" rx="1.6" ry="1.6" fill="white"/><rect x="392.6" y="597" width="2.1" height="2.5" fill="white"/><path d="M393.6,598.4 L392.7,602.2 L394.5,602.2 Z" fill="#333" stroke="#333" stroke-width="0.5" stroke-linejoin="round"/></g>
<polyline points="378.5,658.0 379.3,657.9 380.1,657.6 381.0,657.2 381.8,656.7 382.6,655.9 383.4,654.8 384.2,653.4 385.0,651.6 385.8,649.2 386.7,646.4 387.5,643.1 388.3,639.2 389.1,635.0 389.9,630.4 390.7,625.8 391.6,621.3 392.4,617.1 393.2,613.6 394.0,610.9 394.8,609.1 395.6,608.5 396.5,609.1 397.3,610.9 398.1,613.6 398.9,617.1 399.7,621.3 400.5,625.8 401.4,630.4 402.2,635.0 403.0,639.2 403.8,643.1 404.6,646.4 405.4,649.2 406.2,651.6 407.1,653.4 407.9,654.8 408.7,655.9 409.5,656.7 410.3,657.2 411.1,657.6 412.0,657.9 412.8,658.0" fill="none" stroke="#b5b5b5" stroke-width="0.85"/>
<polyline points="381.0,658.0 381.8,657.9 382.6,657.7 383.4,657.5 384.2,657.1 385.0,656.7 385.8,656.1 386.7,655.3 387.5,654.4 388.3,653.2 389.1,651.9 389.9,650.2 390.7,648.4 391.6,646.3 392.4,644.1 393.2,641.7 394.0,639.2 394.8,636.8 395.6,634.4 396.5,632.2 397.3,630.2 398.1,628.6 398.9,627.4 399.7,626.6 400.5,626.2 401.4,626.3 402.2,626.8 403.0,627.6 403.8,628.7 404.6,630.1 405.4,631.6 406.2,633.2 407.1,634.8 407.9,636.3 408.7,637.8 409.5,639.1 410.3,640.4 411.1,641.5 412.0,642.6 412.8,643.6 413.6,644.5 414.4,645.3 415.2,646.2 416.0,647.0 416.9,647.8 417.7,648.6 418.5,649.4 419.3,650.2 420.1,651.0 420.9,651.7 421.8,652.4 422.6,653.1 423.4,653.8 424.2,654.4 425.0,655.0 425.8,655.5 426.6,655.9 427.5,656.3 428.3,656.7 429.1,657.0 429.9,657.2 430.7,657.5 431.5,657.6 432.4,657.8 433.2,657.9 434.0,658.0" fill="none" stroke="#5a6ad0" stroke-width="0.85"/>
<polyline points="381.0,658.0 381.8,657.9 382.6,657.8 383.4,657.7 384.2,657.5 385.0,657.2 385.8,656.9 386.7,656.5 387.5,656.1 388.3,655.5 389.1,654.9 389.9,654.1 390.7,653.3 391.6,652.3 392.4,651.2 393.2,649.9 394.0,648.6 394.8,647.1 395.6,645.5 396.5,643.9 397.3,642.2 398.1,640.6 398.9,638.9 399.7,637.3 400.5,635.7 401.4,634.3 402.2,633.1 403.0,632.0 403.8,631.2 404.6,630.6 405.4,630.2 406.2,630.0 407.1,630.0 407.9,630.2 408.7,630.5 409.5,630.9 410.3,631.4 411.1,631.9 412.0,632.4 412.8,633.1 413.6,633.9 414.4,634.9 415.2,636.1 416.0,637.6 416.9,639.3 417.7,641.2 418.5,643.3 419.3,645.4 420.1,647.4 420.9,649.4 421.8,651.2 422.6,652.7 423.4,654.0 424.2,655.0 425.0,655.8 425.8,656.5 426.6,657.0 427.5,657.3 428.3,657.6 429.1,657.8 429.9,657.9 430.7,658.0" fill="none" stroke="#f0553a" stroke-width="0.85"/>
<path d="M465.8,604.5 V658.3 H575.6" fill="none" stroke="#333" stroke-width="0.9"/>
<line x1="463.8" y1="658.3" x2="465.8" y2="658.3" stroke="#333" stroke-width="0.7"/>
<text x="462.3" y="661.3" font-size="9.5" text-anchor="end" fill="#222">0</text>
<line x1="463.8" y1="620.8" x2="465.8" y2="620.8" stroke="#333" stroke-width="0.7"/>
<text x="462.3" y="624.1" font-size="9.5" text-anchor="end" fill="#222">5</text>
<line x1="477.2" y1="658.3" x2="477.2" y2="660.3" stroke="#333" stroke-width="0.7"/>
<text x="475.7" y="669" font-size="9.5" text-anchor="middle" fill="#222">&#8722;1</text>
<line x1="517.9" y1="658.3" x2="517.9" y2="660.3" stroke="#333" stroke-width="0.7"/>
<text x="517.9" y="669" font-size="9.5" text-anchor="middle" fill="#222">0</text>
<line x1="558.6" y1="658.3" x2="558.6" y2="660.3" stroke="#333" stroke-width="0.7"/>
<text x="558.6" y="669" font-size="9.5" text-anchor="middle" fill="#222">1</text>
<polygon points="514.5,593.2 522.1,597.4 514.5,601.6" fill="white" stroke="#333" stroke-width="0.8" stroke-linejoin="round"/>
<polyline points="512.6,657.7 513.4,656.6 514.2,653.8 515.1,648.4 515.9,639.4 516.7,627.8 517.5,616.3 518.3,609.0 519.1,609.0 519.9,616.3 520.7,627.8 521.6,639.4 522.4,648.4 523.2,653.8 524.0,656.6 524.8,657.7" fill="none" stroke="#b5b5b5" stroke-width="0.85"/>
<polyline points="511.0,657.8 511.8,657.3 512.6,656.4 513.4,654.8 514.2,652.5 515.1,649.3 515.9,645.4 516.7,641.1 517.5,637.2 518.3,634.3 519.1,633.0 519.9,633.5 520.7,635.6 521.6,638.8 522.4,642.3 523.2,645.6 524.0,648.1 524.8,649.9 525.6,651.1 526.4,651.7 527.3,652.0 528.1,652.1 528.9,652.3 529.7,652.5 530.5,652.8 531.3,653.1 532.1,653.5 533.0,653.9 533.8,654.4 534.6,654.9 535.4,655.4 536.2,655.8 537.0,656.3 537.8,656.6 538.7,657.0 539.5,657.2 540.3,657.5 541.1,657.7 541.9,657.8 542.7,658.0" fill="none" stroke="#5a6ad0" stroke-width="0.85"/>
<polyline points="511.8,657.9 512.6,657.6 513.4,657.2 514.2,656.4 515.1,655.4 515.9,654.0 516.7,652.2 517.5,650.0 518.3,647.7 519.1,645.2 519.9,643.0 520.7,641.1 521.6,639.9 522.4,639.3 523.2,639.5 524.0,640.3 524.8,641.6 525.6,643.0 526.4,644.6 527.3,646.0 528.1,647.2 528.9,648.2 529.7,649.0 530.5,649.7 531.3,650.4 532.1,651.0 533.0,651.6 533.8,652.3 534.6,653.0 535.4,653.7 536.2,654.4 537.0,655.1 537.8,655.7 538.7,656.3 539.5,656.7 540.3,657.1 541.1,657.4 541.9,657.7 542.7,657.9 543.5,658.0" fill="none" stroke="#f0553a" stroke-width="0.85"/>
</svg>
</body></html>
